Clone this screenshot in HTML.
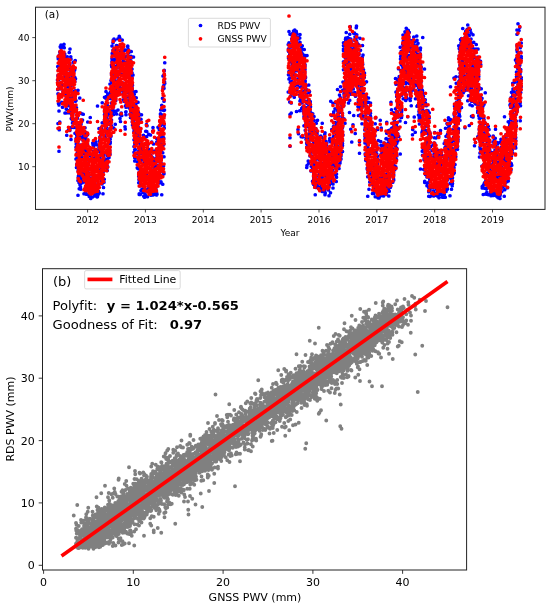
<!DOCTYPE html><html><head><meta charset="utf-8"><title>PWV</title><style>html,body{margin:0;padding:0;background:#fff}svg{display:block;font-variant-ligatures:none}</style></head><body><svg width="550" height="607" viewBox="0 0 550 607" font-family="DejaVu Sans, Liberation Sans, sans-serif">
<rect width="550" height="607" fill="#fff"/>
<g fill="none" stroke-linecap="round">
<path stroke="#0000ff" stroke-width="3.70" d="M94.5 194h0M306.75 147h0M429 155.25h0M346 79.75h0M441.25 155.5h0M60.75 47.75h0M304.5 55.25h0M366.5 81.75h0M407.5 63.5h0M435 156.75h0M71 139.5h0M496.5 156.5h0M315.5 141.5h0M289.25 58.25h0M430 190.75h0M510 144.25h0M426.5 146h0M93.5 151.25h0M367.5 162.5h0M475.75 66.75h0M133 105.5h0M425.5 103h0M327.25 177h0M153.75 167.5h0M428.75 131.5h0M335 122.5h0M163 76h0M486.5 189h0M493 145.75h0M292.75 65.5h0M118 87.5h0M497.75 149.25h0M129.5 76.5h0M152.75 131h0M416.75 45.5h0M497.75 175h0M377.5 164h0M73.5 78.25h0M515 116.75h0M439.25 195h0M306.25 107.75h0M65.75 78h0M476.5 59.5h0M330.75 182h0M409 39.25h0M321 184.25h0M59.5 86h0M339 101.5h0M59.5 59.5h0M94.75 196h0M477.5 88.75h0M89.25 196.5h0M393 173.5h0M90 156h0M74.75 77.25h0M306.75 167.5h0M312.5 181.25h0M107.25 105h0M305 69.5h0M464.75 76.25h0M291.75 38.75h0M383.5 194.25h0M482.25 186.5h0M383 150.75h0M88.25 163h0M520.75 52h0M462 92.75h0M297.5 76h0M517.5 77.25h0M495.5 161h0M69 85.5h0M469 44.75h0M333.5 156.25h0M78.75 179.5h0M304.75 72.25h0M339 168.5h0M121 52.25h0M479.5 140h0M115.5 67.25h0M292 65.25h0M513 89h0M422.5 99h0M490.75 195.25h0M355.5 93.75h0M424.25 158.75h0M365.5 155.5h0M501.75 176.75h0M363.5 69.75h0M413 44.25h0M112.5 82.5h0M142 147h0M333 103.25h0M400 121h0M424.75 169h0M110 143.75h0M495.5 129.25h0M86.5 150.25h0M438.75 156.5h0M84.75 176.25h0M472.25 66h0M84.5 150.5h0M110.5 106.5h0M445.5 128.25h0M493.25 136h0M342 128.75h0M156.75 138.5h0M112 58.75h0M290 146.25h0M494.5 176.5h0M362 101.75h0M517 58.75h0M106 167.75h0M99 128.5h0M419.25 118h0M140.75 185.5h0M510.75 107.5h0M107.5 113h0M78 195.25h0M422.75 116.75h0M110.5 136.75h0M368.5 102.25h0M396.5 154h0M407.25 57.25h0M517.25 100.5h0M405 31.75h0M452.75 129.75h0M489.5 164.25h0M461.75 62.5h0M86.25 194.25h0M471.25 93.5h0M401.25 64.75h0M414 84h0M356.5 26h0M364.25 77.25h0M330.25 153h0M348.25 58h0M123.25 91.25h0M455.25 152.5h0M364.5 73h0M461 90.75h0M368.75 119h0M344 91.75h0M58.75 94.5h0M82.25 173.25h0M365.75 119.5h0M455.5 156.5h0M415.5 98.75h0M446.75 146.75h0M367 141.75h0M388.5 130.5h0M90.25 117.5h0M318.75 138h0M152.25 161.5h0M486.25 194.25h0M68.5 112.75h0M519 57.5h0M442 194.75h0M403 88h0M389.25 191.25h0M393.75 164.25h0M440.25 166.25h0M447.5 180h0M493.75 162h0M498.25 157h0M138.5 154.25h0M142.5 189h0M348.5 68.75h0M128 55.5h0M313.75 179.5h0M420.75 65h0M314 131.25h0M100.75 159.75h0M116.75 50h0M509.25 153.5h0M324.5 154.5h0M154.5 151h0M120.25 50.75h0M421 82h0M340.5 97.75h0M347.75 64h0M95 183.25h0M394.5 121.25h0M131 57.75h0M405.75 33.25h0M429.25 112.75h0M368.5 98h0M383.75 178.75h0M489.5 181.75h0M297 79.75h0M107.25 170.5h0M72 97h0M422.5 130.25h0M135 132.25h0M59.25 55.25h0M422.5 155.25h0M103 193.75h0M344.75 49.75h0M317.5 120.25h0M419.5 119.25h0M390 144.75h0M372.75 184.75h0M417.25 85.25h0M521.25 58.25h0M437.75 196.25h0M133.5 105.75h0M65 113h0M134.25 128.5h0M66.75 135.25h0M118 38.75h0M293.5 31h0M362 107.25h0M506.5 157.75h0M478.75 70.25h0M434.75 193.25h0M484.25 132.75h0M368 170h0M465.25 36.75h0M350.75 129.25h0M156.75 142h0M399.25 85h0M487.5 173h0M297.25 61.5h0M321.5 178.75h0M119.75 45.75h0M128 50.5h0M391.5 109.75h0M499.5 197.25h0M125.25 129h0M153.5 192.75h0M508.5 178h0M143.75 196.25h0M366.25 102.5h0M315.5 164h0M368.5 149.5h0M76.5 167.5h0M153 195h0M157 194.25h0M305.25 95.75h0M354.25 48.75h0M392.75 182.25h0M334.5 174.25h0M134 132h0M308.75 85h0M138.25 114h0M317.5 131.25h0M343.5 49h0M405.75 100.5h0M304 116.75h0M520.25 47.75h0M111.25 127h0M520 72.25h0M337.5 111h0M430.75 156.25h0M344 118.75h0M145 189h0M469.25 35.5h0M100 157.75h0M394 126h0M367.25 145.75h0M138.75 182.75h0M305.25 130.25h0M360.75 74.5h0M449 156.25h0M337.25 146h0M397.75 80.5h0M448.5 119.75h0M71.5 85.25h0M440.75 165.25h0M479.5 126.5h0M164.25 128h0M454.25 114h0M403.75 87.75h0M336.25 133.5h0M327.75 149.75h0M307.25 146.25h0M446 191.5h0M302.25 53.75h0M316.25 123.25h0M388.25 143.25h0M344.25 102h0M141 190.5h0M470.75 90.5h0M342.5 151.5h0M162.5 175.75h0M304.25 49.5h0M427.75 124.75h0M367.5 169.75h0M352.75 87h0M428 133.25h0M72.25 103h0M444.5 190h0M384.25 143h0M106.75 160.5h0M422.5 90.5h0M79.25 136h0M472 90h0M456.5 102h0M404 83.5h0M348.75 61h0M417.5 62.25h0M309.75 130.75h0M164 124.25h0M433.75 190.75h0M518 81.5h0M480.75 151.5h0M314.75 180.25h0M466.25 65.75h0M392.25 135.5h0M87.5 134.75h0M475.75 78.5h0M484.75 140.5h0M138 115.25h0M303.25 111.25h0M365 136.25h0M366.5 127h0M487 152h0M516.75 62.75h0M445 161.5h0M158 127.25h0M479.25 103.5h0M74.75 69.75h0M69.75 130.5h0M352.5 68.5h0M450 157.25h0M381.25 195.25h0M420.5 119.5h0M501 165.75h0M447.25 189.25h0M361.75 86.25h0M107.25 97.5h0M516.25 121h0M521.25 43h0M70.75 97.5h0M394.75 113.75h0M128 52.25h0M129 96h0M518.75 89.75h0M358 106.5h0M319.5 173h0M499.5 194.75h0M62.5 107.25h0M487.5 137.75h0M444.25 194.5h0M466.25 50.25h0M323.5 187.25h0M157.75 166.75h0M429.5 139.5h0M80.75 145h0M338.25 117.25h0M396.75 143.25h0M125.75 50h0M162.25 145.25h0M475.75 78h0M159.75 156.75h0M308.75 115h0M336.25 181.5h0M92.5 197h0M113.5 60.75h0M347.75 37.5h0M325 194.75h0M394.25 138.25h0M460 65.25h0M111.75 82h0M313 170.25h0M145.25 189.25h0M80 136.75h0M132.25 89h0M112.25 60h0M352 93.25h0M482.25 142.25h0M300.25 75h0M301.5 47.5h0M127.25 55.75h0M116.5 45.5h0M111 80.5h0M353.25 89h0M355 36.75h0M389.75 130h0M356.25 27.75h0M510.25 154.75h0M502.25 159h0M336.75 165.5h0M339.5 95h0M163.75 124h0M65.5 76h0M501.25 147.5h0M106.75 133.75h0M494 187.5h0M461.5 38.5h0M131.25 74.5h0M128.5 92.75h0M500.5 176.25h0M146.75 131.5h0M506.75 160.25h0M346.25 32.5h0M341.75 105h0M341 156h0M376.5 178.5h0M406.5 73.25h0M436.75 164.25h0M144.75 163.25h0M58 123.5h0M495.25 172h0M119.25 36.25h0M498.5 179h0M372.5 173.75h0M383.75 145.25h0M138.75 176.25h0M289.75 78h0M410.75 79.5h0M352.5 93h0M101.5 169.5h0M84.75 172.25h0M403.25 98.75h0M164.25 70.75h0M358.5 107h0M514.25 91.75h0M156.5 150.5h0M161.25 151h0M137.5 161.5h0M377 197h0M396 159.25h0M386.5 193h0M160.5 125.5h0M104.5 97.25h0M365.25 153.75h0M331.75 115.5h0M69.25 52.5h0M410.25 100.5h0M356.5 51h0M348 95.5h0M149.25 186.75h0M487.5 141.5h0M397.5 111.75h0M400.5 77.25h0M379 179.25h0M396.5 141.75h0M410.25 92.75h0M103.75 156.25h0M58 93.75h0M471.5 43h0M72.5 123h0M313.75 142.75h0M447.25 147.75h0M99 166.75h0M424.25 111.5h0M430.25 187.25h0M495.75 166.75h0M129.75 66h0M67.5 73h0M135 119.25h0M290 53h0M344.25 97h0M485.5 150.75h0M323.5 191.25h0M489 150.75h0M131.75 87h0M90.25 197h0M413.75 37h0M487.75 187.5h0M384.25 174h0M517.5 90h0M411.5 78.75h0M490.5 193.5h0M377 155.5h0M98.5 191.25h0M364.75 116.25h0M495.5 146.5h0M308.75 106.25h0M306.75 103.25h0M451 142.75h0M341 159h0M361 77.25h0M478 76.75h0M301 51.5h0M73.75 91.5h0M163.75 110.5h0M90.75 198.5h0M521.25 79.5h0M504.5 116.75h0M420.5 48h0M425.5 126h0M99.25 171.25h0M396.25 136.25h0M163.75 138h0M413 44h0M385.75 194.5h0M111.75 75h0M437.75 194.75h0M370.25 149h0M332.75 170.25h0M310.75 144.25h0M314.75 182.25h0M401.75 108.75h0M518.5 72.5h0M133 91.25h0M93 144.75h0M304.5 57.5h0M479 87.25h0M112.5 111.25h0M409.75 83h0M407.5 30.75h0M460 120.25h0M473.75 55.25h0M506.5 136h0M159.25 129.5h0M465 81h0M138 126.75h0M503.75 159h0M459.25 59h0M85.75 192.5h0M127.75 46h0M312 133.25h0M343.5 69.75h0M508 143.25h0M78.5 181.25h0M484 119.75h0M292.75 33.25h0M432.5 187.5h0M450.25 150h0M368.5 113h0M76 100.5h0M116.25 57.5h0M107.25 160.25h0M115.25 86.25h0M424.5 170h0M433.25 158.25h0M400.5 59h0M159.5 183h0M325.25 193h0M128.5 60.5h0M397.25 101.75h0M67.5 93h0M57.5 80h0M88.5 172.75h0M379.25 177.75h0M363.75 100.75h0M445.25 197.25h0M346 87.5h0M132.25 93.25h0M485.5 123.5h0M158.75 178.75h0M365.5 119.5h0M483.75 164.5h0M360.5 108.75h0M407.75 116.75h0M138.5 116.25h0M315 160.5h0M450 120h0M473.25 57.25h0M395.75 138h0M134 146.5h0M321.75 163.25h0M345.25 58h0M134 139.75h0M102 184h0M74.25 120.75h0M362 104h0M351.25 67.25h0M143.5 135.25h0M448.5 134.5h0M511.5 149h0M65 75.25h0M365.5 137.25h0M140.25 138.75h0M108 156h0M450.5 119.5h0M136.25 134h0M462.5 60.5h0M520.25 120.75h0M469.25 125.5h0M157 165.75h0M480.75 64.5h0M117.5 65.25h0M498 164h0M115.25 124.25h0M460 51.25h0M163.25 137.25h0M407 98.75h0M120.25 114.75h0M158.25 165.5h0M511.5 156h0M392.5 152.75h0M94 159h0M162 136.5h0M454 137h0M359.5 141.5h0M335.25 166.25h0M116.25 46h0M106.5 96.5h0M403.75 40h0M160.5 171.25h0M420.25 64.75h0M392.75 148.75h0M161.25 163.25h0M331.75 129.5h0M69.5 87.25h0M126 107.25h0M344.5 83.25h0M447.5 151h0M310.25 113h0M82.25 181.25h0M369.25 154.5h0M308.25 161h0M76.5 107.75h0M463.75 89h0M143 192.5h0M144.75 136.75h0M437.75 136.5h0M471 39h0M401.75 95.25h0M115.25 75h0M511.5 123.5h0M420.5 169h0M288.25 92h0M454.75 106.5h0M73.25 62.25h0M438.75 136h0M163.5 166h0M330.75 165.5h0M437.5 192.25h0M456.75 129.5h0M347 41.5h0M302.5 137h0M511 97.75h0M59 151.25h0M343.5 50.75h0M410 55.25h0M324.75 134.25h0M521 57.75h0M120 40.25h0M79 158h0M330.75 183.25h0M367.25 147.75h0M383.5 196h0M67.25 59h0M319.25 160h0M128.25 107h0M471.5 48.75h0M499 195h0M311 171h0M343.75 105.75h0M393.75 175h0M65 57h0M396.5 124h0M396 92h0M300 87h0M362 123.75h0M508.25 181h0M133.5 113.25h0M507.5 187.75h0M374 192.5h0M429.75 154h0M77.75 144.75h0M424.25 99.5h0M123.25 94h0M499.5 162h0M82.5 137.75h0M430.5 146.5h0M475.75 75h0M389.25 180.75h0M84 180.75h0M80.5 187h0M137.25 167.75h0M384 148.75h0M71.25 118.5h0M128.5 49.75h0M489.25 169h0M298.5 133.75h0M158.25 180.75h0M367.25 168h0M366.75 141.75h0M384.75 188h0M453.75 173.5h0M125 98h0M103.5 162.25h0M77.25 128h0M492.75 195h0M405.25 35.25h0M434.5 156.25h0M349 38.5h0M467.25 29.25h0M407.75 55.75h0M425 160.5h0M62.5 84.5h0M302 103h0M78 159.75h0M475.5 50h0M134.75 161h0M448 134.25h0M319.5 177.25h0M484 152.5h0M333.5 126.5h0M458.5 99h0M356.25 37.5h0M497.25 142.5h0M61 65.75h0M395.75 146.25h0M398.75 136.5h0M344.5 88.75h0M447 177h0M487.75 126.25h0M423 122.25h0M83.25 114.25h0M312.75 151.5h0M397.75 133.75h0M516.5 76.75h0M450.25 123h0M513.75 137.75h0M67.5 67.5h0M476 49h0M349 63.25h0M417.5 54.25h0M101.5 181h0M521.25 56.5h0M458.25 130.5h0M306.75 94.25h0M298.25 39h0M436.25 149.75h0M497 175.25h0M368.25 171.75h0M81 123.25h0M298.25 37.5h0M307.25 117.25h0M370 170.75h0M84.25 159.75h0M333.5 136.5h0M354.25 33.25h0M337.25 110.25h0M410.5 98h0M305 66h0M478.75 115.75h0M115.75 90h0M105 124.25h0M155 166.75h0M416.75 36h0M292.5 63.75h0M439 197.75h0M87.5 144h0M369.75 113.25h0M90.25 168h0M297 90.5h0M401.5 117.5h0M120.5 121.5h0M519.75 72.75h0M329 195.75h0M367 128.5h0M128.75 102.75h0M316 187.5h0M88.5 153.75h0M409.25 49.25h0M143 150.5h0M96 158.5h0M312.5 168h0M74.75 81.5h0M75.25 60.5h0M514 102.75h0M342.5 113.25h0M516 105.5h0M335.5 146.5h0M397.5 90.25h0M370.75 118h0M126 111.75h0M103.5 187.5h0M79.75 98h0M120 72.75h0M366 117h0M497.75 144h0M302.75 71.5h0M329.75 140.5h0M86 140h0M148.5 185.25h0M460.25 73.25h0M145 193.75h0M163.75 144.25h0M403.75 83h0M370.5 116.75h0M133.5 128h0M418 43.25h0M133.75 94h0M102.25 122.75h0M353.75 115.5h0M350.25 27h0M330.75 101.25h0M407.25 69.75h0M367.75 146.25h0M66.5 85.75h0M370.5 113.25h0M148.75 134.25h0M365.75 160.25h0M403 50.5h0M375.75 117.75h0M70.25 104h0M353 124.75h0M60.75 46.25h0M462 83.25h0M421 88.75h0M505.5 156h0M480.5 100.25h0M452.5 183.5h0M421.25 67.25h0M306 107.5h0M159.5 173h0M142 189.25h0M432 150.75h0M309.5 91.5h0M504.25 196.25h0M517 49.5h0M343 82h0M422.25 151.25h0M112 46h0M110 128.25h0M326.25 144.5h0M300.5 100h0M289 71.5h0M133 112h0M426.25 170.75h0M365.25 143h0M141.5 114.75h0M458.5 116.5h0M109 157.5h0M491 172h0M335 108.75h0M520 73.25h0M354 46h0M132.5 107.5h0M490.5 191.5h0M388.75 190.25h0M115.75 100.5h0M78.25 124.5h0M384 177.75h0M86.25 183h0M99.75 141.5h0M397 95.75h0M348.5 39h0M477.5 80.75h0M64 44.25h0M71.75 113.5h0M324.75 192.25h0M455.25 148h0M121.25 113h0M496.5 195h0M388.5 189.75h0M298 129.5h0M126.25 105h0M413 42h0M441 154.75h0M479.25 106h0M294.75 75h0M453.5 137.25h0M361.75 116.75h0M113.5 105.75h0M476 58h0M425 154h0M326.5 144.5h0M442 155.25h0M417.75 105.25h0M85.5 175.25h0M403 67.75h0M340 161.5h0M343 135h0M401 70.5h0M510.75 104.75h0M444.5 157.5h0M363 55h0M386.25 174.25h0M317.5 176h0M358.5 115.5h0M337.75 105.75h0M464.25 68h0M494.75 177.25h0M138 133.25h0M393.5 122.75h0M302.25 45.75h0M471.75 88h0M454.75 117h0M308.75 141.5h0M479.75 118.5h0M428.75 148h0M341.75 146.25h0M65.75 93.5h0M162.75 115h0M452.5 155.75h0M321.75 175h0M134.25 94.25h0M432.75 195.25h0M93.5 158.75h0M144.25 163h0M112.75 108.5h0M332.25 156.5h0M97.25 152h0M144.5 197.25h0M83.25 135.5h0M502 167.25h0M468.5 95.75h0M315.5 181.25h0M338.25 152h0M508.25 121.75h0M358.25 83.75h0M60.25 46.75h0M395.5 78.5h0M156 189.75h0M311.5 113.5h0M452.5 181h0M485.25 92.75h0M420.25 53.75h0M411.5 46.5h0M403 35h0M95.5 144.75h0M387.25 144h0M513.25 122.75h0M320 187.25h0M102.25 130h0M163 88.75h0M138.75 134h0M105 107.5h0M147 125.75h0M478.5 68.75h0M160.75 110h0M312 130.75h0M406.5 97.25h0M497 176.75h0M491.5 152.75h0M356.5 40.75h0M447.25 148h0M460.5 77.75h0M131.25 75h0M514.75 98.75h0M296.25 31.25h0M335.75 102.25h0M329.75 138.5h0M420 68.75h0M108.5 139.25h0M447.5 134.25h0M392 128h0M518.75 104.5h0M423.25 129.25h0M518.25 54.5h0M344 93.75h0M130.75 60h0M481 98.5h0M291 93h0M136.25 97.75h0M410 51.25h0M422.25 133.5h0M304 108.5h0M479.5 157h0M323.5 187.5h0M328.5 190h0M133.25 122h0M307 90h0M460.5 39.5h0M128 52.5h0M99.25 193h0M459.75 109.5h0M85.25 154h0M93.25 147h0M386.75 133.25h0M499.5 195.75h0M104.5 120.25h0M91 179h0M417 40.25h0M418.5 87.5h0M455.25 145.25h0M448 137h0M483.75 117.75h0M365 143h0M302 84h0M425 105.25h0M507 181.75h0M418.5 88h0M458.75 45.75h0M103.25 171.75h0M77.25 157.25h0M158.25 161.75h0M382.5 176.5h0M411 91.5h0M105.25 137.75h0M122.75 74.5h0M511.75 165.25h0M389.25 177.25h0M518.5 52.75h0M311.25 166.25h0M459.25 114.25h0M343.5 61.75h0M479.25 129.5h0M517.25 109.75h0M487.5 126.75h0M119 85.75h0M408.25 30.25h0M120.5 68.25h0M419.5 124h0M475.5 142.25h0M515.75 148h0M329.75 140h0M314.25 162.75h0M161 143.75h0M98.75 149.75h0M423.75 169.5h0M427 142h0M398 117h0M430 190h0M298.5 79.5h0M456.75 147.25h0M314 116.5h0M403.75 47h0M457.5 140.5h0M75.25 119h0M415.5 84.5h0M421.5 87.75h0M500 195.5h0M395.25 135.5h0M156.25 158h0M515.5 114.5h0M151.5 149.5h0M59.25 129.75h0M434 143h0M132 69h0M482.25 188h0M59 105h0M459.5 76.75h0M97.5 193.5h0M148.5 188.75h0M381 145.25h0M357.5 74.25h0M322 177.75h0M500.5 190.25h0M72 76.5h0M503.75 138.75h0M345.75 63.75h0M90.25 195h0M77.5 134.5h0M451.25 183.75h0M480.75 122.75h0M520.25 102.5h0M329.25 185.25h0M368.5 143.75h0M426.75 110.5h0M288.75 57.75h0M436.75 195.25h0M122.75 51.5h0M454.75 106h0M111.5 98.75h0M296.25 36.75h0M472.75 68.5h0M112.75 109h0M418 48.75h0M58.5 69.75h0M457.5 149.25h0M518 83h0M516.25 94.25h0M294.5 86h0M135.25 153.75h0M517 50.25h0M445 147.5h0M423.25 93h0M422.75 110h0M316 123h0M388.75 187h0M164.5 110h0M473 34.75h0M156 194.5h0M386 186.25h0M370.75 135.25h0M459.25 116h0M350.75 94.25h0M344.25 89h0M132.5 125h0M96.5 144.5h0M124.25 58.5h0M336.5 124.5h0M505 183.75h0M317 133.5h0M83.25 134h0M156.75 193.25h0M434.25 143.75h0M312.5 134.25h0M448 177.75h0M75 133.25h0M478.5 86.25h0M412.25 90h0M317.75 158h0M399.25 76.5h0M101.75 152.25h0M479.25 133.75h0M141.25 153.5h0M317.75 186.5h0M310.75 112.5h0M393.75 180h0M139.5 146.75h0M290 34.25h0M97 195.25h0M292 35.25h0M134.75 149.75h0M476.25 77h0M507.5 139.5h0M350.25 91h0M138.75 113.5h0M337.75 153.25h0M467.25 73.75h0M489.75 150h0M372 172.25h0M452 141.75h0M423 148.25h0M405 70.25h0M107 116.25h0M433.75 196h0M68.25 77.25h0M350.25 48h0M479.5 60.75h0M514.25 121.75h0M503 186.75h0M140.5 158h0M378.25 198h0M98 169.75h0M335.5 129.75h0M289 79h0M373.5 177h0M74 71.5h0M380.25 120.25h0M462.75 28.5h0M301.75 108.25h0M72.25 119.75h0M445.25 141.5h0M515.5 144.75h0M156.25 161.25h0M84.25 153.5h0M153.5 144h0M134.75 157.75h0M477.75 136.75h0M510.75 119h0M97.25 197h0M164 173.75h0M510.25 104.5h0M303 91.75h0M74.25 111.75h0M318 158.75h0M473 117h0M480 147h0M363.5 102.75h0M465 127.75h0M377.5 129.5h0M135.75 104.75h0M96 141.75h0M410 48.5h0M333.5 113.75h0M305.5 77h0M485.5 194h0M373.75 165.75h0M340.75 112.25h0M471.25 88h0M104.75 112.25h0M128.75 52.5h0M314 164.75h0M516.5 58.5h0M100.75 139h0M506 134.5h0M122.25 40h0M110.5 98.5h0M362.25 57.25h0M500.75 192.25h0M380.75 141.5h0M66.5 109.25h0M305.5 77.75h0M67.25 56.75h0M59.75 52h0M113.25 55.25h0M492.5 160h0M125.25 56.75h0M427.25 143.75h0M492.75 152.75h0M414.75 50.75h0M138 142.5h0M420.5 116.5h0M309 134.5h0M59.75 122h0M397 148.5h0M455 164.5h0M473 75.75h0M379.75 195.25h0M374 193.5h0M374.5 152h0M105.75 96.75h0M296.75 34h0M488.5 145.5h0M427.5 183h0M393.25 177.25h0M409.5 91h0M63 91.75h0M418.5 115h0M141.25 190.75h0M289.75 44.5h0M119 78.5h0M454.25 114.5h0M80.5 156.5h0M454.25 140.25h0M516.25 99h0M429.5 131.75h0M515.25 144.5h0M59 111h0M445.25 188h0M393.25 166.25h0M413.75 42h0M61.25 82.5h0M420.5 55h0M353.5 75.25h0M288.5 48.75h0M518 23.75h0M349.75 100.25h0M288.75 51h0M83.5 179.25h0M388.25 143h0M342.5 141h0M517.75 68.5h0M483 117.75h0M431.75 195.5h0M320.75 136h0M484.5 188.25h0M303.25 86.5h0M458 139.25h0M164 116h0M328.75 153h0M493.5 195.5h0M461.5 107.5h0M69.75 64h0M351 41.25h0M89 160.75h0M437.5 163h0M513.25 91h0M397.75 141h0M477.25 104.25h0M123.75 60.25h0M427 185.75h0M342.5 145.5h0M417.25 59.25h0M512.25 135.5h0M330.5 192.75h0M381.25 128h0M467.75 87.75h0M520 104.75h0M153.5 162.25h0M483.5 164.75h0M363.75 94.25h0M493 142h0M369.75 174.5h0M76 147.25h0M511.25 163.5h0M111.5 126h0M68.25 68.25h0M440.25 155.5h0M140 143.75h0M513.5 144.5h0M112 61.5h0M134.75 137h0M505 138.75h0M291.5 47h0M462.25 41.5h0M467 50h0M418.75 91.25h0M312.25 119.5h0M58.5 103.5h0M126.5 97.25h0M470.25 90h0M135.5 143h0M434 154.25h0M81 178.5h0M101.5 127.5h0M310 132.75h0M386.75 122.25h0M332.25 164h0M434.5 137.75h0M71 108.25h0M299.75 94.75h0M448.75 127.25h0M463.25 92.75h0M156.5 195h0M510.25 125.25h0M162.75 152.75h0M110 154.25h0M104 154.25h0M150.75 155h0M307 121.75h0M296.5 111.5h0M288.5 74.75h0M421.75 106.25h0M140 186h0M424 159.75h0M110.25 112.5h0M511.5 92.25h0M400 116.75h0M415.5 91.25h0M467.75 100.75h0M136 91.5h0M74.75 80h0M494.25 139.75h0M440 192.5h0M104.25 136.5h0M305 64.5h0M376.75 153.75h0M84.25 154h0M300.25 97h0M345 64.75h0M414.5 42h0M468.25 28.75h0M344.5 96.25h0M501 139.25h0M312 114h0M290.25 82.25h0M351.75 142h0M132.25 83.5h0M297.75 44h0M383.25 153.25h0M467.25 34h0M57.75 66.5h0M114.75 50.75h0M68.5 130h0M113 59h0M372.25 128.5h0M387.25 147.75h0M500.25 193.75h0M445.5 144h0M148.5 149.25h0M66.75 87h0M516.5 61.75h0M84.75 181.75h0M84.75 134.5h0M463.75 90h0M131.25 57.5h0M430.5 179.5h0M107.5 115.25h0M325.75 176h0M335.25 118.5h0M444 194.75h0M336.5 174h0M297 43h0M300 42.25h0M81 113.25h0M448.5 117.75h0M446 136.25h0M112.25 53.25h0M82.5 120h0M123.25 99.75h0M350.25 26.5h0M482 166h0M356.75 37h0M164.75 62.75h0M447 159.5h0M89.25 196h0M394.75 169.75h0M427.25 157h0M111 121.25h0M58.75 79.75h0M458.25 94.5h0M483.25 194.5h0M324.75 176h0M473.75 42.25h0M350.5 67.75h0M294.75 30h0M492.75 164.25h0M122.5 62h0M421.5 88.25h0M425.25 99.75h0M81 124.25h0M515.75 140.5h0M85 127.75h0M477.75 112.5h0M495 150h0M356.75 34.75h0M72.75 114h0M491.75 171h0M115 59.75h0M336.25 134.75h0M106 91.5h0M291.25 113h0M467.75 86.25h0M146.25 174.25h0M477.75 111h0M291 61.75h0M78 180.5h0M493 192.25h0M455.75 156.5h0M151.75 156.75h0M364.75 130h0M152 194.5h0M161.75 194.75h0M481 107h0M517.25 51.75h0M71 59h0M420 113.25h0M424.75 182.5h0M500 198.5h0M154.5 160h0M105.75 128.25h0M63.5 46.5h0M375 188.5h0M391.5 128.5h0M83.25 159.75h0M473 48.25h0M396.75 156h0M83 140.25h0M396.75 111.5h0M163.75 85.75h0M104 182.25h0M391.75 133.75h0M324.75 191h0M99.75 140.25h0M481.25 100h0M481.25 88.75h0M143 158.25h0M345 123.25h0M369.75 182h0M313.5 184.25h0M512.75 83.25h0M111.75 66.75h0M125.5 105.75h0M129.5 97.25h0M415.5 81.25h0M306 122.75h0M89.25 177.5h0M302.75 107h0M82 159h0M111.5 65h0M452 148.5h0M471 32.75h0M309.5 126.5h0M467 90h0M480.5 124.5h0M124 101.25h0M111.75 93.25h0M398.75 78.75h0M72.5 111h0M437.5 154h0M459.75 116.25h0M429 135.75h0M64.75 54h0M397.5 129.25h0M333 184h0M291.75 81.5h0M395.75 167.5h0M333 188h0M130.75 111.25h0M512.5 105.75h0M447.75 124.5h0M322.25 123.25h0M419 111.5h0M450 195.75h0M72.75 126.75h0M427.5 133h0M117 68h0M288.5 51.25h0M362 115h0M301 49.75h0M162.75 184.25h0M519.25 66.75h0M305.75 86h0M456 76.75h0M164 125.25h0M463.5 64.5h0M330.25 141.75h0M453.5 174h0M152.75 157.75h0M470 104.75h0M155.75 188.5h0M359 54.5h0M70.75 127.75h0M76.75 135.5h0M477.75 91.5h0M404.5 82.5h0M326.75 143h0M365.5 116.5h0M345.75 38h0M461.25 44.25h0M334 122.75h0M314.75 187h0M443 195.75h0M293.75 73.25h0M454.25 115h0M427.25 117.5h0M130 114.25h0M320.75 189.25h0M424.5 69h0M398.75 105h0M116.5 114h0M76.25 111h0M135.25 149.5h0M479.25 118.25h0M139.75 160.25h0M358.75 44.75h0M81.75 157.5h0M369 189.25h0M454.25 151h0M140.75 160.5h0M519 30.5h0M110.5 92h0M138 102.25h0M316.75 185.75h0M113 42.75h0M351.25 69.25h0M307 138.5h0M472.25 105.75h0M78 144h0M504.75 189.75h0M348.5 103h0M343.5 42.75h0M425.5 174.5h0M115 111.25h0M335.25 163.75h0M397.5 127.25h0M118 110h0M367.75 196.25h0M106.25 127.5h0M365.25 127.5h0M501 188.75h0M402.75 44.25h0M358 84.75h0M289.75 54.5h0M291.25 103h0M401.5 112.5h0M354.75 92.5h0M316.75 168h0M106.5 161.25h0M415.25 132.25h0M290 137.75h0M139 169h0M402.75 66.25h0M456.5 109.5h0M505 161.75h0M104.5 114.75h0M360.75 90.5h0M451.75 180h0M391 102.25h0M426.5 138.25h0M480 153h0M480.25 149h0M164.25 70.25h0M433 145h0M108.5 114h0M494.25 192h0M429 148.5h0M358.5 99.5h0M459 81h0M75 91.25h0M381.25 148.75h0M317 134.25h0M422 132.25h0M111.5 120h0M450 183.5h0M78.25 170.5h0M308.75 99.5h0M92.5 175h0M458.5 112.25h0M365.75 115.75h0M379.5 197h0M66.25 109h0M113.75 128h0M138 158.5h0M321.5 137h0M100 136.75h0M428 110.75h0M458.25 132.75h0M489 129.5h0M414.25 117h0M510.75 103.75h0M76 141h0M437.25 189.25h0M163 145.5h0M132 72.75h0M365.25 105.75h0M111.5 73.75h0M310.25 123.75h0M313.75 174.5h0M57.75 89.5h0M99 147.75h0M120.75 88h0M428.75 187.5h0M315.75 128.5h0M511 120h0M510.75 170.25h0M359.5 153.25h0M153 127.5h0M134 131.25h0M354.75 84h0M110.25 139h0M70 49h0M419 114.5h0M454.75 148.5h0M151.75 142h0M355.5 96.25h0M305 82.25h0M146.75 136.5h0M361.75 105.75h0M160.5 114.75h0M426.25 105.75h0M454.5 106h0M377.5 156.25h0M436 138h0M299.75 110.75h0M458 141h0M458.75 93.25h0M340 163h0M365 139.25h0M516.25 126.5h0M332.5 166h0M409 32.25h0M386 138.75h0M367.25 169h0M480.5 149.5h0M375 135.75h0M500.25 142.25h0M108 131h0M380.25 168h0M518 84.75h0M451.5 189.25h0M110.25 141.75h0M441.25 152.25h0M483.5 184.75h0M470.25 29.75h0M304.25 115.75h0M412.25 40.5h0M406.5 83h0M107.5 121.5h0M139 127.75h0M145.25 194.75h0M79 175h0M66.25 97h0M345.5 41.75h0M365 129.25h0M480.5 61.25h0M140 147.5h0M453.75 165.5h0M478 49h0M362.25 60.5h0M307 126.25h0M65.75 113h0M95.75 144.25h0M289 31.5h0M406.25 28.25h0M357.5 69.5h0M132.5 85.25h0M461 43h0M291 95.5h0M357.25 43.5h0M510 105h0M137.75 168.5h0M160.75 137.75h0M98.5 194h0M382 152.75h0M497.25 162.25h0M360.75 88.75h0M427 177h0M490.75 152.25h0M331 182h0M76.25 144h0M509.5 165.75h0M389.25 139.5h0M305.25 89.25h0M119.75 92h0M147.5 196.75h0M516.25 111.25h0M405.5 83.75h0M77.75 151.75h0M474.5 102.25h0M459.25 48.5h0M411.25 105.75h0M398.5 68.75h0M513.5 108.25h0M306.75 143.5h0M139.25 193.75h0M458.5 128.5h0M471.5 116.25h0M475.75 104h0M329.75 180h0M299.5 69.25h0M514.75 107.75h0M162.25 109.75h0M288.25 44.5h0M393.5 178.25h0M395.5 108.75h0M61 45h0M134.75 143.75h0M114 78.75h0M413.25 87.75h0M422.75 37.5h0M480.25 96h0M343.5 45.5h0M318.25 183h0M342.5 127.5h0M338.25 115.25h0M130.5 117.5h0M309.25 127.75h0M74 127.5h0M146.5 124.5h0M392 133.75h0M429.25 117.75h0M505 185.75h0M465 37.25h0M116.5 81h0M339.5 155.75h0M352.75 49.5h0M81.75 113.75h0M451.25 179h0M358 88h0M310.25 152.5h0M401.75 115.75h0M501.25 188.5h0M111.5 103h0M345.75 79.75h0M108.75 94.25h0M434.25 192.75h0M388.75 196h0M100 149.75h0M483.75 124h0M297 84h0M127 100.25h0M375.75 152h0M79 175.5h0M87.5 194.25h0M342.5 117.25h0M337.5 89.5h0M447 123.5h0M409.75 42.75h0M296 70.75h0M512.75 153h0M60.5 88.5h0M370.5 116.25h0M372.5 193.5h0M326.75 147.5h0M517 34.25h0M71 108h0M376.75 150h0M132.25 121.75h0M381 154.5h0M323.25 138.75h0M333.5 131.75h0M520 74.5h0M450.5 86.75h0M124.25 50.75h0M59 104.5h0M477.75 91.25h0M408.75 36.5h0M138.5 151.5h0M459.25 56h0M341 153.75h0M360.25 84.75h0M471.5 101.25h0M304 113h0M421.75 104.75h0M465.75 31.25h0M306.75 142.5h0M141.75 160h0M495.75 194.25h0M491 195.75h0M338 122.5h0M396.75 96.5h0M400.25 154h0M106 98.5h0M164.5 81.75h0M390.75 186h0M405.5 122.5h0M519.75 64h0M478.75 76.5h0M310.25 103h0M487.75 138h0M68.5 104.5h0M335.5 144.25h0M434.75 143.25h0M403.25 41.25h0M101 134.25h0M79.25 188.75h0M164 156.75h0M378.25 140.5h0M452.25 185.75h0M430 196.5h0M483.25 127h0M163.75 75.25h0M310 138h0M307 165.5h0M428.75 196.25h0M449 137.5h0M466.5 47.75h0M60.75 88.75h0M467.5 89h0M300 101h0M459 69h0M369 120h0M509.75 123.75h0M324.75 188.75h0M75.5 101.25h0M117.5 76h0M133.5 57h0M464.25 91h0M110 84h0M80.75 189.25h0M460.25 66.5h0M497 153.5h0M405.5 82.25h0M485.75 181h0M139 179.75h0M509.75 125.5h0M69.5 110.25h0M401.25 51.25h0M295.75 85h0M482 98.25h0M455.25 126.5h0M341.75 130h0M107.75 159h0M497.75 197.25h0M458.25 123h0M98.75 192h0M403.5 45.25h0M354 47.5h0M137.25 135.25h0M70.75 56.75h0M474.5 145.75h0M349.75 34.25h0M58.25 58.75h0M521.25 86.5h0M338.75 164.5h0M351.75 43.5h0M510 162.5h0M84 193.75h0M162.5 98.25h0M71.25 113.5h0M465 86.5h0M161.75 105.25h0M358 85.75h0M481.5 149.5h0M380.5 195.75h0M107.75 94h0M290 114.5h0M453.75 173h0M365.5 106.25h0M396.5 159.5h0M110.75 124.5h0M145.75 131.25h0M114.75 40h0M347.25 93.5h0M104.25 179.25h0M126.75 62.5h0M129.75 99.5h0M515.75 137.5h0M61 48h0M430.25 133.5h0M92.75 143h0M429.75 179.5h0M367.75 176.75h0M111 114h0M77.5 118.25h0M310.5 106.75h0M390 139.25h0M93.25 177h0M134 95h0M288.5 58h0M424.75 181.25h0M329.25 149.75h0M452.25 177.5h0M87.75 153.5h0M84 137.5h0M421.5 75h0M306.5 136.5h0M456.25 83.25h0M488.5 194.75h0M455.75 123.25h0M107.75 124.5h0M441 172h0M78.75 176.5h0M312.75 113.75h0M486.75 192.5h0M415.25 85.5h0M116 111.25h0M482.75 106.75h0M114 39h0M379 198h0M488.25 126.25h0M319.25 137.5h0M455.5 125.25h0M417 65.25h0M415.75 51.5h0M68 105.75h0M308.5 106.5h0M476.25 44.5h0M124 49.75h0M326 141.25h0M78.5 175.75h0M118 46.25h0M311.5 155.75h0M138.5 112.5h0M350.75 39h0M364.5 83.75h0M131.25 51.5h0M125 126.75h0M304 125.75h0M361.25 114.75h0M139.25 194.5h0M80 184.75h0M99.5 145.75h0M483 106h0M366 96.25h0M512.5 112.25h0M420.25 50h0M374.75 130.25h0M339 116.25h0M511 169.75h0M317.75 137h0M140.25 194.5h0M150.5 135h0M333.75 111.75h0M398 113.75h0M61.75 102.25h0M521.25 77.5h0M459.5 100.5h0M76 159h0M138.75 173h0M70.75 70.75h0M426 130.25h0M101 128h0M141 119.25h0M338.5 113.5h0M101 153.5h0M457 144.25h0M305.25 81h0M151 195.25h0M325 132.75h0M297.25 85h0M336.5 177.25h0M440.5 130.5h0M310 110.25h0M454 78h0M342.75 90.25h0M331 179.25h0M161 181.75h0M361.5 93.25h0M354.5 33h0M472.5 59.25h0M356.75 42.25h0M409.25 32.25h0M362.75 64.25h0M306.25 89.25h0M442.5 197.25h0M500.25 194.5h0M135 158h0M354.5 40.25h0M76.25 138.25h0M289 42.75h0M102.25 102.75h0M420.25 63.75h0M452.5 177.75h0M473.75 57.75h0M77.25 153h0M308.5 120.5h0M308.5 163.25h0M105.5 159.25h0M362.5 45.5h0M131 56.25h0M97.5 106h0M484 104.25h0M322.25 191.5h0M75.5 78.75h0M467.75 25h0M108.25 157.75h0M160.5 113.75h0M310 156h0M514.5 82.25h0M458.5 87h0M489.25 135.75h0M58.75 86.25h0M520.5 105.75h0M107.5 166.5h0M140 137.75h0M489 194.5h0M288.75 49.25h0M414.25 45.5h0M71.75 127.25h0M299.75 38h0M388.25 139.75h0M58.25 57.25h0M106 129h0M365.75 104.25h0M372.5 177.25h0M512.75 95.25h0M420.75 69h0M341.25 144h0M478 57h0M156 152.75h0M73.75 62.25h0M123.75 61h0M121.75 115.5h0M434.75 132.5h0M512.25 150h0M148.75 188h0M349.75 92.25h0M360.5 50.25h0M97.5 196.5h0M58.5 94.75h0M120 118.5h0M313.75 177.75h0M75 98.25h0M458.5 111.5h0M439.25 150.5h0M301.75 52.75h0M377 145.5h0M119.75 37.75h0M289.75 102h0M123.25 83h0M457.5 146.5h0M314 120.25h0M164.75 83.25h0M455.75 156.75h0M80.5 184h0M306 137.75h0M423.5 134.25h0M306 139.25h0M164 101.25h0M381.75 195.5h0M94.75 157.75h0M355.25 133.5h0M309 92.5h0M409.5 83.5h0M496.75 196.25h0M332.75 138.5h0M495.25 138.25h0M405.25 93.25h0M423.5 96.25h0M306 134.75h0M515.5 147h0M134 152.25h0M519.75 27.25h0M157 155.5h0M395.75 166.75h0M296.5 42h0M370.5 103h0M141.5 148.75h0M113.5 114.5h0M515.5 60h0M444.25 143.5h0M85.75 137.25h0M113 50h0M110.25 143h0M296.5 32.75h0M517 30h0M78.25 177.25h0M96.75 144.75h0M143 159.75h0M311.5 166.5h0M479 89.25h0M388 189.5h0M341.25 108.25h0M460 79.75h0M307 55.5h0M87.75 122h0M64.25 47.75h0M164 88.25h0M130 108.75h0M367 106.5h0M69.75 64.75h0M516.5 72h0M396.5 126.25h0M340.5 86.75h0M428.75 191.75h0M300 34.5h0M113 75.75h0M349.5 112.5h0M86.25 132.75h0M107.25 119h0M520.75 92.5h0M378.25 159.75h0M363.5 90.75h0M315.25 194.75h0M517 45.5h0M107.75 166.75h0M297.25 70.75h0M345.5 39.25h0M519.75 65.25h0M447.25 188.25h0M362 117.75h0M75.25 90.75h0M454 167.75h0M303.5 99.5h0M310.25 101.5h0M386.25 138.5h0M306.5 101.25h0M417 106.25h0M455.5 123.75h0M370.75 178.5h0M400.75 56.25h0M431 136.75h0M133 75h0M454.25 172.75h0M498.25 197.75h0M294.25 97.25h0M147.75 145h0M396 84.25h0M436.75 188.75h0M127.75 46.75h0M76.75 164.25h0M360 38.25h0M386.5 178.5h0M484.5 182.75h0M112.25 53.75h0M126 114.75h0M501.75 191.5h0M365.25 138h0M358.25 102h0M515.25 132.5h0M107.5 155.5h0M109.75 150h0M132 77.5h0M60.75 71.25h0M163.75 173h0M461.5 41.5h0M393.5 112.75h0M390.5 187.25h0M125.75 112h0M449.25 125.5h0M69.75 105.5h0M353.75 33.25h0M58 75.5h0M375.25 123.75h0M489.5 148.5h0M412.75 129.5h0M301.25 136.75h0M401.75 110.75h0M79 182.5h0M360.5 114.75h0M163.75 85.5h0M113.25 40h0M412.5 134.75h0M113.75 65h0M80.25 176h0M372 129.75h0M78 90.25h0M140 130.75h0M111 136.25h0M516.25 114.25h0M400.25 47.25h0M429.25 182h0M375.25 196.75h0M72.75 120.5h0M311 139.75h0M99 151.25h0M342.5 143.5h0M520.75 69.5h0M82.25 182.75h0M337.25 104.75h0M427.25 126.25h0"/>
<path stroke="#ff0000" stroke-width="3.70" d="M432.5 169.25h0M97.75 185h0M94.5 191h0M306.75 140h0M429 153.75h0M346 78.25h0M441.25 150h0M60.75 59h0M304.5 62.25h0M366.5 94h0M407.5 69.25h0M490.5 187.75h0M435 151h0M71 136h0M77.25 148.5h0M323.25 159.25h0M496.5 149.75h0M418 71.25h0M126.25 76.25h0M360.75 76.75h0M315.5 134.25h0M100.75 149.75h0M289.25 57.25h0M430 187h0M510 143.75h0M347.75 54.75h0M426.5 148.75h0M93.5 151.75h0M367.5 142h0M475.75 68h0M133 99.75h0M87.75 158.25h0M425.5 93.25h0M401.75 74.25h0M327.25 181.25h0M153.75 164.5h0M319.25 155.25h0M428.75 129.25h0M335 127h0M104.75 145.75h0M163 93.5h0M418.25 71.75h0M439.25 177h0M486.5 175.25h0M493 156h0M448.5 141.25h0M105.5 120.75h0M351.75 60.5h0M293.75 88.25h0M336.25 161.75h0M292.75 59.25h0M143.5 144h0M434.75 179.75h0M118 71.75h0M486.75 164.25h0M497.75 153h0M129.5 70.25h0M87 158.25h0M152.75 131.5h0M416.75 56.75h0M458.25 120.5h0M497.75 165.25h0M349.75 77.75h0M377.5 166.75h0M460.5 72h0M73.5 79.25h0M515 115.25h0M439.25 185.5h0M306.25 114h0M65.75 92.25h0M476.5 68h0M432 165.5h0M378 190.75h0M330.75 178h0M409 40.5h0M355.75 79.5h0M476.75 82.5h0M321 174.25h0M296.25 67.5h0M148.75 181h0M380.5 179.5h0M59.5 76h0M339 111h0M93 166.75h0M95.75 177h0M59.5 63.75h0M139.75 177h0M354.75 59.25h0M94.75 184.25h0M477.5 98.25h0M508.5 178.25h0M89.25 192.75h0M393 176.5h0M462.75 49.25h0M90 147.5h0M74.75 82h0M373.75 182.5h0M306.75 148.25h0M319.5 140h0M293 50.75h0M312.5 146.75h0M120 70h0M65.75 64.75h0M107.25 107.5h0M408.5 49h0M305 67.75h0M464.75 82.25h0M353 62h0M149.75 183.5h0M291.75 41h0M370.25 132.5h0M365.5 126h0M383.5 192.5h0M482.25 170.75h0M383 160.5h0M88.25 165.5h0M520.75 62.5h0M462 95.5h0M436.5 174.5h0M132 84.5h0M297.5 69.75h0M517.5 78.5h0M495.5 157.5h0M69 79.75h0M469 39.25h0M442 185.5h0M482.5 153.25h0M333.5 150.75h0M78.75 168.5h0M304.75 65.5h0M363.75 82.75h0M339 165.75h0M375.25 167.75h0M435.25 174.75h0M121 54h0M447.5 164.5h0M103.5 162.75h0M479.5 137.25h0M115.5 75.25h0M292 68.75h0M513 99.25h0M422.5 97.25h0M490.75 185.25h0M152 170h0M355.5 103.75h0M424.25 157h0M365.5 154.5h0M501.75 151.75h0M290.5 54h0M363.5 76.5h0M470.5 54.75h0M413 48.5h0M112.5 92.5h0M142 143h0M303 75.25h0M510.5 133.75h0M150.25 181.75h0M333 105.5h0M349 87.25h0M160.75 147.25h0M400 127h0M424.75 166.5h0M110 152.5h0M495.5 126.25h0M83.75 169.5h0M464.5 45h0M86.5 166.25h0M468.75 83h0M438.75 165h0M390.25 161.75h0M84.75 162.75h0M432.75 109.25h0M472.25 68.5h0M453.75 119.5h0M84.5 148h0M80.75 145.25h0M110.5 106.25h0M445.5 143.75h0M360.5 97h0M493.25 147h0M487.25 131.75h0M145.25 156.75h0M342 128h0M156.75 144h0M303 68.5h0M85 143.25h0M112 63h0M290 145.75h0M137 143.5h0M494.5 161.5h0M362 107.75h0M378.25 169h0M517 55.5h0M482.75 144.25h0M406.25 90.75h0M123 75.75h0M106 166.75h0M99 132.25h0M419.25 109.75h0M76.5 118.5h0M421.75 86.25h0M387.5 149.75h0M470.25 41.5h0M65.75 79.5h0M140.75 182.75h0M510.75 106h0M71.25 74.5h0M107.5 120.5h0M67.5 76.75h0M78 171.75h0M518.75 88.5h0M422.75 111.75h0M110.5 135.25h0M368.5 108h0M472.25 60h0M396.5 152.5h0M383.5 187.5h0M407.25 65.25h0M296.25 42.5h0M369.25 128.75h0M318.75 152.5h0M326.5 152.25h0M469.75 70.75h0M314.5 145.75h0M368.75 130.75h0M130 95.75h0M517.25 108.5h0M405 38.25h0M452.75 121.5h0M478 59h0M506 148.75h0M507 172.75h0M322 151.25h0M489.5 162.5h0M60 54.75h0M461.75 55.5h0M86.25 185h0M471.25 94.5h0M93.75 154.75h0M401.25 75.75h0M414 86.5h0M356.5 36.75h0M101.75 173.5h0M364.25 88.5h0M147.5 158.5h0M330.25 155.25h0M348.25 66.75h0M462 80.5h0M108 143h0M136 111.25h0M123.25 96.75h0M295.5 79.5h0M381.25 191.75h0M364 90h0M348.75 49.25h0M333.75 181h0M455.25 158.75h0M345.5 76.25h0M364.5 75.25h0M461 70h0M371 148.75h0M368.75 113h0M344 102.5h0M58.75 96.25h0M82.25 175.25h0M518.25 98h0M365.75 126.25h0M455.5 147.25h0M379.5 172h0M415.5 93.75h0M504.75 146.5h0M446.75 152.75h0M367 132.25h0M487 168.25h0M371.25 142.25h0M159.25 161.5h0M145.25 172.75h0M159 168h0M79.5 147.25h0M388.5 150.5h0M90.25 122.25h0M374.25 169h0M318.75 141.75h0M152.25 162.5h0M486.25 185h0M64.75 84h0M68.5 111.5h0M304 98.5h0M434.5 160.25h0M519 52.75h0M407.75 45.75h0M442 190.75h0M403 88.5h0M389.25 173h0M300.75 78.25h0M393.75 168.75h0M440.25 158.75h0M447.5 185h0M493.75 164.5h0M373 142.25h0M498.25 157.5h0M138.5 148.25h0M142.5 180.5h0M348.5 76.25h0M383.5 186.75h0M332.75 151.75h0M432 168.25h0M128 58.25h0M62.25 73.5h0M63 60.75h0M503.5 136.75h0M313.75 173.25h0M467 68.75h0M420.75 76.75h0M314 132.5h0M417 73.25h0M438.5 173.75h0M515.25 137h0M100.75 161.5h0M116.75 54.75h0M509.25 159.75h0M391 175.5h0M324.5 164.75h0M456.75 106h0M154.5 137.25h0M120.25 44.25h0M421 77.75h0M340.5 98.75h0M347.75 88.5h0M95 186.75h0M448 152.75h0M98 170.75h0M394.5 123.25h0M130.25 114.25h0M350.25 82.25h0M71.75 88.75h0M131 66.5h0M66.75 105h0M489 164.75h0M494.5 173h0M405.75 35.25h0M384.5 175.5h0M429.25 116.5h0M368.5 110.75h0M383.75 174h0M98.25 183.75h0M407 60.75h0M489.5 178.5h0M412.75 59.75h0M323.5 169h0M304 109.5h0M500.5 159.75h0M108 148.25h0M109.25 155.25h0M445.25 168.75h0M446.5 178h0M324.75 151.75h0M394.75 129h0M297 67.25h0M159.25 175.5h0M392.5 161.75h0M107.25 151.25h0M329.75 168h0M72 100.75h0M422.5 128h0M135 124h0M386.75 154h0M59.25 68.25h0M366 122.75h0M422.5 145.75h0M418.75 104h0M118 50h0M103 178h0M344.75 55.25h0M317.5 139.5h0M77.5 139.75h0M159 151.75h0M419.5 105.5h0M390 140h0M372.75 179.5h0M358.5 78.25h0M115 100h0M417.25 92.5h0M521.25 39.5h0M437.75 185h0M133.5 104.5h0M406.5 47.25h0M65 99.75h0M128.5 66h0M381.25 171.5h0M443.25 172.25h0M357 80h0M134.25 119h0M406.25 44.5h0M66.75 131.5h0M72.75 104.5h0M90 169.5h0M118 54h0M293.5 43h0M123.75 46.5h0M362 96.25h0M439.75 169.25h0M108.25 148.25h0M506.5 146h0M478.75 72.5h0M434.75 187.25h0M474.75 101.25h0M484.25 136h0M368 162.25h0M151.5 177h0M434.25 183.5h0M465.25 39h0M350.75 84.25h0M476.25 63.25h0M156.75 153.5h0M69.75 101h0M399.25 84h0M487.5 160h0M297.25 64.75h0M321.5 183.25h0M84.75 168.75h0M119.75 46.5h0M294 67.75h0M473 78.75h0M128 59.75h0M391.5 113.25h0M499.5 192.75h0M145.75 155h0M443.25 178.75h0M125.25 122.25h0M143.5 174.25h0M83.25 145.75h0M153.5 191.25h0M119.25 55.25h0M508.5 167.5h0M143.75 190.5h0M366.25 99.5h0M463.5 70.5h0M315.5 167.25h0M368.5 143.25h0M324 157.25h0M76.5 155h0M144.75 160.5h0M153 180.75h0M157 186.5h0M305.25 96.75h0M354.25 44.25h0M93.5 168h0M392.75 181h0M334.5 179.75h0M61.75 61.5h0M134 128h0M308.75 90.25h0M138.25 121h0M138.25 119.5h0M358 92.25h0M317.5 131h0M343.5 54.75h0M405.75 97.5h0M304 114h0M490 183h0M520.25 60h0M111.25 127.25h0M442.25 186.25h0M520 87.5h0M337.5 102.75h0M430.75 155h0M372.75 145.25h0M344 101.5h0M416.75 82h0M145 190.5h0M96.25 168.5h0M469.25 47.25h0M100 166.5h0M145.75 179.75h0M394 124.5h0M294.75 56.5h0M515 127.5h0M367.25 137.25h0M138.75 174.75h0M305.25 120.75h0M360.75 71h0M449 155.5h0M92 187.25h0M337.25 135h0M302.5 66.5h0M91.75 179h0M332.25 159.75h0M397.75 88.75h0M448.5 132.5h0M71.5 74.5h0M136.25 145.5h0M440.75 160.25h0M479.5 134.5h0M140.25 150.75h0M512 111.5h0M164.25 123.5h0M454.25 118.75h0M403.75 92.5h0M155.75 189.75h0M336.25 128.5h0M327.75 155.5h0M307.25 142.25h0M293 85h0M463 72h0M446.5 184.25h0M439.25 168.5h0M295.5 54.5h0M446 186h0M302.25 58h0M316.25 138h0M388.25 144.75h0M146.25 170.5h0M344.25 91h0M141 182.25h0M470.75 98h0M403.75 63.75h0M475.5 65.5h0M112.5 92.25h0M77.75 161.25h0M388.25 150.5h0M81.25 170h0M326.5 149.25h0M377.5 193.75h0M435 176h0M342.5 134.25h0M474.5 98.25h0M307.25 120.25h0M126.25 67.25h0M506.5 158.75h0M162.5 168.75h0M304.25 61.75h0M427.75 123.25h0M367.5 165.25h0M145 167.25h0M352.75 80h0M376.5 174.5h0M130.25 98.25h0M428 121h0M408.75 45h0M72.25 110h0M372.75 138.25h0M432.75 183.75h0M444.5 184.5h0M382.25 186h0M384.25 150h0M106.75 161.75h0M422.5 102.25h0M340 138.5h0M79.25 133h0M373.75 137.5h0M437.75 182.25h0M501.25 158.5h0M123.75 70h0M472 90.5h0M456.5 102.75h0M120.5 89h0M69.75 91.75h0M404 89.75h0M348.75 52h0M439 171h0M417.5 57.5h0M116 98.75h0M309.75 128.5h0M164 133.75h0M433.75 194.25h0M318.25 157.5h0M518 92h0M405.5 59h0M480.75 151.75h0M150.5 176h0M437.5 178h0M338.25 124.25h0M414.75 46.5h0M314.75 182.75h0M390 150.25h0M466.25 57h0M493.5 168.5h0M499.75 189.5h0M135.75 108.75h0M90 160.25h0M392.25 150.25h0M291.75 50.25h0M87.5 133h0M475.75 83.5h0M329 160.75h0M493 169.25h0M484.75 138h0M138 110.5h0M303.25 100.25h0M494.5 166.5h0M507 127.75h0M154.75 177.5h0M365 125h0M366.5 126.75h0M323.75 171.5h0M476.5 78.75h0M487 158.5h0M60 51.5h0M357.25 60h0M516.75 65.25h0M124 77.75h0M445 159.25h0M476.5 75.75h0M158 133h0M401.75 80.25h0M158.25 137.75h0M479.25 99h0M74.75 62.25h0M411.25 70.75h0M434.5 181h0M303.5 84h0M456 108.75h0M69.75 130h0M359.75 95.5h0M334.25 154.25h0M352.5 71.75h0M450 153.5h0M381.25 187.75h0M420.5 139.5h0M413.75 81.5h0M509 156.5h0M501 172h0M447.25 179.25h0M361.75 88.5h0M107.25 99.75h0M503.75 177.5h0M68.25 74.25h0M516.25 105.75h0M521.25 46h0M160.75 163.5h0M70.75 102h0M394.75 117.25h0M400.5 83.75h0M501.75 173h0M436.5 170.75h0M102 171.75h0M128 56.25h0M129 78.5h0M518.75 84.5h0M427.5 164.25h0M464.25 51h0M361.75 104.5h0M325 162h0M358 109.75h0M319.5 176.25h0M328 162.5h0M499.5 181.75h0M62.5 103.75h0M126.25 63.75h0M487.5 124.5h0M126.75 75h0M444.25 192.25h0M156.75 172.25h0M466.25 44.5h0M323.5 179.75h0M157.75 175.5h0M439.5 164h0M429.5 139.25h0M64.75 63.75h0M80.75 149.5h0M338.25 123.75h0M106.5 145.25h0M396.75 136h0M125.75 63.25h0M153.25 164h0M500 193.75h0M469.25 50h0M469.25 40h0M162.25 147.25h0M320 172.75h0M475.75 79.25h0M320.25 159.75h0M320 155.75h0M159.75 147.75h0M119.25 93h0M308.75 111.5h0M317.75 150.5h0M442 184.25h0M320.75 153.75h0M354.5 58.75h0M302 71.25h0M336.25 164.75h0M95.5 175.5h0M92.5 185.25h0M113.5 68.5h0M352.75 94.25h0M145.25 164.75h0M66.5 84.25h0M500.25 162.75h0M117.5 84.75h0M347.75 47.5h0M355.75 82h0M325 181.5h0M61.5 86.75h0M394.25 127.5h0M460 64.25h0M111.75 88h0M134.5 116.5h0M112.75 93h0M321.5 150.5h0M446.25 169.75h0M470.5 64.75h0M369.25 170h0M313 170.5h0M437.75 189h0M145.25 184h0M80 134.25h0M494.5 175.75h0M435.5 178.25h0M506.25 156.25h0M132.25 78.75h0M299.75 62h0M112.25 62.5h0M352 86h0M482.25 144.5h0M397.75 107.75h0M300.25 81.75h0M507.25 155.5h0M301.5 57.75h0M127.25 59.75h0M298.25 54h0M116.5 47.25h0M111 86.25h0M353.25 84h0M137.75 113.5h0M89.75 152.25h0M463 47.25h0M355 44.75h0M443.25 170h0M293.75 78h0M432.75 180h0M500.75 179h0M334.25 151.75h0M389.75 131.75h0M325.75 148.75h0M477 93.5h0M356.25 47h0M125.25 74h0M378.5 171h0M355.5 84h0M433 161.25h0M394 145h0M510.25 149.25h0M502.25 172.5h0M91.5 189.75h0M336.75 168.25h0M156.25 180.5h0M377.25 181.25h0M339.5 107.5h0M79.25 158h0M163.75 116.25h0M65.5 83.25h0M362.5 67.75h0M101.25 141.75h0M425 143h0M501.25 148.75h0M106.75 140.5h0M298.75 52.25h0M504.25 151h0M294.75 84.25h0M304 105.75h0M142.5 173h0M480.75 139.5h0M494 183.75h0M461.5 44h0M98.25 180h0M118.75 63.5h0M131.25 66.75h0M475.5 78.75h0M128.5 81.25h0M384.5 153.5h0M500.5 178.25h0M316.5 166.75h0M96.25 160.25h0M146.75 140.75h0M506.75 150.75h0M346.25 46.5h0M341.75 110h0M371 121.25h0M341 150.5h0M465.5 37h0M314 175.75h0M372.25 136.25h0M92.25 174.25h0M79.5 160.5h0M376.5 191.75h0M136.5 117.25h0M406.5 78h0M101.25 154.25h0M436.75 157h0M144.75 176.75h0M91.25 188.25h0M428 167.75h0M58 128.25h0M109 151h0M495.25 169.5h0M443.75 164.25h0M430.5 157.5h0M447 170.25h0M499 184.5h0M498.5 172.25h0M503.75 152.25h0M452 166.5h0M77.75 128.25h0M301 60.75h0M378.75 193h0M372.5 175.25h0M89.75 181.25h0M130.5 92.5h0M383.75 154h0M138.75 157h0M289.75 72.5h0M149.75 182.5h0M410.75 75.5h0M352.5 86.75h0M479.5 130.75h0M101.5 163.75h0M84.75 167h0M403.25 83.5h0M385.75 176.75h0M507 166.75h0M98 158.5h0M164.25 73.75h0M383.5 166.5h0M144.5 186h0M125 93.5h0M87 144h0M506.25 147.5h0M358.5 100.25h0M514.25 80.25h0M500.5 166.25h0M468.5 75h0M382 183.25h0M156.5 148.75h0M472.25 82.25h0M507.25 159.5h0M161.25 155.75h0M401 82.75h0M137.5 152.75h0M160.5 148.5h0M476.75 83.5h0M138.75 159.5h0M73.75 75.75h0M377 182.75h0M396 168.25h0M386.5 190.75h0M160.5 129h0M507 163.5h0M104.5 110.25h0M294.75 68.25h0M365.25 147.25h0M481.5 103.5h0M86.25 153.5h0M469.5 59.25h0M331.75 120.75h0M494.5 178h0M403.25 47.75h0M69.25 60.5h0M437 154.75h0M518 62h0M410.25 94h0M348.5 74.75h0M463 43.5h0M150.25 163.75h0M356.5 47.75h0M348 97h0M296.5 55.5h0M149.25 176h0M487.5 140h0M390.25 157.5h0M95.5 163h0M341.75 121.5h0M324.75 163h0M397.5 104h0M400.5 88.5h0M379 180h0M81.75 165h0M381.25 157h0M396.5 135.5h0M410.25 92.25h0M419 106h0M103.75 158h0M515.25 121.25h0M58 101h0M479.25 100.25h0M375.25 118h0M471.5 50.75h0M72.5 112.25h0M149 190h0M316.5 145.5h0M313.75 129.25h0M447.25 144.5h0M425.25 169.75h0M339 118.5h0M430 158.75h0M126.25 76.5h0M88.75 185.5h0M99 162h0M424.25 127.5h0M430.25 181.75h0M495.75 162.25h0M94.5 176h0M315.75 169h0M155.5 185.5h0M125.75 95.25h0M129.75 78.25h0M336 151.25h0M322.75 152.75h0M67.5 59.25h0M135 111.75h0M339 149.75h0M323.25 151h0M290 52.5h0M367.75 140.75h0M406.25 51.5h0M498.25 182.5h0M390 156.25h0M498 174.5h0M344.25 100.75h0M149 168.5h0M485.5 147.25h0M476.5 66.5h0M323.5 182.75h0M489 145.25h0M131.75 85h0M128.25 74.25h0M127.25 71.25h0M90.25 191.5h0M413.75 39.75h0M64.75 63.25h0M487.75 184.75h0M384.25 174.5h0M464.25 86.5h0M517.5 92.25h0M366.5 134.25h0M93.75 167.75h0M411.5 89h0M144.5 159.25h0M490.5 189h0M377 159.75h0M119.75 72h0M81.5 154.75h0M98.5 188h0M455.5 113h0M364.75 97.75h0M495.5 143.75h0M449.25 129h0M160.75 134.5h0M126.25 72.75h0M79.25 171h0M491.5 172.25h0M95 191.5h0M356.25 44h0M413.5 85.5h0M478 64.75h0M130.75 110.5h0M308.75 107.5h0M377.25 166h0M150 178.5h0M63.25 67.75h0M306.75 113.5h0M451 146.5h0M341 154.5h0M361 82.75h0M478 74.75h0M101 150.25h0M301 54.25h0M73.75 99h0M429.25 176.25h0M163.75 121.5h0M467.75 65.5h0M90.75 188.25h0M450 160.5h0M471.5 69.25h0M521.25 83.5h0M504.5 127h0M420.5 57h0M425.5 124.25h0M99.25 175.5h0M66 67.25h0M104.5 167.75h0M411.75 61.75h0M396.25 139.5h0M447.5 171h0M334.5 150.5h0M163.75 139.25h0M477.5 107.75h0M382.25 162.25h0M413 50.75h0M475 83.75h0M323.25 148h0M385.75 194h0M111.75 78h0M437.75 187.5h0M418.25 79.5h0M370.25 151.5h0M332.75 173.75h0M316.5 149h0M310.75 139.5h0M433.75 176.5h0M314.75 183.75h0M298 47.5h0M74.25 92.75h0M109 153.25h0M152.5 182.75h0M401.75 107.25h0M518.5 73.75h0M133 103.25h0M360.75 84.5h0M93 153.5h0M484.5 162.25h0M161.75 119h0M509.25 164.5h0M144.25 184.5h0M304.5 58.5h0M292.25 66.25h0M479 94.75h0M463 49.25h0M112.5 108h0M409.75 80.25h0M407.5 31.75h0M507.5 173.5h0M72.5 94.75h0M460 105.5h0M473.75 63.25h0M98 184.5h0M485.75 127.5h0M506.5 135.75h0M129.25 76h0M321.75 148.25h0M159.25 150h0M465 77.5h0M138 120.75h0M503.75 145.75h0M466.25 60.25h0M471.25 95.75h0M503.75 143h0M459.25 62h0M85.75 190.75h0M127.75 52.75h0M369 127.75h0M312 124.25h0M419 75.5h0M146.5 153.75h0M64.5 102.25h0M343.5 63.25h0M85 171.5h0M508 139.5h0M78.5 169h0M484 129.25h0M91 191.5h0M510.25 140h0M366 108.25h0M100.25 147.75h0M292.75 40h0M123.5 95.25h0M435.75 180h0M374 183.75h0M156.5 178.75h0M59.75 63h0M446.5 161.5h0M78.25 141.5h0M350.25 89h0M92.75 148h0M478 64.5h0M460.5 73h0M101.25 160.25h0M129 84.5h0M450.25 147.25h0M368.5 118.75h0M76 105h0M432.25 170.5h0M116.25 62.25h0M133.75 133h0M107.25 163.75h0M115.25 91h0M424.5 156.75h0M433.25 164h0M344.5 77.25h0M502.25 153h0M413.75 71h0M118.25 49.75h0M408.75 40h0M382 161.5h0M400.5 62.75h0M311.75 122h0M159.5 171.75h0M325.25 187.5h0M128.5 57.75h0M397.25 106.5h0M67.5 79.25h0M57.5 82.75h0M88.5 173.75h0M379.25 187.5h0M453 155h0M363.75 99.5h0M346 84.5h0M402 70.5h0M132.25 94.5h0M485.5 128.5h0M158.75 175.25h0M464 78.25h0M365.5 113.25h0M483.75 160.25h0M360.5 103.25h0M478.25 69.25h0M407.75 116.5h0M138.5 114.5h0M324.5 186.25h0M315 161.75h0M450 129h0M358 83.5h0M473.25 54.5h0M395.75 115.75h0M381.5 182.25h0M74.75 97h0M359.25 69.5h0M345.5 70h0M415.25 72.75h0M451 146.25h0M321.75 160h0M345.25 61h0M134 135.75h0M102 180.25h0M91.75 186h0M91.75 166h0M74.25 109.25h0M362 111.25h0M351.25 66.5h0M143.5 137.5h0M417.75 66h0M448.5 136.25h0M511.5 138.75h0M65 69.75h0M365.5 140h0M140.25 131.75h0M483.75 172.75h0M85.5 146h0M330.5 172.75h0M323 140.5h0M314.5 154.5h0M463.5 71.25h0M320.75 180.25h0M515.25 117.5h0M496.75 170h0M380.5 192.25h0M431.5 170.5h0M108 151.75h0M450.5 123.25h0M136.25 135.25h0M462.5 68.5h0M412.75 66.25h0M101.75 174.5h0M520.25 128.75h0M488.25 154.5h0M469.25 83.75h0M453.5 156.25h0M157 160.5h0M365 123.75h0M78.5 148.5h0M152.75 175.25h0M387.25 154h0M146 176h0M325 157.75h0M74 80.25h0M480.75 66.25h0M162.5 129h0M117.5 60.25h0M498 171.25h0M115.25 129.75h0M486 168.5h0M460 52.5h0M383 181.25h0M391.5 142.5h0M87.25 165.25h0M92.75 162.5h0M163.25 121.75h0M407 67.25h0M348.5 49.75h0M403.75 77h0M351.25 80.25h0M120.25 94.25h0M158.25 166.25h0M355.25 76h0M470.5 78.5h0M433.25 171.25h0M511.5 152h0M373.25 187h0M483 116.25h0M490.25 182.75h0M150.5 175h0M301 62h0M396.5 128.5h0M392.5 163.5h0M475.75 84.25h0M85.25 163.5h0M94 155h0M162 130.75h0M118.75 58.25h0M454 131.5h0M359.5 140.5h0M335.25 159h0M93.75 166.25h0M363.25 71.5h0M116.25 55.25h0M437.25 186.25h0M106.5 101.75h0M403.75 48h0M143 157.5h0M148 156.5h0M347.75 80h0M73.25 65.75h0M476.75 77h0M160.5 166.75h0M420.25 65.75h0M138.5 129h0M158.25 158.25h0M379.25 180.5h0M416.25 60h0M507.5 171.75h0M392.75 150.5h0M161.25 164h0M341.75 120h0M400.25 95h0M514.5 117.25h0M136 140h0M323.5 146.75h0M159.75 121.5h0M477 92.75h0M447.25 173.25h0M151.75 178.75h0M130 99.75h0M469.25 28.25h0M331.75 131h0M69.5 95.75h0M89 168.5h0M356.75 48.75h0M126 99.25h0M344.5 83.75h0M107 122.5h0M318.25 166.5h0M452.75 153h0M384.5 165.25h0M475 86h0M447.25 176h0M447.5 141.25h0M447.5 155h0M143.5 146h0M310.25 116.75h0M382.5 171.75h0M469.25 71.25h0M505 145.5h0M158.5 173.75h0M84 165.5h0M159.75 161h0M420.5 84.75h0M79.25 162.25h0M82.25 171h0M369.25 162h0M308.25 147.75h0M328.25 164h0M133.5 97h0M142.5 184h0M109 148h0M351.25 51.75h0M436.75 166.5h0M509.5 128.25h0M318.75 171.25h0M76.5 109.5h0M463.75 90.5h0M428.25 162h0M143 186.25h0M144.75 143.5h0M437.75 133.25h0M471 56.5h0M486.25 174.25h0M401.75 103h0M417.75 83h0M88.5 189h0M115.25 68h0M295.75 46.25h0M465 55h0M511.5 116.25h0M420.5 160.75h0M288.25 99h0M102.75 139.25h0M348.25 86h0M66.5 103h0M499.75 156h0M454.75 108.75h0M315.25 171h0M73.25 68.5h0M469.25 61.5h0M445 167.75h0M438.75 137.5h0M163.5 168.75h0M420.25 71.5h0M410 86.75h0M330.75 163.5h0M119.25 60.25h0M456.75 126.75h0M87.75 169h0M455.25 143.25h0M385.5 166.5h0M347 54.25h0M518.25 86.25h0M302.5 135.5h0M71 90.5h0M409.75 59h0M432.75 187h0M369.25 137.25h0M511 105.75h0M337.75 139h0M59 147h0M376.75 188.75h0M343.5 54h0M509 140.25h0M406.25 38.5h0M474.75 95.25h0M410 69.25h0M324.75 138.5h0M521 62.25h0M310.75 117.75h0M295 37.5h0M330.75 159.5h0M504.25 152.5h0M120 60.25h0M425.5 133.5h0M129.25 90.5h0M330.75 177.25h0M367.25 155.5h0M146.75 150.5h0M153.75 180.75h0M383.5 192h0M67.25 60h0M504.75 171.25h0M149.75 159.5h0M418 74.25h0M319.25 157h0M101.25 143.75h0M413 58.75h0M128.25 103h0M471.5 56.75h0M480.5 129.75h0M499 194.25h0M338.25 138.5h0M311 170.5h0M118.75 63.25h0M294.75 55.75h0M323.75 187.25h0M150.75 173h0M472.25 69.25h0M328.75 159.5h0M343.75 105.25h0M400 102.25h0M147 164h0M393.75 162.5h0M65 65h0M293.5 44.5h0M61.75 83h0M511.5 115.75h0M92.25 193.5h0M396.5 132h0M370.5 170h0M489 163.5h0M396 127.25h0M518.25 84.5h0M300 96.25h0M369.25 133.75h0M86.25 190.25h0M327.5 175.25h0M293.5 45.75h0M362 100h0M149 194.25h0M508.25 175.25h0M117.5 87.5h0M133.5 110.75h0M145.75 170.5h0M507.5 187.25h0M330.25 159.5h0M374 181.75h0M319.25 158.5h0M429.75 154.5h0M374.25 143.75h0M77.75 145h0M411 71.25h0M472.75 99.75h0M424.25 100h0M123.25 78.75h0M395.25 162.5h0M499.5 164.5h0M79 122.5h0M82.5 133.25h0M105.5 111.5h0M95.25 167.25h0M295.5 51.5h0M430.5 142.25h0M134.75 113.25h0M475.75 73.5h0M389.25 179.5h0M102.5 176h0M381.25 185h0M294.25 60.25h0M381 175.75h0M84 178.5h0M432 173.5h0M312 160.25h0M373 164.5h0M80.5 181.75h0M137.25 164.75h0M444 189.25h0M310 120h0M384 143h0M71.25 108.5h0M492.75 168.5h0M128.5 58.25h0M489.25 167.25h0M298.5 127h0M437.25 178.5h0M151 184.5h0M158.25 175.75h0M367.25 137h0M366.75 126h0M384.75 176.5h0M68.5 101.75h0M453.75 161.5h0M125 100.75h0M103.5 174.5h0M301.5 57h0M77.25 132.25h0M492.75 182.5h0M356.25 86h0M475.25 86.75h0M405.25 43.75h0M321.5 158.25h0M294.75 36h0M434.5 159.25h0M349 55.25h0M500 179h0M467.25 31.5h0M449.25 134.25h0M407.75 44h0M488 138.75h0M390.5 152.25h0M298.75 55h0M393.25 158.5h0M425 156.5h0M62.5 77h0M293.75 38h0M302 97h0M330.75 149.5h0M383.75 191.5h0M78 149.5h0M470.25 52.5h0M475.5 52.5h0M134.75 142.25h0M448 132h0M132.25 101.75h0M466 45.25h0M319.5 171.5h0M429.75 162h0M60.25 63.75h0M484 146.5h0M137.5 122h0M341.5 129.25h0M135 127h0M153.5 188.5h0M440.75 177.25h0M333.5 140.75h0M332.5 174h0M458.5 84.75h0M356.25 42h0M424.25 123.75h0M337.5 126.75h0M497.25 152h0M61 70.75h0M421.75 71.75h0M347.25 55.25h0M317 138h0M408 76h0M395.75 148.5h0M398.75 128.75h0M344.5 98.75h0M391.75 142.5h0M447 169.25h0M487.75 129.75h0M423 116.5h0M83.25 100.25h0M122.25 49h0M500.75 154.25h0M440.5 160.5h0M312.75 140.5h0M294.25 90.25h0M397.75 135.25h0M97.25 188.25h0M473 83h0M516.5 87.25h0M450.25 131h0M145.5 182.5h0M513.75 140.5h0M67.5 67.25h0M374 150.25h0M308.25 107.75h0M476 51.5h0M81 153.75h0M97.5 165.5h0M349 56h0M417.5 56.5h0M101.5 178.5h0M521.25 60.75h0M112.75 97h0M377 188.5h0M458.25 123.75h0M425 159h0M409.5 73.25h0M350 58.75h0M306.75 110.25h0M298.25 46.5h0M324.75 164.75h0M461.75 87.5h0M405.75 54h0M135 129.25h0M76.5 118.25h0M436.25 154.25h0M320.75 168h0M414.25 61.25h0M499.5 186h0M309.25 125.75h0M497 169.5h0M368.25 169.75h0M88.75 188.75h0M438.5 133.75h0M81 132.25h0M129.75 94.25h0M481.5 140.25h0M500 187.25h0M298.25 50.75h0M381.25 160.25h0M325.75 169h0M520.75 88h0M431.25 171.75h0M307.25 109.25h0M161.5 158.25h0M86 177.75h0M160.5 141.25h0M402.5 84.75h0M474.75 96.25h0M370 169.25h0M348 85.25h0M84.25 162h0M333.5 133.25h0M72.75 111.75h0M143 156h0M369.25 157h0M354.25 53.75h0M337.25 114.25h0M391.75 171.75h0M410.5 95.5h0M483 128.25h0M462.25 57.5h0M486.25 131.25h0M475.25 74.5h0M126.25 99.75h0M295.75 46h0M428.75 147.5h0M147.75 166.75h0M305 73.75h0M414.5 65.25h0M478.75 107.5h0M115.75 97.75h0M449.25 165h0M323.25 146.5h0M63.75 54.5h0M105 123.25h0M418.75 102.5h0M347 93h0M147 155h0M418 77.75h0M294.5 54.75h0M316.25 147.5h0M458.25 104.25h0M397.5 97.25h0M155 171.75h0M506.75 152h0M416.75 48.75h0M100.5 139.5h0M292.5 59.5h0M338.5 137.75h0M93.75 165.5h0M472 73h0M130.25 89.75h0M96.75 177.5h0M59.25 76.25h0M439 189.75h0M87.5 142.75h0M394.25 159.5h0M142.75 177.5h0M369.75 124.25h0M90.25 174.75h0M297 92h0M401.5 114.25h0M370 152h0M120.5 130.5h0M519.75 81h0M329 187.25h0M367 123h0M396 154.25h0M128.75 105.5h0M316 153.5h0M403.25 48.75h0M501.75 156.75h0M88.5 159.25h0M379.75 182.5h0M401.75 72h0M480.25 144.25h0M462.25 42.25h0M352.25 58.25h0M68.5 94.75h0M338.75 126.5h0M336.25 146.25h0M409.25 57.5h0M143 165h0M96 151.75h0M489.5 177h0M312.5 157h0M74.75 95.25h0M75.25 67.75h0M514 100.5h0M406.25 46h0M342.5 120.5h0M516 109.25h0M435 162.5h0M430.75 171.75h0M335.5 157h0M506 134.75h0M397.5 91.75h0M370.75 120.5h0M420.25 57.75h0M436 172.25h0M126 100.5h0M103.5 181.5h0M79.75 112.75h0M122.5 65.5h0M353 52h0M509.25 147.5h0M450.75 157.5h0M481 113.25h0M313.75 153h0M120 78.25h0M366 112h0M497.75 152h0M302.75 70h0M299.5 55h0M329.75 134.75h0M133.25 103.25h0M143.75 179.75h0M86 147.5h0M148.5 186h0M150.75 170.5h0M71.25 92h0M85 161.5h0M460.25 76.75h0M302.5 62h0M507 150.25h0M145 190.75h0M163.75 141.75h0M403.75 80.25h0M319 171.75h0M476.5 58.5h0M457.25 123h0M495.75 154.5h0M438.25 168.25h0M393.75 130.25h0M370.5 118.25h0M507.5 171h0M295 53.5h0M133.5 123.25h0M418 51h0M64 56.25h0M506 145h0M133.75 97.5h0M410.25 71.25h0M369 112h0M482.75 140.5h0M102.25 126h0M353.75 66.75h0M350.25 40.25h0M330.75 114.75h0M134.5 115h0M407.25 75.5h0M466.75 36.5h0M390.5 153.5h0M131.25 81h0M367.75 138.75h0M66.5 83.5h0M370.5 110.75h0M452.5 158.25h0M152.75 173.75h0M102.75 155.75h0M480 134.5h0M148.75 120.25h0M347.5 65.5h0M122.25 47.25h0M320.75 157.5h0M520 89.25h0M365.75 158.75h0M457.75 136.25h0M403 43.25h0M401.75 93.5h0M126.75 64.25h0M112.25 102.25h0M375.75 117.25h0M70.25 88.5h0M353 126.5h0M60.75 61.5h0M462 79.25h0M421 87.75h0M505.5 149.25h0M399.5 80h0M475.5 93.5h0M480.5 98.5h0M452.5 180.75h0M128.5 66.25h0M421.25 74.75h0M377.25 171.75h0M306 110.25h0M310.75 138.5h0M159.5 165.25h0M395.25 150h0M72.25 106.75h0M142 179.75h0M158.75 147.25h0M432 158.25h0M309.5 102.5h0M504.25 175.25h0M517 57h0M343 106.75h0M422.25 144.5h0M117 57.5h0M112 56.75h0M479.75 135.5h0M289.75 52.25h0M487.5 168.25h0M378.25 182.5h0M483.75 140.25h0M110 128.75h0M356.25 50h0M326.25 150.75h0M300.5 91.5h0M301.25 59h0M129.5 81.75h0M374 180.75h0M289 63.25h0M133 111h0M426.25 158.75h0M86 187.25h0M350.5 81.5h0M398.25 95.25h0M498.5 186.5h0M365.25 135.75h0M63.75 54h0M141.5 122.25h0M458.5 121.25h0M109 161.75h0M328.5 170.25h0M106.75 150.5h0M429.5 132.25h0M302.75 59h0M491 174h0M335 118h0M432.75 160.5h0M520 71.5h0M354 50h0M132.5 109.75h0M122.25 75h0M84 163.25h0M91.5 171.25h0M388.75 186.25h0M115.75 99.25h0M78.25 128h0M305 92.5h0M384 171.25h0M94.25 171.75h0M86.25 177.25h0M99.75 137.5h0M498.75 173h0M99 178.25h0M113.25 87.75h0M397 100h0M348.5 44h0M477.5 80h0M64 52h0M414.25 62h0M71.75 113.25h0M324.75 180.75h0M433.5 174h0M455.25 130.5h0M121.25 113.75h0M496.5 191.25h0M388.5 174.75h0M61 56.5h0M324.75 174h0M498.25 184.25h0M298 132h0M327.25 170.5h0M502.25 163.75h0M367 151.5h0M126.25 96.25h0M413 49.75h0M441 158h0M501 161.75h0M92.25 184.5h0M479.25 122h0M294.75 82.5h0M106 107.75h0M453.5 144.5h0M361.75 108.25h0M113.5 100h0M476 57.25h0M62.5 77.5h0M423 106.5h0M425 145h0M293.75 47.5h0M450.5 162h0M326.5 150.75h0M442 161.75h0M417.75 77.75h0M85.5 186.25h0M403 61h0M449.75 167h0M340 157h0M327.25 179.5h0M343 125.75h0M401 72.25h0M378 186.5h0M346.75 48h0M138.25 119h0M120 85h0M510.75 106.75h0M339 109.25h0M444.5 156.75h0M413.75 65.75h0M520.25 94h0M321 180.5h0M363 39h0M408 72.25h0M86 163h0M386.25 171h0M317.5 163h0M391.5 147.25h0M65.75 62.25h0M358.5 104.25h0M382.25 183.75h0M337.75 107h0M436.25 169h0M78.25 115.5h0M320 164h0M464.25 78.25h0M59.5 61h0M516.75 101.5h0M316.5 139h0M149 192h0M425.5 152.5h0M494.75 178.5h0M455.5 105h0M138 132.25h0M393.5 132.25h0M302.25 77.75h0M471.75 90.75h0M454.75 114.5h0M308.75 142.75h0M300.5 75.75h0M479.75 121.75h0M441.25 181h0M428.75 140h0M504.5 177h0M86.75 183.25h0M160.5 152.5h0M420.75 73.25h0M341.75 137.25h0M472.5 94h0M65.75 89.25h0M102.75 153.25h0M162.75 117.5h0M313.5 157.75h0M452.5 166.25h0M98.75 172.75h0M321.75 168.75h0M134.25 105.75h0M432.75 185.5h0M88 140.75h0M293 72.75h0M159.75 120.5h0M450.5 139h0M438.75 173h0M469 50h0M305.75 126.75h0M144.25 160h0M91 181h0M64.75 85.5h0M112.75 105.75h0M332.25 158.5h0M97.25 151.75h0M144.5 183.25h0M83.25 132.5h0M306 133.5h0M404.25 72h0M468.5 85.5h0M151.25 161.75h0M315.5 185h0M338.25 140.75h0M80.5 125.75h0M70.5 104h0M374.25 149.75h0M329.25 158h0M83.75 179h0M508.25 132.25h0M74.75 111.5h0M465 47.25h0M96.5 175h0M358.25 81.25h0M403 75.25h0M323 145.25h0M60.25 56.25h0M395.5 82.75h0M340.75 137.5h0M156 185.75h0M81.25 167.5h0M411.25 71.75h0M450.75 130.25h0M146.25 152.25h0M115.5 77.25h0M148 162h0M293 69.75h0M377.5 185h0M506 176.5h0M295.75 66.25h0M396.75 94.75h0M478.75 84.5h0M158 153.25h0M311.5 118.25h0M452.5 170h0M320 159.75h0M485.25 102h0M420.25 54.25h0M500 174h0M411.5 42h0M158 154.75h0M344.75 83h0M367.75 123.75h0M103 151.5h0M64.75 65h0M374.5 130.25h0M403 38.25h0M95.5 138.5h0M133 123.75h0M322 146h0M313.5 176h0M480.5 100.5h0M342.75 131.75h0M387.5 165.75h0M387.25 145h0M513.25 118.75h0M490 178.5h0M429 120.75h0M320 183h0M316.75 140h0M324.5 161.25h0M492 180.75h0M102.25 133.25h0M163 87h0M520 90.5h0M138.75 139h0M105 121.75h0M356.5 43.75h0M147 121.25h0M116.25 84h0M478.5 72.75h0M456.75 124.25h0M294.25 64.5h0M441.5 157h0M160.75 117h0M312 126.5h0M458.5 118.5h0M81.25 150h0M406.5 94.75h0M331.75 145.75h0M453.25 161h0M150.5 173h0M77.25 130.75h0M497 168.25h0M491.5 157.25h0M356.5 44.5h0M68.75 92.5h0M397.75 117h0M460.5 80.25h0M128.75 70.5h0M131.25 73h0M374.25 158.25h0M492.75 182.25h0M514.75 88.75h0M71.5 95.25h0M489 158.5h0M425 123.5h0M296.25 44.75h0M335.75 101.75h0M427.25 164.75h0M495 182h0M434.5 146h0M329.75 148.75h0M441.75 175.75h0M404.5 42.25h0M420 62.75h0M150.5 194.25h0M151.25 188h0M469 73h0M101.5 183.25h0M99 155.75h0M511.25 138.5h0M108.5 142h0M431.25 175.75h0M296.25 47.25h0M392 138.75h0M423.25 128.75h0M456.5 120.5h0M518.25 61h0M344 84h0M130.75 57.5h0M311.5 128h0M481 105h0M358.75 63.75h0M489.25 176.5h0M291 87h0M478 62h0M382.75 182.5h0M502.75 147.25h0M480.5 145.5h0M410 45.75h0M422.25 134.25h0M304 118.5h0M462.25 55h0M479.5 139.75h0M134 112.75h0M323.5 184h0M358.75 58h0M328.5 180.75h0M133.25 127.25h0M307 96.5h0M460.5 48.5h0M448.25 143.25h0M394 151.25h0M128 63.25h0M311.75 150h0M99.25 187.5h0M406 42.5h0M410.25 68.25h0M459.75 106.75h0M85.25 156h0M447.25 165h0M124 55.25h0M479.25 109.5h0M293.25 57.5h0M386.75 145.25h0M499.5 190.25h0M104.5 129.75h0M91 168.25h0M385.5 183.25h0M417 48h0M441.25 184h0M418.5 94.5h0M455.25 139.25h0M431.75 178h0M456.25 123h0M448 136.25h0M469 62h0M498 180.75h0M443.75 190.5h0M412.25 84h0M483.75 129.5h0M383 168.5h0M465.5 33.5h0M365 149.75h0M403 61.5h0M384.5 151h0M319.75 190.75h0M152.5 186.25h0M302 88.75h0M307.5 123.75h0M78.75 167.5h0M73.25 69.75h0M413.25 75.75h0M425 114.75h0M507 176.75h0M468 87.25h0M418.5 85.25h0M458.75 58.75h0M321.25 164.5h0M463.25 53.25h0M103.25 166.75h0M416.5 74h0M77.25 163h0M348.5 48.5h0M158.25 168.5h0M118.25 65.75h0M488 161h0M388.25 159h0M146.25 169.75h0M141.25 166.5h0M361.25 103.5h0M382.5 185h0M385.25 153h0M133 118.25h0M411 95.5h0M105.25 130h0M510 133.25h0M327.5 159h0M293.25 52h0M337.75 126h0M305 75.75h0M396 133.75h0M122.75 78.75h0M66.25 96.5h0M373.5 163h0M88.25 175.75h0M511.75 154.25h0M368.75 140.5h0M463.5 58.75h0M446.25 172h0M389.25 178.25h0M518.5 56h0M316.25 139h0M455.75 137.75h0M311.25 162h0M459.25 111h0M343.5 66.25h0M367 141.25h0M147 142.25h0M479.25 134.25h0M517.25 104.75h0M349.75 59.75h0M427.5 172.25h0M515.25 124.5h0M119 79.5h0M331.75 170.25h0M64.75 61h0M360.5 59.25h0M408.25 44h0M446.25 160.25h0M414.75 49.5h0M120.5 69.25h0M382.75 193.25h0M419.5 100.25h0M475.5 142.5h0M449.5 132.75h0M515.75 131h0M347.5 91.25h0M329.75 146.25h0M314.25 172.25h0M161 139.75h0M135.25 108.5h0M111 112.75h0M393.25 167.5h0M505.25 174.25h0M497 186.5h0M423.75 133.75h0M427 154.5h0M149.5 154.25h0M398 106.25h0M430 185.25h0M298.5 80.5h0M62 56.5h0M116.5 52h0M441.75 162.25h0M456.75 143.5h0M314 124.25h0M403.75 58h0M457.5 142h0M104.5 119.5h0M500.5 150h0M515.5 134.25h0M501.25 151.75h0M428 104.75h0M323.25 144.75h0M75.25 120.25h0M326 164h0M500.25 183.25h0M415.5 76h0M450.5 148.25h0M111.75 75.75h0M111.5 75h0M439.5 184h0M152.25 163.5h0M421.5 81h0M373 132.25h0M504 162.5h0M495.5 174.75h0M362.25 62.25h0M500 189.25h0M511 140h0M395.25 143.25h0M456.75 137.25h0M107.5 110h0M433 164h0M471.5 85.5h0M306.75 123.75h0M158.5 140.5h0M501.25 179.5h0M412.75 49.25h0M156.25 159.75h0M467 44.25h0M489.5 171.5h0M328 164h0M103.5 166.25h0M515.5 120.25h0M400.5 78.5h0M61.25 54.5h0M459.75 94h0M151.5 142.5h0M360.75 69.5h0M369.75 129.5h0M86.75 180.75h0M77.5 122.5h0M112.5 103.75h0M59.25 127.75h0M434 151.25h0M330.5 160h0M300.75 62.25h0M475.5 100.75h0M132 65.25h0M341.5 132h0M482.25 169.25h0M463.5 58.5h0M461.5 87.75h0M487 176.5h0M461.5 78h0M481.5 132.5h0M344 86h0M362 104.75h0M336 149.25h0M59 95h0M330.75 167.75h0M439.25 179h0M509.25 170h0M459.5 91.25h0M97.5 190.5h0M148.5 177.25h0M348.25 80.5h0M381 150.75h0M377.5 159.5h0M357.5 70h0M154 176.25h0M126.25 81.25h0M153.5 171.75h0M72 82.5h0M90.5 160.25h0M96.5 166.5h0M490.5 179.75h0M469 65.75h0M503.75 153.25h0M412 73h0M79 165.75h0M345.75 68.25h0M90.25 192.75h0M77.5 130.75h0M420 104h0M451.25 174.75h0M305.75 124.25h0M100.75 128.75h0M382.5 190h0M480.75 111.75h0M349 89h0M453.25 164.5h0M513.5 115.25h0M109.5 148h0M446.25 178.75h0M299.5 53.5h0M361 81.25h0M353.75 51.75h0M520.25 98.5h0M329.25 182.75h0M356 60.25h0M464.75 33.75h0M370 164.5h0M130.25 106.25h0M368.5 149.75h0M346.75 46.25h0M390 159.5h0M426.75 117.5h0M288.75 68h0M388.25 170h0M464.5 51h0M436.75 182.75h0M122.75 55.5h0M344.75 86.75h0M454.75 90.75h0M426.75 149.5h0M512 135.75h0M62.75 64.75h0M511.75 123h0M155.75 190.5h0M505.75 167.25h0M111.5 96.25h0M296.25 41.25h0M513 100.25h0M472.75 74.25h0M148.75 184.25h0M148.5 172.75h0M383 159.75h0M487.5 150.75h0M112.75 91.5h0M418 55.5h0M492.75 174.75h0M58.5 70h0M457.5 145.75h0M300 52h0M130.75 63h0M60.25 59.75h0M89.75 183.75h0M516.25 88.25h0M294.5 81.75h0M143.75 137.5h0M154 184.75h0M398 114.25h0M135.25 156.25h0M517 61h0M445 155.5h0M423.25 100h0M314.75 160.5h0M357.5 72.75h0M422.75 107.5h0M399.5 82.25h0M316 128.75h0M388.75 175.25h0M293.25 82.75h0M381.5 173.75h0M145.5 170.5h0M386.25 152.25h0M164.5 114.75h0M407.5 48.75h0M473 56h0M407.25 36h0M447 186.5h0M156 185h0M426.5 119.75h0M501.75 159h0M399.75 101.25h0M351.25 83.75h0M488.5 161.25h0M467.25 53.5h0M146.25 151.25h0M333 178h0M386 176.5h0M384 162.75h0M436.25 153.5h0M370.75 122.5h0M359.25 101.25h0M459.25 110.25h0M77.75 137.5h0M350.75 91h0M344.25 95.5h0M132.5 122.25h0M96.5 154h0M124.25 53.75h0M460.5 97.25h0M302.75 94.5h0M363.5 84.5h0M508.75 160.75h0M300.5 52.75h0M336.5 129.25h0M505 170.75h0M487.25 180.5h0M465 49.25h0M317 146h0M83.25 140.25h0M393 155.25h0M113.5 96h0M413.75 78h0M156.75 172h0M359 95.75h0M434.25 143h0M346.25 80.5h0M312.5 133.75h0M448 163.25h0M446.25 181.75h0M519.5 63.75h0M374 138h0M369.5 160.5h0M75 123.75h0M478.5 87h0M412.25 88h0M317.75 148.5h0M399.25 85.5h0M471 47h0M346.25 79.5h0M101.75 153h0M479.25 132.75h0M141.25 138.25h0M317.75 166.25h0M310.75 124.75h0M393.75 167.25h0M139.5 147.75h0M290 45.25h0M127 90.5h0M157.25 183.75h0M493.5 177h0M446.75 165.75h0M97 189h0M292 39.25h0M471.25 58h0M332 154h0M485.75 155.75h0M134.75 146.5h0M141.25 163h0M476.25 71.5h0M123 69h0M446 168h0M507.5 131.75h0M502.5 156.25h0M155.25 170.75h0M337 165.5h0M100.25 155.5h0M138.75 121.75h0M337.75 152h0M133.5 115.25h0M314 161.5h0M331.25 171.5h0M467.25 75h0M311.75 138h0M112.5 95h0M354.5 54.5h0M347.25 53.25h0M482.5 153.5h0M489.75 140.25h0M474.75 80.75h0M372 167.25h0M452 139.25h0M423 155.75h0M379.25 193.25h0M71.25 99.75h0M405 78.25h0M107 120h0M371 157h0M68.25 73.5h0M63.75 90.75h0M363.25 81.25h0M379 173.25h0M410 81.75h0M339.5 131h0M350.25 49.5h0M93 155.25h0M98 180.5h0M346 42.25h0M367.75 134.5h0M79.5 173h0M408.25 41.5h0M119.5 53.5h0M469.75 56.75h0M479.5 57h0M514.25 125.75h0M503 182.5h0M140.5 152.25h0M98 171h0M460.25 86.25h0M289 72.5h0M373.5 174h0M418.25 99h0M353.75 69.25h0M74 73.75h0M391 169.25h0M328.25 172.5h0M371.25 129h0M299.75 81.75h0M59 74.75h0M380.25 124.25h0M462.75 47h0M301.75 97.5h0M329.5 166h0M72.25 118h0M371.75 160.5h0M386.5 180.5h0M445.25 152h0M117.5 75.5h0M515.5 154h0M156.25 168.5h0M355.75 53h0M356.75 43h0M341.25 122h0M357.5 66.75h0M61.25 64.25h0M480.5 141.5h0M345 62.75h0M509 174.25h0M446.75 152.25h0M67.25 70h0M153.5 130.75h0M127.5 77h0M338 156.5h0M500 190h0M354.75 69.5h0M134.75 156.25h0M461.75 47h0M477.75 138h0M291.25 83.75h0M510.75 125.5h0M377.25 173h0M510.75 133.25h0M461.25 50.25h0M393 172h0M164 164h0M113.5 105h0M77.5 123.25h0M430 167.25h0M65.5 85.75h0M125.75 94.25h0M510.25 99h0M135.75 116.25h0M467 41.25h0M303 98.5h0M508.25 133.5h0M74.25 106h0M345.5 55.75h0M318 145.5h0M116.5 62.75h0M290 96.75h0M162.25 121h0M473 115.5h0M464.75 71.75h0M393.75 172.75h0M376.5 146.75h0M480 142h0M363.5 89.5h0M405.75 77.25h0M465 126.75h0M377.5 127.75h0M498 167.25h0M384 181.5h0M135.75 107.75h0M348 69h0M96 150h0M410 58h0M333.5 122.75h0M305.5 86h0M485.5 182.5h0M373.75 169.5h0M340.75 104h0M441.25 168h0M471.25 78.5h0M104.75 116.25h0M348.25 69.25h0M474 98.25h0M128.75 50.5h0M314 178.25h0M516.5 66.75h0M99 184.75h0M442 169.75h0M100.75 132.75h0M363 80.25h0M354.75 64.75h0M374.5 142.75h0M506 129h0M122.25 43.75h0M110.5 95.75h0M346.25 61h0M362.25 60h0M463 41.5h0M500.75 186.25h0M380.75 155.25h0M66.5 105h0M305.5 88.25h0M483.75 134.75h0M312 122.25h0M465 49h0M341.25 101.25h0M67.25 60.75h0M59.75 56.5h0M449 139.75h0M315.25 175h0M113.25 65.25h0M476 69.25h0M408 67.75h0M492.5 178.5h0M153.75 170.5h0M125.25 79.75h0M427.25 150.25h0M492.75 158.25h0M157.5 157.75h0M146.75 178.5h0M456.25 131h0M315.75 140.75h0M427.5 150.75h0M342.25 122.5h0M139.5 166.25h0M138 138.5h0M420.5 92h0M309 144.5h0M463.75 42.75h0M59.75 123.25h0M397 149.5h0M455 155.25h0M488.75 156.25h0M473 71.75h0M435.5 171.25h0M379.75 189.25h0M374 186.75h0M124.5 69.5h0M374.5 161h0M105.75 112h0M386.5 161.75h0M296.75 42.75h0M153.25 182.25h0M488.5 145h0M293.75 58.75h0M427.5 176.75h0M472.25 63.25h0M393.25 176.5h0M336.5 149.5h0M409.5 79h0M451 170.25h0M63 92h0M454.75 132h0M418.5 100h0M500 188.75h0M161.25 170.25h0M141.25 181.25h0M289.75 46.5h0M119 89.75h0M454.25 113.5h0M80.5 163.75h0M391.25 145.5h0M450.25 170h0M66.25 81.75h0M361.25 99.5h0M454.25 136.5h0M305.75 114.75h0M491 191.75h0M516.25 105h0M429.5 136h0M321 147.75h0M130.25 90.25h0M504.25 153.75h0M135.5 139h0M457.5 135h0M125 89h0M515.25 132.25h0M369.75 185h0M332 152.75h0M59 98.5h0M130 85.5h0M314.5 146.5h0M445.25 176.5h0M135.5 130h0M117.75 82.25h0M393.25 172.5h0M413.75 47.75h0M321.75 165.5h0M463 40.25h0M61.25 88.75h0M420.5 68.25h0M143.75 172.75h0M353.5 76.5h0M288.5 56.5h0M133.25 105h0M518 33h0M288.75 50.5h0M83.5 176.75h0M140.75 168.25h0M388.25 145h0M502.5 147h0M94.75 174.5h0M322.5 155.75h0M342.5 133h0M517.75 78.5h0M493 154.5h0M483 122.75h0M453.5 150h0M431.75 193.25h0M387 181h0M320.75 137.5h0M355.5 66h0M459.5 97.5h0M72.25 115h0M484.5 173.75h0M326 159.5h0M357.25 64.25h0M456.75 131h0M303.25 85.25h0M458 133.25h0M98.75 159.25h0M85.25 169.75h0M412.25 81.5h0M159 133.25h0M349 56.5h0M164 115.75h0M493.5 186.75h0M440 187.25h0M461.5 103.75h0M69.75 63h0M351 42.25h0M89 164.25h0M472.25 81.25h0M373.75 129.25h0M437.5 184.5h0M296 48h0M513.25 95h0M297 59.5h0M397.75 134.5h0M148 183.25h0M396.25 129h0M380 193h0M477.25 97h0M514.75 95.25h0M292.75 53.75h0M375 158.5h0M422.25 144h0M139.25 153.75h0M123.75 44.75h0M509.75 146h0M351.75 54.5h0M424 127.5h0M427 173.25h0M320.75 149.75h0M342.5 140.75h0M370 157h0M512.25 127.25h0M350 75.5h0M461.75 63h0M330.5 173h0M339.75 140.25h0M437.5 190h0M502.5 171h0M381.25 130h0M467.75 84.25h0M520 95.5h0M153.5 152.25h0M483.5 165h0M363.75 95.75h0M352 88h0M493 137.25h0M369.75 166.25h0M410.5 76.25h0M111 130h0M501.25 170.5h0M76 149.75h0M511.25 158.25h0M111.5 122.25h0M68.25 75.75h0M440.25 157h0M140 139.75h0M363.5 77.75h0M513.5 136.5h0M112 71h0M473.75 86h0M134.75 138.5h0M505 139.75h0M315.75 162.5h0M108.75 141h0M291.5 57h0M462.25 38.75h0M467 52.5h0M418.75 103h0M372.75 172.75h0M327.25 166.75h0M100.25 142.25h0M156.5 158.5h0M161 155.5h0M447.75 173h0M129.75 91.75h0M294.5 77.75h0M144 146h0M312.25 118h0M157 177h0M155.75 170.75h0M58.5 100.75h0M126.5 102.25h0M483 140.25h0M389.5 169.25h0M105.5 126.5h0M470.25 91.25h0M146.75 172.5h0M499.75 188.75h0M79 165.25h0M81 171.25h0M101.5 134.75h0M342.5 136h0M98.25 156.5h0M122 65h0M310 116.5h0M63.5 54h0M386.75 123.75h0M390.75 166.75h0M332.25 160.5h0M66.75 92.25h0M434.5 133h0M71 104.25h0M299.75 77.25h0M448.75 136.75h0M463.25 79.5h0M103.75 149h0M61.75 60.25h0M128.5 61.5h0M446.25 141.5h0M510.25 114h0M425.5 119.75h0M484 147h0M113.5 81.25h0M453.25 169.75h0M360.5 69h0M429 147.75h0M362.5 76h0M162.75 147.75h0M110 151h0M104 137.5h0M341.5 126h0M63 67h0M88 175.75h0M411.75 56.75h0M307 118.75h0M477.5 90.75h0M296.5 94.25h0M376 172.5h0M288.5 67h0M148.25 152h0M421.75 120h0M486 175.5h0M140 178.5h0M424 155.25h0M110.25 116.5h0M503.25 138.75h0M349.5 75.25h0M511.5 105.5h0M473 50.75h0M400 115.75h0M67.75 81.25h0M479.75 126.25h0M415.5 90.25h0M153.5 188.75h0M82.75 130h0M141.5 175.75h0M467.75 89.75h0M142 169.75h0M484 157.25h0M383.5 164h0M463.5 87.75h0M76.5 121.25h0M136 101.25h0M510.25 150h0M85.5 160.5h0M79.75 139h0M339.75 143.75h0M494.25 142.75h0M440 189.75h0M124.5 72.5h0M104.25 142.75h0M381.5 193.5h0M305 74h0M376.75 164.25h0M71.75 99h0M300 83.75h0M486 177.5h0M454.75 111.5h0M487 164h0M431.5 179.25h0M419.75 108.75h0M84.25 147.75h0M294.75 63h0M62 73.5h0M300.25 93.25h0M128.5 61h0M87.75 149.25h0M446.75 150.75h0M517.75 100h0M475 89.25h0M345 76.75h0M468.25 50.5h0M344.5 95h0M125.75 84h0M356.75 46.75h0M98 166.75h0M501 133.75h0M421 67h0M312 114.5h0M290.25 87.75h0M415.75 60.25h0M351.75 131.75h0M504.75 179.75h0M328.5 177.75h0M132.25 88h0M78.75 151h0M341.5 119.5h0M314.75 151h0M484.5 139.5h0M407.75 51h0M505.5 143h0M480 128.75h0M421 84.25h0M504.25 164.75h0M432.75 193.5h0M483 137.5h0M383.25 156.25h0M362.25 65h0M386.5 170h0M498 147.5h0M411.5 52.25h0M467.25 38.25h0M414 67.5h0M78.75 132.25h0M57.75 79.5h0M114.75 55.5h0M68.5 127.25h0M318.75 167.5h0M489.25 175.5h0M474.75 101.75h0M113 66h0M292.5 78.25h0M372.25 122.5h0M387.25 149.5h0M89 173.75h0M500.25 189.75h0M375 157h0M466 68.25h0M445.5 148.25h0M445 120.25h0M435 160.75h0M148.5 143.5h0M66.75 76.5h0M159 177.75h0M516.5 74.5h0M106 147h0M121.75 53h0M84.75 188.5h0M419.5 94.25h0M433 164.5h0M84.75 131h0M463.75 83.5h0M131.25 67h0M320 179.25h0M430.5 175.5h0M132 93.5h0M402 86.25h0M325.75 157.75h0M384.5 156.25h0M335.25 116.25h0M394.75 122.75h0M80.5 122.5h0M444 188.75h0M521.25 85.5h0M301.75 68.75h0M336.5 163.25h0M321 175h0M345.75 52.5h0M300 50.75h0M93.25 163.5h0M411 83.75h0M142 138.5h0M81 119.75h0M344.5 87h0M511.25 140.5h0M73.25 72h0M107.5 131.5h0M415.25 65.5h0M65.5 71.75h0M354.75 63.75h0M323.75 189.75h0M446 151h0M112.25 56h0M445.5 140.5h0M390 132.5h0M145 187.75h0M123.25 89.75h0M330.25 177.25h0M350.25 29.5h0M143.5 170.75h0M313.5 167.25h0M385.25 170h0M74.25 79.75h0M482 166.5h0M356.75 44.75h0M164.75 57.25h0M353.25 82.75h0M142.25 140h0M405.25 48.5h0M447 163h0M413.5 47.5h0M72.25 100.5h0M310.5 138h0M449.5 151.75h0M374.5 175.75h0M414 59.5h0M89.25 192.5h0M394.75 168.25h0M427.25 159h0M111 123h0M58.75 85.75h0M466.75 46h0M425 151.75h0M470.25 73.25h0M351.75 57h0M130 68.5h0M458.25 97.5h0M90.75 170.25h0M98 171.5h0M483.25 176.5h0M467 62.5h0M324.75 182h0M473.75 53.75h0M470.5 80.5h0M387 163.5h0M384.25 191.5h0M301 54.75h0M492.75 175.75h0M301.25 74h0M430.75 167.75h0M364 75h0M350.5 72.75h0M61 70h0M292.75 62h0M475.25 51.5h0M163.75 148.75h0M371.25 151.25h0M294.75 34.75h0M492.75 166.5h0M125.75 70.75h0M122.5 56.75h0M421.5 92.25h0M299.25 59.75h0M425.25 104.75h0M68 84.75h0M352.5 64.75h0M158.75 172h0M81 127.25h0M467.5 54h0M385.5 189h0M515.75 141.25h0M85 135.75h0M159.25 176.5h0M477.75 103.25h0M315.25 158.5h0M495 154h0M136.5 126.25h0M428.25 120.5h0M97.5 171.25h0M356.75 43.75h0M72.75 119.25h0M491.75 166.5h0M115 70.25h0M336.25 132.25h0M318.25 145.5h0M120.75 102h0M106 88h0M291.25 90.25h0M291 69.75h0M373.75 177.25h0M68.75 81.75h0M152.5 190.25h0M467.75 79h0M334 150.5h0M477.75 107h0M291 73h0M322.5 142.5h0M481.5 108h0M87.25 175.75h0M493 181.25h0M460 69.25h0M455.75 154.25h0M484.75 177.25h0M151.75 159.5h0M94.5 192h0M441 181.25h0M364.75 134h0M427.5 159h0M124 68.5h0M412.25 53h0M325.75 145.5h0M161.75 171h0M377.75 177h0M443.5 187.75h0M297.5 38h0M517.25 49.25h0M487 167.25h0M462.75 67.75h0M302.75 81h0M517.25 111.75h0M90.75 194h0M504 140.25h0M463.25 83.5h0M104.25 163.75h0M119.25 94.75h0M507.5 155h0M71 67.25h0M420 112.5h0M424.75 173.5h0M154.5 163.75h0M139.75 179.5h0M419 95h0M63.5 52.5h0M375 184.5h0M393 177.25h0M391.5 130h0M83.25 151.75h0M65.5 100.25h0M343.75 104h0M123.25 84h0M70 79.25h0M448.25 142.25h0M444 161h0M473 56.75h0M396.75 155.25h0M356 59.75h0M456 98.25h0M396.75 111.75h0M163.75 80h0M104 168.25h0M134.25 98.75h0M349.75 64h0M391.75 123.25h0M324.75 186h0M99.75 137.75h0M445.25 182.75h0M481.25 94.75h0M143 157h0M291 58.75h0M345 120h0M143.25 148.5h0M369.75 179h0M313.5 180.75h0M126.5 69.75h0M512.75 85h0M485 122.5h0M111.75 80h0M125.5 100h0M93.25 175.5h0M415.5 76.75h0M306 130h0M332.25 150.5h0M329.75 173.75h0M518.25 59h0M105.25 140.5h0M143.5 170.25h0M89.25 161.75h0M471.75 76h0M509 169.5h0M405 67.25h0M492.75 187.25h0M302.75 93.25h0M327.5 179h0M94.5 183h0M82 159.5h0M111.5 72.75h0M105.75 107h0M452 151.25h0M416.25 70.5h0M392 151.75h0M471 44.5h0M309.5 115.25h0M467 30.25h0M444 173.75h0M420.75 92.75h0M480.5 127.5h0M156.5 186.25h0M124 93.25h0M115 100.5h0M461.5 75.25h0M111.75 92.25h0M95 188.25h0M398.75 89.5h0M416.75 96h0M72.5 115.25h0M437.5 152.5h0M459.75 103.5h0M70.25 90.25h0M383 179.25h0M429 131.25h0M397.5 133.75h0M422.25 124h0M333 155h0M291.75 75.5h0M395.75 153h0M437 193.5h0M333 176.5h0M130.75 116h0M512.5 102.25h0M447.75 123.75h0M322.25 131.25h0M419 107.25h0M450 172.25h0M125.5 88.75h0M72.75 126.25h0M427.5 125.5h0M117 81.75h0M288.5 67.75h0M484.5 156.75h0M120.75 82h0M362 108h0M301 56.25h0M128 56h0M162.75 176.75h0M424 132.5h0M519.25 70.5h0M305.75 84.5h0M308 150.5h0M419 82h0M347.5 88h0M518.25 106.75h0M456 87.25h0M108 153.75h0M164 118h0M327.25 182.25h0M496 181.25h0M463.5 68.25h0M107.5 131.75h0M330.25 158.25h0M453.5 163.5h0M316.5 156h0M335.5 155.75h0M384.5 159h0M384.5 186.5h0M515.75 144h0M501.75 168.25h0M454.25 157h0M72.5 113.5h0M152.75 158.75h0M346.25 71.75h0M425.75 151.25h0M96.25 171.25h0M470 99.75h0M366.5 109.5h0M65.5 81.75h0M483.75 149.25h0M155.75 181.25h0M161.25 160.5h0M422.75 115.5h0M359 53h0M85.75 171.75h0M70.75 109.5h0M413.5 69.25h0M82 148.5h0M76.75 126.5h0M161 177.75h0M398.5 94.5h0M337 162h0M108.5 139.5h0M68 76.25h0M477.75 108.25h0M404.5 58h0M326.75 151h0M357.75 56h0M368.5 153.25h0M365.5 111.75h0M345.75 45.75h0M461.25 58.5h0M373.75 183.25h0M327.5 176.25h0M334 127.25h0M335.75 161h0M314.75 187.25h0M443 189.75h0M293.75 65.25h0M454.25 112.75h0M427.25 113h0M320.75 181.75h0M296.75 83.25h0M370.75 140.25h0M376.25 165.5h0M424.5 77.5h0M398.75 95.25h0M116.5 95.5h0M409 59.5h0M76.25 115h0M508 168.5h0M352.25 71.5h0M126.5 95.5h0M391.5 142h0M135.25 153.25h0M347 70h0M428.75 145.75h0M479.25 128.5h0M139.75 161h0M144 164.5h0M372.5 147h0M387.75 180.75h0M498.5 188.75h0M358.75 54h0M396 134.25h0M66.5 100.5h0M81.75 153h0M435 155.25h0M369 167.5h0M454.25 133.25h0M519 44.5h0M110.5 95.5h0M153 153h0M467 65.25h0M362 113h0M158 182.5h0M128 61.25h0M381.25 193.5h0M126.25 92.5h0M89.25 178.5h0M138 108.25h0M392.75 167.25h0M77.25 125.5h0M143.25 169h0M72.5 103.5h0M113 65.5h0M351.25 76.25h0M83 163.5h0M411 93.25h0M307 140.5h0M448.5 146.5h0M336.75 160.25h0M472.25 100.5h0M147.25 144.75h0M345.75 44h0M432.5 167.75h0M508.25 141.25h0M486.5 148.25h0M78 141.75h0M478.75 74.5h0M510 147h0M504.75 185.25h0M367.75 164.75h0M72 80h0M102.5 146.75h0M147.75 160.5h0M508.75 129h0M455.5 136.75h0M348.5 95h0M398.75 100h0M343.5 55h0M425.5 173.5h0M115 103.25h0M68 90h0M487.25 134.25h0M397.75 102.25h0M84.75 148h0M335.25 158.25h0M450.5 144.25h0M117.25 95.5h0M308.75 113h0M371 162.5h0M93 161.5h0M432.5 192.75h0M397.5 122.25h0M118 74.25h0M406.25 41h0M367.75 166.25h0M106.25 125.75h0M365.25 129.5h0M501 188.25h0M438 190.75h0M402.75 43h0M490.25 161h0M358 88.25h0M148.25 169h0M291.25 102.5h0M488.5 168.25h0M401.5 115h0M500.25 170h0M345.75 48.25h0M316.75 165.25h0M463.75 81.5h0M106.5 146.5h0M415.25 126.5h0M378 195.25h0M290 135h0M497 188.5h0M139 173h0M402.75 54h0M468 85.75h0M104.5 111.5h0M292.75 35.75h0M136.5 116.5h0M363 73.5h0M360.75 94.75h0M451.75 176.25h0M323 142.5h0M67.75 98.5h0M429.75 138.25h0M89 189.5h0M151.25 156.5h0M471.25 85.5h0M391 104.25h0M398.25 107.5h0M291.25 60.25h0M498.5 168.25h0M470.25 68.25h0M426.5 139.5h0M501.25 185.25h0M315 173.75h0M106.25 115.75h0M480.25 137h0M469.75 76h0M164.25 78.75h0M489 142.5h0M443.75 167.25h0M77.25 163.75h0M433 149.25h0M443.75 182.5h0M405.5 46.75h0M108.5 123.75h0M494.25 185.5h0M429 143.75h0M387.25 158.25h0M394.5 158.25h0M412 62.25h0M358.5 100h0M404.25 78.25h0M503 168.25h0M114.5 95.25h0M463.75 73.5h0M459 82.25h0M360.25 81.5h0M75 92.5h0M149.75 168.75h0M312 139h0M422 136h0M130.25 102.25h0M111.5 116h0M113 68.5h0M335.75 136.5h0M450 176.5h0M77 147.5h0M475.75 86h0M153.75 173.75h0M78.25 168.25h0M144.25 155.75h0M308.75 102.75h0M92.5 163.25h0M62 94.25h0M421 80h0M433.75 150.5h0M388.5 155h0M318.5 188.75h0M458.5 109.25h0M365.75 110.25h0M492.5 190.75h0M488.25 134.5h0M379.5 194h0M66.25 104.25h0M113.75 132.25h0M482.5 108.75h0M78.5 155.25h0M376.5 168.75h0M321.5 127.5h0M107.75 136h0M100 143.75h0M428 114.5h0M458.25 136.75h0M489 139.75h0M467.75 59.5h0M414.25 121.25h0M340.75 145.25h0M444.5 159.5h0M367.25 157.75h0M510.75 111.75h0M76 139.25h0M113.75 83.25h0M99 162.5h0M437.25 188h0M83 143.75h0M92 184h0M115.75 72.75h0M163 141h0M132 78.25h0M365.25 120.5h0M302.25 65.75h0M111.5 78.5h0M310.25 129.5h0M413.5 64.25h0M303.25 64.25h0M345 44h0M74.75 99.25h0M332.5 140.75h0M313.75 172.5h0M390.75 164.5h0M57.75 84.5h0M348.75 58.5h0M358.75 49.5h0M120.75 90h0M293.75 85h0M294.25 51.5h0M428.75 167.75h0M315.75 143h0M332.25 143.25h0M511 116.5h0M516 123.75h0M404.5 49h0M510.5 137.75h0M510.75 172h0M344.5 73.25h0M503 177.5h0M362.25 59h0M359.5 144.75h0M153 132.25h0M426.5 117.25h0M134 125.25h0M496.5 170.25h0M354.75 70.5h0M164.25 99.75h0M293.25 71.25h0M110.25 130.25h0M70 59.75h0M59 84.5h0M419 120.75h0M320 143.25h0M454.75 134h0M151.75 148.5h0M518.5 89h0M452.75 165.75h0M355.5 95h0M366.75 150.5h0M305 77h0M468.25 76.5h0M146.75 150h0M412.5 80.5h0M128.75 72.75h0M59.25 94.25h0M361.75 110.5h0M160.5 123.25h0M400.5 78.25h0M324.5 156.5h0M426.25 111h0M454.5 104h0M377.5 161.75h0M459.5 111.25h0M436 145.25h0M299.75 104.25h0M458 131.25h0M390.5 147.5h0M507 141.75h0M502 162.25h0M415.75 69.75h0M484.25 144.25h0M513 110.25h0M403.75 49.75h0M458.75 102h0M147.5 147.25h0M73.5 84.5h0M340 159.5h0M416.25 64.75h0M513.75 146.75h0M106.75 139.5h0M365 140.75h0M71.5 78.5h0M92 189.5h0M516.25 125.5h0M332.5 162h0M84.25 160h0M125 89.75h0M487 182h0M409 37h0M386 131h0M367.25 164.5h0M414.25 57.25h0M399.5 97h0M503 161.75h0M384.5 176.25h0M361 104.25h0M318.75 158.25h0M375 142.75h0M405.75 89.25h0M312 144.5h0M108 110.25h0M380.25 168.25h0M348 81h0M518 74h0M451.5 181.5h0M519.75 95.5h0M374.5 135.25h0M439.25 158.5h0M110.25 147h0M305 71.75h0M428.75 144.5h0M441.25 153.25h0M485.75 150.75h0M486.75 167h0M483.5 172h0M470.25 41h0M386.25 155h0M329.75 155.25h0M117.5 50.5h0M346.5 61.75h0M304.25 108.75h0M163.5 129.25h0M412.25 55.5h0M104.75 117.75h0M347.75 45.25h0M63.25 69.25h0M401.5 105h0M406.5 87h0M107.5 124.5h0M139 118.25h0M145.25 190.75h0M468 55.25h0M144 153.5h0M460.5 84.5h0M66.25 98.25h0M404.75 65.5h0M512.25 132.75h0M511 131h0M345.5 57h0M365 123.25h0M425.75 140h0M391.75 138.25h0M480.5 62.25h0M408.75 43h0M94.25 180h0M389 185.75h0M58.25 83.5h0M393.5 176.5h0M112 73h0M478.75 112.5h0M453.75 154h0M381 157h0M155.75 186.5h0M79.5 138.25h0M163.25 95.25h0M478 60.5h0M300.75 66h0M316.75 179.25h0M473 74.75h0M362.25 63.5h0M307 122.25h0M65.75 106.25h0M153.75 182.25h0M508 139.25h0M472.5 76h0M128.25 88.5h0M95.75 149.25h0M289 16h0M358.25 60.75h0M432.75 168.25h0M505.75 179h0M508.25 128h0M406.25 34.75h0M132.5 82.5h0M461 47h0M291 92.5h0M404.75 38.5h0M357.25 46.25h0M478.25 68h0M340.25 136.25h0M510 101h0M463.75 87.75h0M137.75 157.5h0M110.5 136h0M401.75 94h0M338.75 141.25h0M160.75 132.5h0M421.75 122.75h0M317.75 171.25h0M443.75 165.25h0M382 148.75h0M121 75.25h0M107.25 133.75h0M514.5 109h0M417 81.5h0M433 165h0M427.75 150.5h0M497.25 159h0M96.5 177.75h0M97.25 180.75h0M432 162h0M463.75 84.75h0M354 94.5h0M490.75 145.25h0M339 129.25h0M105.25 115h0M292.5 37.75h0M303.25 78.75h0M331 178h0M332.25 144.5h0M403.5 70.25h0M76.25 154.25h0M509.5 161.5h0M389.25 135.75h0M305.25 88h0M119.75 79.5h0M144 147.5h0M101.75 167.25h0M438.75 161.75h0M315.25 177h0M147.5 191.75h0M516.25 102.25h0M405.5 77h0M77.75 150.5h0M518.75 67.5h0M63.25 72.25h0M459.25 55.5h0M411.25 96h0M398.5 67.75h0M298.25 45.25h0M513.5 110.5h0M306.75 147.5h0M139.25 178.5h0M458.5 121.5h0M396 139.75h0M471.5 123.5h0M475.75 101h0M434.5 164.5h0M359 63.5h0M329.75 176.25h0M299.5 63h0M358.25 65.5h0M115.5 93h0M497.5 191.25h0M386.25 146h0M429.75 158.5h0M162.25 107.25h0M318.75 139h0M100 148h0M461.5 77.25h0M288.25 50h0M393.5 170.5h0M395.5 118.25h0M388.25 153.75h0M110.5 118.25h0M463.25 38.75h0M61 52.25h0M144 148.75h0M512 112h0M65.5 63.5h0M401.75 90h0M122 82.5h0M327.75 188.75h0M495.75 163h0M139.5 186h0M128.5 84.5h0M417.25 61.25h0M422.75 62h0M335.25 162.75h0M422 126.5h0M135.5 136.25h0M456 117.25h0M343.5 56.25h0M318.25 182.25h0M415.75 78h0M338.25 114.75h0M130.5 109.5h0M309.25 124.25h0M389.25 149.75h0M58.25 74.75h0M74 123.25h0M394.5 157h0M146.5 125.5h0M64 59.25h0M365.5 116.75h0M482.75 111.5h0M392 141h0M429.25 122.25h0M505 182.5h0M465 41.25h0M116.5 84.75h0M339.5 151.75h0M335 140h0M81.75 121.5h0M451.25 173.75h0M358 92.75h0M375 153.75h0M310.25 149.25h0M87.5 141.25h0M401.75 106.5h0M502 157.25h0M323 143.75h0M111.5 90.75h0M369 176h0M401.25 71h0M345.75 76.25h0M434 185.25h0M387.75 168.25h0M108.75 97.25h0M452 168.25h0M297.75 65.5h0M290.75 68h0M80.5 130h0M301 55.75h0M388.75 185.75h0M299.5 72.75h0M100 148.5h0M310 152.25h0M483.75 122.25h0M297 75.5h0M127 105.75h0M76.5 132h0M391.75 147.5h0M337.5 119.25h0M399 86h0M374.5 171h0M424.5 165.25h0M86.5 171h0M375.75 142h0M79 173.5h0M480.25 136.5h0M342.5 115.25h0M337.5 105.75h0M443.75 182h0M452.25 163.25h0M484.25 158h0M296 69.5h0M512.75 128h0M460.25 51.5h0M411.5 55.5h0M60.5 82.75h0M371.25 128.75h0M370.5 119h0M298 67.75h0M456.75 140.5h0M290 89.5h0M372.5 190h0M327.75 185.75h0M402.75 57.75h0M491.75 189.5h0M326.75 148.5h0M102.75 159.5h0M464.25 79.5h0M476.25 62.25h0M70.25 85.25h0M517 47h0M410.25 62.75h0M322.75 171h0M300 72h0M483 135h0M313 183h0M64.75 89.75h0M71 105.5h0M492.5 168.25h0M101.25 130.25h0M348.75 41h0M356.25 54.25h0M150 168.25h0M476.25 52.5h0M464.25 63.25h0M107.5 145.25h0M58.5 96h0M376.75 143.75h0M132.25 119.25h0M110.75 124h0M381 161h0M435.75 165.75h0M501.25 174.5h0M323.25 141.25h0M335 172.5h0M369 136.5h0M335.75 168.75h0M333.5 129.25h0M520 76.5h0M450.5 94.75h0M402.75 82.25h0M494.25 145.5h0M74 87.75h0M419.5 97.25h0M349.75 84.25h0M367.75 169.5h0M124.25 58.75h0M494.5 171.5h0M154.25 176.5h0M59 99.5h0M477.75 108.5h0M344 100.5h0M161.5 149.75h0M372.25 153.5h0M138.5 141.5h0M117.25 92h0M399.25 79.5h0M371.75 128.5h0M475.25 90h0M401.25 52.25h0M497.5 185h0M459.25 57.75h0M341 143.75h0M360.25 92.75h0M324.5 152.75h0M471.5 86h0M294.75 49h0M145.25 162h0M304 111.5h0M421.75 95.5h0M482 104.75h0M92.75 178.25h0M107.25 132.25h0M112 76h0M306.75 136.5h0M136.5 123h0M435.5 150.5h0M372.75 153.75h0M65 88h0M141.75 157.5h0M88.25 150.25h0M324.5 184.25h0M495.75 190.75h0M338 108h0M104 132.25h0M396.75 100.75h0M453.75 153.5h0M400.25 139.5h0M409.75 90h0M164.5 75.25h0M390.75 185.5h0M465 60h0M59.75 68h0M84.75 156.75h0M381 164h0M405.5 109.5h0M519.75 70.5h0M478.75 71.5h0M310.25 109.25h0M464.5 85.5h0M89 191.5h0M90.25 150.25h0M514.25 125.25h0M135.5 139.5h0M68.5 93.25h0M163.75 133h0M472.5 51h0M335.5 153.5h0M130.25 105.5h0M66 64.25h0M465.25 55.25h0M98.75 164.5h0M321.25 163.25h0M492.5 187.75h0M60.25 64h0M122.75 84.25h0M441 159.25h0M434.75 148.75h0M403.25 44h0M101 130.75h0M79.25 180.75h0M374.5 146.25h0M164 143.75h0M422.75 122.25h0M381 162.75h0M416.5 61h0M315 183.25h0M378.25 148h0M404.25 61h0M123 71.25h0M428.5 126.25h0M457.5 139.5h0M439.25 190.25h0M452.25 168.25h0M430 176.75h0M351.75 73.75h0M425 149.5h0M159.75 135h0M394.75 143h0M515 96h0M483.25 123.75h0M101.5 170.25h0M368 154.5h0M163.75 70.75h0M429.5 164.75h0M320.5 169.25h0M96.5 155.5h0M310 131.75h0M307 150.75h0M515 141.25h0M158 186h0M428.75 190.5h0M449 142.75h0M60.75 78.5h0M348.5 71.25h0M467.5 82.25h0M124.5 65h0M300 91.5h0M98.25 181.75h0M459 68.75h0M369 128h0M439.5 165.75h0M509.75 127.5h0M324.75 179h0M75.5 92.25h0M351.5 77h0M353 78.75h0M502 158.25h0M75.25 110.75h0M137 130h0M106.25 114.25h0M406.25 54.25h0M133.5 62.75h0M480.25 122.75h0M464.25 84.25h0M110 88.75h0M336.75 156.5h0M435 166.5h0M80.75 161.75h0M514 148h0M460.25 67.25h0M486.25 140.25h0M158 180.75h0M405.5 75h0M388.5 161.75h0M160.5 175h0M485.75 178.75h0M156.25 173h0M295.5 40h0M516 129h0M105.5 117h0M108.25 132.25h0M139 174h0M69.5 100h0M518.5 73.25h0M401.25 61.25h0M295.75 74.75h0M120.75 62.25h0M59.25 96.25h0M389 186.75h0M468.75 47h0M385.25 149.75h0M300.25 44.5h0M113.5 84.5h0M341.75 124.5h0M491.25 166h0M338.5 100h0M107.75 154.25h0M75.25 99h0M156.5 191h0M458.25 119.5h0M121.25 49.75h0M129 67.75h0M325 171.25h0M446.75 158.25h0M354 57.75h0M300.75 83.25h0M486.25 137h0M137.25 131.5h0M70.75 72.25h0M474.5 139.25h0M349.75 26.75h0M58.25 56.25h0M100.75 167h0M443.25 189h0M483.5 120.25h0M485 167h0M518.5 94.75h0M428.25 130.25h0M521.25 89.5h0M357 56.5h0M485.75 144h0M317 142.75h0M316.5 174.75h0M310 114h0M338.75 160.5h0M416.75 55.75h0M116.5 87.25h0M393.25 176h0M338.75 142.75h0M447.5 173.75h0M351.75 44.5h0M510 173h0M84 189.75h0M426 147h0M354.25 39.75h0M309.75 144.5h0M415 54.75h0M162.5 90.5h0M419.5 87.5h0M137.5 127.5h0M161.75 108h0M293.5 92.25h0M358 91.25h0M481.5 156.75h0M496 179.25h0M107.75 102.75h0M478.5 64h0M290 116.75h0M453.75 169.75h0M365.5 102.75h0M490.75 161h0M396.5 160.75h0M93.25 169.5h0M110.75 133.5h0M145.75 139.75h0M150.25 164.75h0M323.5 184.75h0M114.75 52.5h0M105 108.5h0M347.25 83h0M416.25 69.5h0M139.75 173.25h0M104.25 170.5h0M132 90h0M336 142.25h0M429.25 152.25h0M461 93.5h0M138.5 147.25h0M105.5 112.5h0M61.75 95.5h0M126 88.5h0M82 149.5h0M482.5 126h0M429 170.25h0M411.5 67.25h0M515.75 143.25h0M430.25 134.5h0M373.5 157.25h0M515.5 134.75h0M390 163.75h0M341.25 120.75h0M339.25 122.5h0M429.75 175.75h0M345.75 78.75h0M335 157h0M376.25 155h0M74.5 84.25h0M139 164h0M136.5 120.25h0M367.75 172.75h0M111 120.5h0M77.5 112.75h0M154.5 190.75h0M508.75 155h0M310.5 104.5h0M390 140.75h0M93.25 182.5h0M420 60.25h0M288.5 65.75h0M121.75 84.75h0M424.75 158.75h0M455.5 153.25h0M298.5 55.5h0M452.25 175h0M326.25 143.5h0M118 91h0M84 127.5h0M361 64.5h0M421.5 76h0M306.5 134.5h0M456.25 90.25h0M305 116h0M66.75 84.75h0M488.5 185.75h0M60.25 57.5h0M503.5 147.25h0M421.25 100.5h0M78.75 173.5h0M59.25 97.75h0M312.75 118.75h0M357 66.5h0M320.75 162.75h0M415.25 82h0M437.75 159.75h0M116 87.5h0M151.25 150.75h0M500.25 160.25h0M109.5 109.75h0M482.75 114.5h0M337.25 159.25h0M114 48.25h0M388.75 181.5h0M322.5 185.75h0M388.25 182.25h0M502.5 142.25h0M158.5 178.75h0M65 74.5h0M71.5 84.75h0M352.5 31.5h0M488.25 117.75h0M319.25 140.5h0M455.5 128h0M417 66.75h0M74.5 108h0M442.25 171.5h0M362.75 84.75h0M507.5 170h0M124 83.75h0M387.75 171.5h0M486.75 169.75h0M472.5 46h0M413.75 53.25h0M513.25 99.25h0M312.25 129h0M308.5 103h0M360.75 80.75h0M476.25 50.75h0M124 55.5h0M326 147.5h0M78.5 166.25h0M452.25 133.5h0M311.5 164.25h0M93 161h0M371 140.25h0M408.75 33.5h0M138.5 124h0M381.5 193.75h0M350.75 45.5h0M480.75 115.25h0M116.25 67.75h0M493.25 164.75h0M364.5 83.25h0M121 67.25h0M131.25 70.75h0M342.75 119h0M125 134.25h0M304.75 78h0M439.25 176h0M69 75.5h0M119.75 64.5h0M304 112h0M361.25 102h0M352 45.25h0M125 86h0M139.25 186h0M68 102.5h0M310.5 136h0M99.5 147.5h0M483 103h0M366 107.25h0M512.5 102.75h0M420.25 69.75h0M374.75 134.25h0M293.25 64h0M511 168.75h0M336.25 153.75h0M317.75 137.5h0M99.5 176.75h0M150.5 151.5h0M333.75 115.25h0M520 82.75h0M371 135.5h0M97 181h0M136.5 106.75h0M475 91.5h0M61.75 97h0M485.75 159.5h0M142.25 140.5h0M425.5 155.5h0M341 133.5h0M324 165h0M61 76h0M159 145.5h0M521.25 81h0M472.25 57.75h0M373 141h0M67.25 62.5h0M459.5 101.5h0M76 155h0M484 150.5h0M139 172.5h0M65 105.25h0M309.75 145.75h0M154.5 163.5h0M359.5 97.75h0M138.75 173.5h0M467 42.5h0M70.75 69.5h0M466.75 31.25h0M478.75 79h0M426 139.5h0M101 144h0M141 128.5h0M338.5 111h0M457 146.75h0M332 148.75h0M305.25 91.75h0M151 191.75h0M467.5 42.5h0M79.5 155.5h0M64 59h0M339 120.5h0M482.75 158h0M325 136.5h0M62.25 65h0M477.5 91.75h0M297.25 88.25h0M140.75 170.5h0M336.5 170.75h0M120.75 58.75h0M503.75 143.5h0M77.5 134.25h0M408 89.25h0M440.5 133.25h0M86.25 173.75h0M312.75 137.5h0M454 92h0M342.75 100.25h0M155.75 163.5h0M460.25 53.5h0M439.5 191.25h0M103.5 134.5h0M305.75 116h0M473.25 91h0M473.5 61.75h0M361.5 101.25h0M443 172.75h0M452.5 168.5h0M472.5 63.25h0M293.5 34h0M479 97.75h0M356.75 53.25h0M409.25 42.75h0M113.25 89.5h0M519.5 83.25h0M509 154.25h0M63.25 95h0M362.75 67.75h0M400.5 76h0M306.25 97h0M442.5 191.5h0M500.25 191.5h0M135 142.5h0M335 147.25h0M354.5 45h0M459.5 93.75h0M76.25 141.25h0M137.5 125.75h0M289 45.25h0M373.5 135h0M102.25 106.75h0M495 159.75h0M130.75 108.75h0M452.5 173h0M143.25 151.75h0M496.75 181.75h0M473.75 54h0M455.75 113.75h0M121.25 53h0M71 84.75h0M308.5 151.75h0M105.5 152.5h0M362.5 62.25h0M131 61.5h0M303.25 101.75h0M61.25 50.5h0M97.5 121.5h0M520.25 101.25h0M484 116h0M400 110h0M491.75 153.5h0M75.5 91.75h0M467.75 32h0M108.25 155.5h0M160.5 116.75h0M389.75 147.5h0M461.5 58.75h0M310 155.25h0M514.5 88.75h0M458.5 83h0M515.75 123.25h0M385 175.75h0M411.5 54.75h0M489.25 150.5h0M520.5 117.25h0M107.5 167.25h0M140 135h0M489 187.75h0M288.75 57h0M122.5 53h0M456.25 94.25h0M299.75 58.25h0M71.75 115.75h0M403.25 37.5h0M299.75 49.25h0M509.75 142.25h0M403.75 65.5h0M429 145.75h0M345 69h0M454.75 122.25h0M360.75 66.5h0M388.25 132.25h0M503.5 149.75h0M61.25 83h0M519.25 43h0M514 123.75h0M58.25 63h0M106 125.25h0M365.75 105.75h0M372.5 183.25h0M87.5 155.25h0M67.5 69.5h0M154.25 175h0M512.75 102.5h0M406.75 52.75h0M356 52h0M420.75 69.5h0M355 46h0M510.75 134h0M447.75 140.5h0M341.25 148.75h0M156 152h0M161 144.75h0M332.5 167.25h0M497.5 193.75h0M325.5 156h0M73.75 73.25h0M462.25 65.5h0M84.75 180.75h0M92.75 161h0M519.25 68.5h0M121.75 106.75h0M487.25 153.5h0M374.5 132.5h0M434.75 126.25h0M512.25 140.75h0M375 164.5h0M57.75 89h0M304 108h0M479.5 127.5h0M360.5 58.5h0M368.75 126.75h0M460.5 77.5h0M97.5 191.25h0M58.5 98h0M339.75 134h0M379.5 166.75h0M320.5 146.5h0M120 99.5h0M152.5 166.25h0M291.25 46h0M333.5 139h0M313.75 173.5h0M75 94h0M316.75 135.25h0M405 56.75h0M360.25 58.25h0M439.25 152h0M407.25 62.5h0M117 67.5h0M374.25 177.5h0M301.75 57.25h0M377 149.75h0M119.75 40.25h0M289.75 92h0M110.75 116.25h0M123.25 87.25h0M355.75 72.75h0M113.25 63.25h0M457.5 142.75h0M314 125.75h0M164.75 78.75h0M91.25 194h0M455.75 159.25h0M466.75 71.25h0M474.75 70.5h0M80.5 173h0M404.5 68.5h0M88.5 159.75h0M482.5 134.25h0M450.75 140.25h0M399 90h0M126 86.75h0M487.5 152h0M306 133.25h0M423.75 146.25h0M423.5 138.5h0M458.25 88.75h0M445 179.75h0M306 133h0M327.75 173.75h0M423.5 119h0M440.5 175h0M164 106.5h0M94.75 159.25h0M355.25 129.75h0M309 99.25h0M448.5 129.75h0M368.5 117.25h0M494.25 159h0M324.5 173.5h0M481.75 131h0M124.25 63.25h0M423.5 114h0M409.5 79.75h0M496.75 187.25h0M332.75 143.25h0M495.25 141.5h0M89.5 154.25h0M405.25 94.5h0M467.5 81.5h0M422.25 147.25h0M140.25 146.25h0M423.5 101h0M163.75 134.25h0M306 125.75h0M97.5 169.5h0M408 80h0M460 80.75h0M366.75 159.5h0M363.75 78.25h0M377.5 175h0M507.25 143h0M515.5 155h0M356 76.75h0M69 66h0M134 155.5h0M88 139.75h0M392.25 166.25h0M129.5 86.5h0M374.25 139.5h0M347.75 75h0M114.5 72.5h0M519.75 26.5h0M383.75 172h0M439 172h0M77 130h0M154.5 169.5h0M157 161h0M91.75 154.25h0M395.75 162.75h0M345.75 50.5h0M421.25 78.5h0M140 156.5h0M89.5 170h0M500.25 192.75h0M411 64.25h0M374.25 163.5h0M482 103h0M76 141.25h0M489.75 147.25h0M322.25 173.75h0M375.5 178h0M370.5 105.25h0M79.25 151.5h0M394.25 114.75h0M141.5 144.25h0M113.5 107h0M99.75 145.25h0M309.25 124h0M360.5 61.75h0M515.5 66.5h0M512 146.5h0M444.25 150h0M319.5 183.5h0M119.75 57h0M324 175.25h0M377.5 186.75h0M511.25 141.75h0M149 186h0M75.25 96.5h0M85.75 142h0M413.75 52h0M99.5 144.5h0M113 51h0M412.5 46h0M63.25 80.5h0M159.75 158.25h0M517 44.5h0M311.75 163.25h0M78.25 178.5h0M158 142.75h0M96.75 157.25h0M311.25 129.25h0M342.25 113h0M143 154.5h0M332.25 139.5h0M311.5 157.25h0M336.25 144.75h0M479 88.5h0M404 51h0M385.25 147h0M388 184.75h0M341.25 102.5h0M460 88.25h0M508.5 135.5h0M104 168.75h0M109.75 155h0M476 60.75h0M363.25 91h0M157 154.75h0M307 60.75h0M87.75 133.75h0M64.25 59h0M426.25 167.75h0M314 147.75h0M368.5 144.75h0M164 95.75h0M325.25 165h0M387.5 175.5h0M358.75 74h0M352.5 72.5h0M436.25 157.25h0M130 97.75h0M367 107h0M112.75 86h0M416.5 46.75h0M69.75 84.25h0M130 96.25h0M516.5 79.25h0M460.5 80.75h0M340.5 91.5h0M106 113h0M428.75 173.75h0M413.25 79.5h0M103.75 152.25h0M396.75 129h0M127.5 77.75h0M292.5 42.5h0M112.5 98h0M310.25 136h0M122 49.75h0M518 59.25h0M113 77.25h0M445.75 175h0M466 35h0M339.25 132.5h0M484.25 155.25h0M460.25 92.25h0M86.25 135.75h0M107.25 111.5h0M520.75 97.75h0M501.75 144.25h0M329.25 179.25h0M106.75 165.25h0M357.25 63.5h0M517 56h0M145 186.25h0M319.5 179h0M494.5 184h0M107.75 161.25h0M297.25 69.75h0M429.75 132.25h0M117 71h0M395.75 134.5h0M347.25 89.25h0M313.5 151h0M345.5 45h0M511.5 118.25h0M519.75 69.75h0M347 99.25h0M362 118.75h0M75.25 95.5h0M454 152h0M303.5 83.5h0M511.25 144.25h0M494.75 152.25h0M510.5 151.5h0M310.25 95.25h0M291.25 85.75h0M489.5 142h0M371.25 127.75h0M159.5 125.5h0M320.5 143h0M306.5 95.25h0M436.75 148.75h0M291.75 93.5h0M294.25 78.75h0M88 145.75h0M386 184.75h0M121.5 49h0M455.5 107.75h0M370.75 180.75h0M497 148h0M440.5 150.5h0M488.25 150h0M400.75 62.25h0M431 137.25h0M454.25 170.5h0M338.5 147.75h0M294.25 94.75h0M147.75 141h0M305.75 102h0M349 54.25h0M102.75 160.5h0M402.5 63.5h0M396 82.25h0M127.75 52h0M407.25 52h0M76.75 165h0M321.75 166.5h0M346 60.5h0M360 46h0M93.5 140.5h0M61.5 65.75h0M386.5 180h0M484.5 171h0M112.25 64.5h0M426.75 138h0M78.75 153h0M329.25 154.5h0M126 102.5h0M501.75 181.25h0M138.25 120h0M91.75 158h0M107.5 144.5h0M358.25 91.25h0M515.25 130.5h0M493.5 189.25h0M368 166.75h0M104.75 125.5h0M161.25 159.75h0M109.75 148.75h0M392 137.5h0M77.25 160.75h0M313.75 137.5h0M454.75 79.25h0M324.5 167.75h0M86.5 176.5h0M289 60h0M132 80.5h0M327 178.25h0M60.75 73.5h0M156.75 160.75h0M163.75 171.75h0M105.5 112.75h0M393.5 118.75h0M393.75 140.75h0M390.5 182.75h0M125.75 99.5h0M342 147.75h0M353.75 45h0M460.75 75.75h0M61.25 88.25h0M58 77h0M375.25 131.25h0M408.75 66h0M489.5 154.5h0M412.75 127.5h0M521 53h0M403 54.5h0M137.5 126.25h0M511.25 144h0M301.25 142.25h0M401.75 105.75h0M365.5 97h0M387.25 144.5h0M360.5 116h0M104.5 121.75h0M511.75 128.75h0M106.75 170.75h0M68.25 94h0M163.75 82.25h0M58 70.75h0M115.25 56h0M124 58.25h0M113.25 41.25h0M346.25 73.75h0M412.5 139h0M105.25 104.25h0M124.75 100.5h0M409.25 49.5h0M139.25 176.5h0M311 161h0M113.75 79.25h0M318.75 179h0M454 126.75h0M64.5 79h0M511.5 151.5h0M372 125h0M78 93.5h0M437.5 188.75h0M412.5 43h0M429.25 142.5h0M140 140.25h0M111 134.75h0M295 60.5h0M516.25 113.5h0M400.25 53.25h0M125 97.5h0M297.25 57.75h0M375.25 190.5h0M425.25 162h0M72.75 117h0M324.75 184h0M342.5 139h0M520.75 71.5h0M345.75 50h0M82.25 174.75h0M337.25 107h0M427.25 121h0"/>
</g>
<rect x="35.5" y="7.2" width="509.5" height="202.2" fill="none" stroke="#222" stroke-width="1"/>
<path d="M87.6 209.3v3.2M145.4 209.3v3.2M203.3 209.3v3.2M261.1 209.3v3.2M319.0 209.3v3.2M376.8 209.3v3.2M434.7 209.3v3.2M492.5 209.3v3.2M35.5 166.7h-3.2M35.5 123.7h-3.2M35.5 80.7h-3.2M35.5 37.6h-3.2" stroke="#222" stroke-width="0.8" fill="none"/>
<g font-size="9" fill="#000">
<text x="87.6" y="223.2" text-anchor="middle">2012</text>
<text x="145.4" y="223.2" text-anchor="middle">2013</text>
<text x="203.3" y="223.2" text-anchor="middle">2014</text>
<text x="261.1" y="223.2" text-anchor="middle">2015</text>
<text x="319.0" y="223.2" text-anchor="middle">2016</text>
<text x="376.8" y="223.2" text-anchor="middle">2017</text>
<text x="434.7" y="223.2" text-anchor="middle">2018</text>
<text x="492.5" y="223.2" text-anchor="middle">2019</text>
<text x="29.5" y="170.0" text-anchor="end">10</text>
<text x="29.5" y="127.0" text-anchor="end">20</text>
<text x="29.5" y="84.0" text-anchor="end">30</text>
<text x="29.5" y="40.9" text-anchor="end">40</text>
<text x="290" y="235.6" text-anchor="middle">Year</text>
<text transform="translate(13,109) rotate(-90)" text-anchor="middle">PWV(mm)</text>
</g>
<text x="44.7" y="18.3" font-size="10.5" fill="#000">(a)</text>
<rect x="188.4" y="18.3" width="82" height="28.7" rx="1.5" fill="#fff" fill-opacity="0.8" stroke="#ccc" stroke-width="0.7"/>
<circle cx="200.5" cy="25.5" r="1.85" fill="#0000ff"/><circle cx="200.5" cy="38.8" r="1.85" fill="#ff0000"/>
<g font-size="9.15" fill="#000"><text x="217.5" y="28.9">RDS PWV</text><text x="217.5" y="42.1">GNSS PWV</text></g>
<path fill="none" stroke-linecap="round" stroke="#808080" stroke-width="3.90" d="M128.25 517.75h0M95.25 524.25h0M83 542.5h0M188.75 474.25h0M160.25 486.25h0M317.75 377h0M168.5 486.75h0M358 330.5h0M351 341.25h0M285 380h0M336.5 353.5h0M89.75 528.75h0M166 488.5h0M197.5 463.5h0M171.25 478.25h0M149 493h0M168.75 488.25h0M332.5 371h0M322 375.75h0M320.75 382.5h0M201.25 466.25h0M169 471h0M361.75 345.75h0M91 538h0M181.25 470.25h0M366.75 332h0M170.75 473h0M164.75 480.5h0M185 497h0M339.25 358.25h0M272.75 414.25h0M151.25 525.5h0M286.75 410.75h0M326 371h0M103.25 517.75h0M138.25 504h0M157.25 486h0M211.25 452h0M216.5 439h0M177 473.75h0M286 371.5h0M331.5 367h0M111.75 522.5h0M115.75 535h0M156 472.75h0M186.5 465.75h0M229.5 430.25h0M355 341.75h0M297 390.25h0M143.75 492.25h0M357.5 356.25h0M180.75 461.5h0M106.25 528.25h0M331.5 388.25h0M138.5 503.5h0M162 477.75h0M334.5 372.25h0M151.25 485h0M207 451.25h0M362.5 327.25h0M229.75 433.5h0M136.75 514.75h0M319 367.5h0M133.5 499.25h0M331 372h0M316 374.75h0M240.75 430.5h0M94.25 544h0M243.5 417.5h0M288.5 374.25h0M339.25 347.75h0M136 508.75h0M83.5 539.25h0M109.75 525h0M396.5 318.25h0M315.25 380.25h0M309 386h0M118 528.25h0M340 346.5h0M103.75 529.75h0M107 531.5h0M322.75 386h0M249.75 408.5h0M133.5 510h0M112 509.25h0M348 347.75h0M111.75 512.75h0M357.5 353.5h0M96.75 545.25h0M276.25 389.75h0M109.25 506.75h0M79.25 546h0M113 513h0M378.5 353.5h0M173.5 487.5h0M310 373.25h0M100.75 526.75h0M171.75 503.75h0M189.25 463.5h0M375 344h0M175.25 523.75h0M335.25 344.5h0M346.25 355h0M256.75 413.75h0M378.5 323.5h0M339.5 362h0M309.5 371.75h0M351.75 343h0M98.5 525.25h0M395.5 317.5h0M205 440.75h0M218.5 443h0M79.5 543h0M125 531.5h0M146.5 479.75h0M136 497.5h0M350.5 337h0M282 395.75h0M117.5 508.25h0M304.75 379h0M335.25 371.5h0M317.5 373.25h0M152.5 494.75h0M315 385.25h0M399 326.5h0M94.5 517h0M161.5 487.75h0M166.5 488h0M129.5 521.5h0M344.25 366h0M308.25 380.5h0M135.5 505.25h0M131.25 507.5h0M117 512.25h0M368.5 337h0M138 506h0M141.5 478.75h0M195 464.25h0M324.25 359h0M337.5 356h0M274 390.5h0M278.5 404.75h0M95 544.25h0M126.5 503.5h0M264.5 397.25h0M154 491.5h0M158.75 486.75h0M164.5 517.25h0M368.25 356.5h0M321.5 362.25h0M367 340h0M380 325.5h0M288 381h0M183 474.5h0M324.25 354.75h0M202 471.25h0M102.25 528.25h0M261.25 411.25h0M299.25 389h0M173.75 477.25h0M216.25 436.75h0M133.75 506.25h0M163 469.75h0M217.75 448.5h0M127.75 508.25h0M387 323.5h0M134.5 479h0M308 379.25h0M136.75 488h0M144 500.5h0M142 516.75h0M253.25 419.75h0M338.25 357.25h0M231.75 455.5h0M172.25 479.25h0M178.25 474.5h0M259.25 415.5h0M181.5 447.25h0M278.75 399.25h0M174.75 458.25h0M206 450.75h0M154.25 497.5h0M214.5 448h0M180.75 462h0M338.25 350h0M182.25 468h0M349.5 346.5h0M177.25 473.25h0M181.75 468.75h0M144.5 517.25h0M256.25 409h0M128.75 523.75h0M365.25 346.5h0M180.25 464.75h0M292 389.5h0M323.25 362h0M133.5 504.25h0M205 447.5h0M252.25 432.5h0M234 433.25h0M301.25 402.75h0M168.75 489h0M394.5 321.25h0M315.5 367.75h0M100.25 530h0M260 417h0M325.5 366.25h0M229.5 425.25h0M321 410.25h0M123 544.5h0M296.5 384h0M248.25 430.5h0M198.75 459.5h0M255.75 409.5h0M356 335.25h0M162.75 484.5h0M90.25 524h0M345 344.5h0M392.25 327h0M212.5 444h0M163 478.5h0M163.5 478.5h0M333.5 365.5h0M177 478.25h0M208.5 451.25h0M281.5 399.5h0M254.75 407h0M401 307.5h0M227.75 449.5h0M357.75 346h0M170.75 474h0M120.75 503.75h0M165.5 476.5h0M142.25 499.5h0M367 348h0M365.25 352h0M95.25 542.75h0M284 396.75h0M158 482.25h0M323 355.25h0M300.5 383.25h0M404.5 299h0M119.25 504.75h0M296.75 373.5h0M150.5 495.25h0M157 483h0M341.75 345.5h0M313 368.75h0M182.75 485h0M249 423h0M279.5 393.5h0M315.25 358h0M81.25 541.75h0M293.5 391.25h0M378.25 327h0M103.75 523.75h0M150 482.25h0M322 371.75h0M324.25 367.25h0M334.75 393h0M170.75 481.25h0M245.5 433.75h0M267.5 394.25h0M280 398.5h0M115.75 512.25h0M276.5 406.5h0M218 434.5h0M173.75 488.25h0M122.25 503.5h0M285.5 404.25h0M175.5 464.5h0M162.75 474h0M205.25 466.75h0M130 493.75h0M184.5 467.25h0M144.25 505.5h0M121 519.25h0M130.75 507.5h0M174 486.75h0M167.25 450.5h0M226.25 431.75h0M128.75 518.5h0M185.5 461.25h0M142.5 495.25h0M305.75 385.75h0M248.75 425h0M275.5 414.5h0M146.75 514.5h0M371 344.75h0M385.5 323h0M83.5 543.5h0M296.75 389h0M120.5 538.25h0M317.75 356.5h0M129.25 499.25h0M149.75 502.25h0M95.5 522.25h0M137.75 496h0M184.5 482.5h0M152.5 488.75h0M172 485h0M104.75 535.25h0M322 361h0M91.75 534.5h0M164.75 479.75h0M130.25 514.25h0M359.25 341.75h0M327.5 362h0M354.25 348.75h0M196 476.75h0M119.75 521.5h0M337.5 348.25h0M321 355.5h0M204.75 451.75h0M328.25 367.5h0M119 514.25h0M195.5 452.5h0M144.25 492.75h0M366.75 333.75h0M148 484h0M115.25 512.75h0M137.5 485.25h0M260.25 416.25h0M195 480.25h0M389 335h0M318.75 380h0M275 403.25h0M296.5 354.25h0M91.75 526.75h0M162.75 483.25h0M125 498h0M224 437h0M242.75 409.75h0M309.5 377.75h0M296 379.5h0M342.25 345h0M262.25 404.75h0M137.5 496h0M120.25 506.5h0M407.5 309.75h0M115.25 526h0M238 424.75h0M250.25 403.25h0M118 520.25h0M98 512.75h0M354.5 330.5h0M109 524.75h0M356.25 349h0M128.5 507.25h0M252.75 420h0M147.75 500.5h0M171.75 466.5h0M157.5 482.75h0M129.5 503.75h0M110 512.25h0M164.5 476.25h0M212.25 449.5h0M340.75 377h0M115.25 514.75h0M144 500h0M165.75 508.25h0M130.75 503.25h0M271 401.75h0M214.25 450h0M222.75 453h0M160.25 477.75h0M338.5 341.5h0M225.25 441.5h0M177.25 486.5h0M264.25 406.75h0M377 341.25h0M109.75 542.25h0M365.75 333.5h0M190.25 435.75h0M189.75 443.5h0M164.5 474.25h0M261.25 434.25h0M189.25 471.25h0M106.5 529h0M317.75 377.75h0M272.5 398.75h0M288.25 385h0M398.75 345.75h0M95.5 545.5h0M263.25 414.5h0M382.5 312.5h0M273.25 425.25h0M343.5 368.25h0M123.25 494h0M122 511h0M314 366.25h0M232.75 447.75h0M388.25 316.75h0M206.75 457.25h0M263.25 413.5h0M127.5 494.25h0M368.25 317.5h0M391.5 306.5h0M384.25 326.25h0M280.25 416.75h0M128.25 504.25h0M172 484.5h0M176.75 489.75h0M330 363.25h0M90.5 541.5h0M269.75 398.5h0M197.5 453.75h0M142.75 507.75h0M111.75 518.75h0M98.25 526.25h0M400 314.5h0M305.25 448.75h0M349.25 352h0M161.25 467.25h0M270.25 397h0M306 384.5h0M147.5 512h0M346 350.5h0M98.75 520.25h0M129 509h0M384.25 327.75h0M339.75 394.5h0M317 361.5h0M356.5 334.75h0M245 420.5h0M79.25 547h0M157.5 501h0M108.5 510.5h0M226.25 448.5h0M117.75 507.75h0M177.25 471.5h0M82 540.75h0M366 345.5h0M131.5 519.5h0M83.75 545.75h0M273.5 409.75h0M334.25 361.75h0M132 499h0M182.5 477.75h0M153 485h0M158 504.25h0M146.25 481.25h0M104.25 543.75h0M92 543h0M279 400.25h0M388.75 332h0M130.75 505.75h0M103.75 525.25h0M106.25 514h0M352.75 348h0M214.25 452.5h0M292.75 384.5h0M229 426.5h0M231.75 440.5h0M288.5 394.5h0M208 451.5h0M277.75 407h0M243.25 430.5h0M99.5 533.5h0M356 330.5h0M215.75 445.5h0M92.5 520.25h0M298.75 366.25h0M266.75 422h0M158 487.75h0M178.25 465.25h0M269.5 433.5h0M310 372.5h0M84 535.25h0M129.75 491.25h0M382.75 313h0M133.75 490h0M106.25 517h0M221.25 444h0M363 325.5h0M215 447.25h0M194.75 472.5h0M116.5 526.25h0M229 450.25h0M333.25 369.5h0M157 487.75h0M90.5 527.5h0M199.5 472.75h0M342.5 362h0M108 504.75h0M148 492.75h0M296.25 378h0M205 435h0M325.5 385h0M178 453.5h0M146.75 500.75h0M200.5 444.75h0M166.5 463.75h0M248.5 422.75h0M223.5 446.75h0M233.5 426.5h0M288.25 388.5h0M85.75 524.5h0M213.25 454.75h0M156.75 478.25h0M184.5 473.25h0M303.75 366.25h0M330.75 372.5h0M97 517h0M367.5 342.25h0M93 539h0M360 339.25h0M193.5 440h0M179.5 469h0M125.5 490h0M291.5 409.25h0M101.25 537.25h0M276.75 392.5h0M348.25 347.5h0M344.25 350.25h0M288.5 395.25h0M145 499.5h0M167 491.75h0M126.5 485.75h0M169.75 491.25h0M77.25 542h0M114.25 508h0M201.25 480.75h0M276.25 394.25h0M230.5 440.75h0M340.75 366.75h0M150.25 507.25h0M129.25 516.25h0M352.25 333.25h0M224 442.25h0M136.5 507.25h0M132 514.5h0M314 387.25h0M117 515.5h0M276 382.75h0M228.75 454.5h0M387 326.75h0M251.75 410.5h0M192.75 464.5h0M98 541.75h0M96 536.75h0M93 533h0M168 468.5h0M143.75 494h0M268 392.5h0M192 470h0M203.75 458.25h0M194.5 458.75h0M101 523.75h0M150.5 509.75h0M335 365.25h0M292.25 391.75h0M267 409.25h0M295.5 391h0M289.5 398.25h0M294 382.25h0M372.5 349.75h0M124.75 501.5h0M361 351.5h0M275 394.25h0M202 441.5h0M76 537.75h0M152.5 487.75h0M289.25 379.5h0M357.75 342.75h0M164.5 481h0M114.25 519.75h0M109.75 520.5h0M221.75 457h0M384.25 330.25h0M99.75 522.5h0M167.5 480.75h0M362 356.75h0M130 510h0M86 533.5h0M254.5 433h0M147 498.75h0M168 457.75h0M376.25 341.75h0M204 456.75h0M306.75 375.25h0M128 518.75h0M193.5 465h0M250.75 428.5h0M271.75 422.5h0M214.75 467.5h0M110.75 532.75h0M220.5 458.75h0M216.5 445.5h0M123.25 508.75h0M316.75 383.75h0M150.75 481.75h0M373.5 350.5h0M356 345.75h0M344.75 352.25h0M318.75 375.5h0M149 495.25h0M323.25 373.75h0M203.5 445.75h0M313.75 366h0M193.75 465.75h0M274.75 411.5h0M351 362.5h0M333.75 361.25h0M103.75 531.5h0M306 372.5h0M254.25 411.25h0M210 450.5h0M282 409.75h0M159.25 481.5h0M331.25 360.75h0M161 489.25h0M89.75 544h0M190.25 434.75h0M311.25 382.75h0M154.75 494.5h0M122.25 501.75h0M107.25 535.5h0M296.5 386.5h0M273.25 402.5h0M110.75 520h0M326.25 376.25h0M260.5 436.75h0M384.75 323.75h0M140.25 505.25h0M268.25 402.75h0M236.5 426.25h0M306.5 382.5h0M120.25 510.5h0M125 503.75h0M123 514h0M363.75 337h0M317.25 400.75h0M304.75 391.5h0M138.75 500.5h0M374.75 345.25h0M263.25 406.5h0M143.25 472.5h0M252.25 415.5h0M113.75 512.25h0M142.5 506h0M102 543.75h0M264.75 416.75h0M348 360.75h0M221.25 461h0M324.75 381.75h0M80 543.25h0M122.25 513h0M388 334h0M106 532.75h0M115.25 503h0M139.25 498.25h0M190.5 463.25h0M348 360.5h0M169.25 471.25h0M223 431.5h0M178.5 481h0M197.5 468.75h0M349.25 334h0M77 531.75h0M377 335.75h0M397.75 320.25h0M174 472h0M120.75 510h0M315.75 374.5h0M147.75 498.75h0M156.5 491h0M172.75 488.25h0M287.25 384.5h0M248.75 428h0M167.25 498h0M97 532h0M160.75 485.25h0M358.25 354h0M332.75 357.75h0M137.5 524.5h0M115.25 517h0M95 546.75h0M338 349.5h0M284.25 381h0M137.25 504.75h0M305.5 373.5h0M141.75 507.5h0M304.5 384.25h0M381.75 316h0M310 381.5h0M102.75 543.5h0M300 372.5h0M215 461.5h0M347.25 355.75h0M297.75 380.25h0M238 446.5h0M287 377h0M167.25 472h0M127 519.75h0M346 337.25h0M126.5 505h0M125.5 508h0M87 526.25h0M97.5 535.5h0M201.25 459.5h0M114.75 492h0M109.5 525h0M155.5 500.5h0M316.75 390.25h0M351.75 336h0M350.5 348.25h0M301.75 396.5h0M179.75 467.5h0M256.5 405h0M310.75 370h0M156.75 477.25h0M360.5 330h0M356.5 342.25h0M368.25 337.75h0M382.25 327.5h0M301.25 378h0M306 390.25h0M244.5 438h0M163.5 475.25h0M382.25 326.25h0M388 314.75h0M126.5 501.5h0M318.5 374.5h0M106 517h0M108 527.5h0M164.25 513h0M206.5 449.75h0M170.75 504.25h0M286 385.75h0M383.25 301.5h0M326.75 374.25h0M124.25 529.25h0M305.75 382.5h0M144.75 498.25h0M178.5 470.5h0M169.75 485.5h0M121.5 491.75h0M85.25 540.75h0M130.25 501.25h0M104.5 517.5h0M103 534.5h0M257 399h0M151.5 486.5h0M238.5 441h0M307.5 371.25h0M339.5 367.5h0M185.25 454.5h0M182.75 478h0M171 475h0M187.75 455h0M372 329.5h0M166 484.25h0M305.25 396.25h0M260.25 423h0M120.5 528.25h0M190 466.5h0M98.25 533h0M389 317.25h0M105.75 516h0M348.75 355.75h0M341.75 369.5h0M316.75 366h0M311.5 395.75h0M109.5 516.75h0M133.5 511.25h0M187.25 452h0M166.5 493.5h0M384.25 308.5h0M251.75 413.5h0M228.25 440.25h0M404 322.75h0M114.5 516.75h0M196.75 458.25h0M118 526h0M146.5 486.75h0M81 520h0M236.75 425.5h0M318.25 367.5h0M159.25 476.75h0M153.5 499.25h0M112.75 497.75h0M88.75 543.5h0M131.5 496h0M118.25 520.75h0M213.5 440.25h0M166.25 484.25h0M127.5 510.75h0M138.75 499.5h0M366.25 314h0M152.5 496.5h0M126 508.75h0M96.25 523.25h0M121.75 520.75h0M163.5 486h0M134 512.25h0M213.5 453.75h0M354.5 342h0M78.75 526h0M103.25 526.5h0M288 390.5h0M160 472h0M153.75 516.75h0M330 374.25h0M100.5 520.25h0M323.25 376.5h0M300 396.25h0M208.5 444.75h0M139.75 507h0M133 511h0M306.75 404.25h0M112.5 506.25h0M133.5 499.75h0M95.5 530.5h0M150.75 511h0M327.25 364h0M133.75 502.5h0M93.5 526.25h0M286.25 386.25h0M173.25 475.25h0M272 416.25h0M313.75 394.25h0M134.5 524.25h0M324.75 367h0M99 537.25h0M171 479.5h0M148.5 502h0M156.5 480h0M308.25 371.25h0M162.5 495.25h0M171.5 481h0M307 395.5h0M148.25 498.5h0M323.25 361.75h0M100.25 546.75h0M130.25 492h0M211.75 443.25h0M140 491.75h0M251.25 402.5h0M338.75 335h0M173.75 484h0M265 423h0M160.75 499.25h0M357.25 343.75h0M229.25 428.75h0M109.75 521.25h0M381.5 336.5h0M355 337.25h0M158.25 483.25h0M351.75 345.75h0M285 407h0M325.25 365.25h0M390.5 324.75h0M139.5 490.25h0M381.5 335.25h0M278.75 399.75h0M365 342.5h0M114 532h0M189.25 466.5h0M152.75 492.75h0M141 492.25h0M227.5 437h0M141.25 495h0M264 423.25h0M296.5 373.25h0M106 521h0M137.25 511.25h0M153.75 532.25h0M198.25 466.75h0M288.5 395.75h0M260 404.5h0M151.75 487.75h0M228.25 439.25h0M270.5 397.25h0M272 408.5h0M235 486.25h0M375.25 323.75h0M246.75 439.75h0M85 527.5h0M177.75 479h0M211.75 468.25h0M179.75 475.5h0M127.25 496.25h0M233.75 420h0M149.75 496.25h0M321.5 389h0M94.25 528.5h0M143.25 503h0M215 423h0M102.25 532.75h0M142.75 503h0M114.25 523h0M270 410.5h0M128.75 510.25h0M94.25 536.5h0M282.25 394.75h0M317.75 357h0M165.75 479.25h0M162.75 475.5h0M357.75 367.25h0M248 434.25h0M168.75 479.25h0M166.25 476.5h0M371.5 338h0M187.5 461.75h0M373.5 349.75h0M155.25 481.75h0M117.5 531h0M174 479.75h0M342.5 351h0M100 538.25h0M178.25 479.75h0M304 387.5h0M326.25 364.75h0M332.5 355h0M82 546.75h0M397.75 315h0M349.25 363h0M95.75 533h0M300.75 380h0M288.5 391.75h0M201.25 458h0M295.25 375.5h0M149 490.5h0M87.25 541.75h0M148 486.75h0M331 356.25h0M158.5 475h0M89 538.5h0M245.25 417.75h0M277.25 430h0M181.5 473.75h0M212 463.5h0M200.75 493.5h0M329.5 358.75h0M124.75 484h0M122.25 516h0M81.5 538.75h0M389.25 337h0M302.5 379h0M346 351.25h0M250.75 407h0M257 415.25h0M134.75 502.5h0M109 522h0M339.75 350.75h0M244.25 410.75h0M175.75 468.25h0M158.75 491.75h0M308.5 373.25h0M325 372.75h0M167.75 470h0M368 336h0M274.75 393.75h0M113.75 516.25h0M228 421.75h0M344.25 349.25h0M88.5 548.75h0M146.25 482.5h0M336.75 368h0M307 376.5h0M216.25 430.75h0M362 330.75h0M222 444h0M115.25 509.5h0M340.75 349.5h0M352 350.5h0M190.25 459h0M124.5 497.75h0M167.25 483.25h0M190.5 461.25h0M256.25 401.5h0M143 496.25h0M375.25 325.25h0M306.5 391.75h0M172.5 468.75h0M76.5 543.25h0M318.5 370.25h0M315.25 396.5h0M170.5 484.5h0M190.25 470.25h0M382.25 329.25h0M287.5 397h0M161.25 485h0M99.75 535h0M257.25 419h0M327.5 366.25h0M265.75 393.5h0M304.75 372.75h0M161 471h0M142.5 492h0M233.25 436.75h0M138 492.5h0M96.25 529.5h0M359.25 344.75h0M342.75 360h0M283.5 388h0M378.25 335h0M235.75 454.25h0M256 422.5h0M314 381.75h0M415 306h0M119 510.5h0M283.25 387h0M261 435.75h0M349.25 341.25h0M96.25 515.5h0M215.25 450h0M198 458.5h0M322.25 376h0M168.25 449h0M319.5 379h0M229.25 445h0M177 491.5h0M98.75 523.25h0M355.5 349.75h0M281.25 375h0M182.75 469.75h0M352 347h0M371 328.25h0M222 454.25h0M323.5 375.25h0M160.5 482h0M268 411.75h0M349.25 362.5h0M123.5 505.5h0M190.25 469h0M211.75 435h0M81.75 535.25h0M255.25 415.5h0M172.75 486.75h0M397.75 309.5h0M282.5 386.75h0M105.75 514.5h0M108.25 525.5h0M349.75 362h0M144.25 484.5h0M185.75 475.25h0M295.5 368.75h0M346.5 356h0M328.75 366.5h0M147 494.75h0M305 374h0M233.25 425.25h0M262.25 407h0M125.5 499.25h0M351.25 344.5h0M203.75 444.5h0M139.5 493.75h0M291 386.25h0M154 507.75h0M139 490.5h0M320 382.75h0M333.25 369h0M377.25 338.75h0M397.75 320h0M144.5 488h0M226.5 442.25h0M123 526.5h0M90 540.75h0M360.75 349h0M259 409h0M316 396.25h0M308.25 377.25h0M118.75 511.5h0M90 518.75h0M273.5 407.25h0M95.75 547h0M305 388.25h0M334 350h0M284 396.5h0M213.25 440.5h0M115.5 520.25h0M244.75 434.5h0M265.75 418.75h0M336.75 358.25h0M238 430.5h0M242.5 429.75h0M92.5 529.75h0M212.25 435.25h0M367.5 344.25h0M240 461.25h0M101 543h0M214.25 473.75h0M278.75 396h0M336.25 357.5h0M335 384h0M329.25 364.5h0M176.25 479.5h0M147.25 497.75h0M353.75 345.5h0M197.75 464h0M105.25 527.75h0M93.25 541.75h0M135.25 496.25h0M156.25 510.25h0M253 436.25h0M249 412h0M342.5 359h0M194.5 457.25h0M343.25 364.75h0M196.75 456.25h0M191.75 477.25h0M335.5 370.25h0M189 460.25h0M206.25 462.25h0M176.25 474.25h0M188.25 467h0M158.75 493.25h0M332.5 365.5h0M105 513.25h0M236 447h0M126.75 523.5h0M80 543.5h0M125.5 511.75h0M164.5 487.25h0M223.75 434.25h0M199 455.5h0M342.75 339.5h0M212.75 436.25h0M159 492.5h0M306.25 443.25h0M103.75 518.25h0M155.25 489.5h0M112.75 517h0M146.25 501.75h0M223.25 442.25h0M171.25 477.25h0M159.75 490.25h0M313.75 373.25h0M342.75 354.75h0M353 360h0M355.25 356h0M124 499h0M210.75 441.25h0M129.75 517.5h0M371.75 335.75h0M184 473.25h0M136.25 512h0M227.25 460.25h0M340.75 404.5h0M377.25 332.5h0M320.5 372.75h0M313.5 382.75h0M284.75 427.5h0M134.5 501h0M322.5 379.75h0M317.5 379.5h0M124.25 515.75h0M164.25 487.5h0M238.75 429h0M116 516.25h0M351.5 370.5h0M213.25 455h0M140.25 482.75h0M140 516.5h0M157.75 491.75h0M208.25 459.25h0M359.5 335h0M206.75 460h0M134.25 499h0M331.75 383h0M366 328h0M92.5 511.75h0M269 401h0M380.75 319.25h0M152.75 501.5h0M154.5 503.75h0M314.25 389.5h0M344 364.75h0M320.5 377.25h0M105 524h0M343.75 355h0M212 437h0M151 502.5h0M104.75 507.5h0M355.75 351.25h0M123 518.5h0M167 477h0M139 497.75h0M230.75 440.5h0M283.25 382.5h0M236.25 433h0M189.25 443h0M175.25 482.25h0M227.75 448h0M287.75 396.5h0M119.75 516.75h0M108.5 528.25h0M273 384h0M422.25 345.75h0M208 449h0M281.5 387.75h0M379.5 329.75h0M274 416.75h0M306.5 381.75h0M225.75 435.75h0M133.5 499h0M136.5 500h0M301.5 395.25h0M186.25 480h0M176.75 484.75h0M237.5 425.25h0M332.25 359h0M119 503.75h0M304.5 374.75h0M124.75 524h0M143.5 485.25h0M303.75 381h0M172.75 494.75h0M139.25 510.5h0M278.75 403h0M97.5 518h0M172.25 470.75h0M373 324.5h0M213.75 457.5h0M124.25 523.5h0M253 417.75h0M292.5 390.25h0M93 540h0M182 459.5h0M203.5 459.25h0M363.25 317.75h0M266.25 399.25h0M308 399.25h0M87 524h0M339 370.25h0M384.5 339.75h0M366.5 351.5h0M238.75 440.25h0M146 506.25h0M274.5 394.5h0M190.5 483.75h0M301.5 381.5h0M155.75 480.25h0M254.5 415.75h0M124.5 517h0M338 351.5h0M131.25 510h0M331.75 371.25h0M300 378.5h0M119.75 501.5h0M140.25 501.25h0M355.25 341.75h0M216.5 449.25h0M128.5 498.25h0M182.5 463h0M367.75 321.5h0M301.25 373h0M198.5 460h0M292.25 383.25h0M358 366.5h0M194.75 464h0M260.5 402.75h0M191 468.75h0M87.75 526.75h0M368.5 334.75h0M401 315.25h0M336.75 341.5h0M192.5 455.75h0M235.25 445.75h0M403 317.25h0M162.75 481h0M232 430h0M355.5 320h0M202.75 439.75h0M145.25 490.25h0M292.25 410.75h0M111.25 526.75h0M156.75 475.5h0M104 535.5h0M80.5 545.5h0M116 530.5h0M148.5 490h0M181.5 466.25h0M358.5 356.25h0M266.25 416.5h0M362.5 332.25h0M189.25 479.5h0M76 543.75h0M192.5 479h0M349.25 356.5h0M365 339.5h0M90.25 531.25h0M388.5 325.5h0M120.5 499.75h0M336.75 356.5h0M148.75 491h0M261.5 414.75h0M268 416.5h0M138.75 491.5h0M142 514.75h0M345.5 344h0M388.25 334.75h0M307.75 389.5h0M239.75 423.5h0M77.75 539h0M206 441h0M215.5 394.5h0M280.5 387.5h0M202.25 448.5h0M84.5 532.5h0M272.5 440.75h0M76 523h0M115.5 523.5h0M298.75 393.5h0M250.25 425.5h0M125.5 518.75h0M90.5 533.5h0M148.5 509h0M102 540.25h0M150.5 490h0M181.25 491.5h0M178.75 471h0M332.5 342.25h0M273.25 398.5h0M272.75 405.5h0M317 397.5h0M225.5 447h0M203.25 461h0M248.25 450.25h0M132.5 498.5h0M244.75 447.5h0M327.75 370.25h0M107 523.25h0M113.75 523.25h0M95.25 533h0M355.5 361.25h0M92.75 535.75h0M114.5 506.5h0M119 513.25h0M147 497h0M137.25 504.25h0M86.75 535.75h0M231 442.75h0M182.75 476.75h0M254.75 433.25h0M359.5 333.75h0M216.25 455.25h0M108.75 516.75h0M195.5 504.5h0M218 466.75h0M113 533.75h0M269 405.5h0M144.25 512.75h0M270.75 403.5h0M117.25 496.5h0M362.25 348h0M205.5 447h0M100.5 543.75h0M301.5 385.75h0M300 367.5h0M390 312.5h0M151.25 474.5h0M405.75 321.25h0M148.75 488h0M365.75 317.25h0M108 497.25h0M415.5 303.75h0M201 469.25h0M389 342h0M192 466.25h0M366 329.5h0M150.75 497.25h0M154.75 493.75h0M320.25 384h0M401.75 342.25h0M278.75 410.5h0M82 529.25h0M169.5 492.75h0M371.5 328.25h0M371.75 334h0M184.25 494.5h0M205.75 455.75h0M268.75 409.75h0M386.5 313.75h0M143.5 507.75h0M348.25 346.75h0M175.5 482.25h0M226.75 435.25h0M211.25 436.75h0M216.25 461.5h0M88.25 537.25h0M111.25 506.5h0M187.25 444.75h0M118.5 517.5h0M304.5 405h0M393.5 315.5h0M223 430.5h0M216.5 455.75h0M164 468h0M333.5 356.75h0M331.5 373.25h0M365.5 336h0M193 471h0M322.5 350.75h0M212.75 459.25h0M275.25 390h0M183.75 462.5h0M343 358.5h0M128 517.75h0M210.25 444.25h0M238 438.5h0M271.75 426.75h0M378.5 325h0M159.75 511.25h0M146.25 488.25h0M188 481h0M293 395.75h0M199 455h0M88.75 521.75h0M308 362h0M299.25 372.75h0M208 439.5h0M187.75 461h0M341 359.25h0M167.75 474.5h0M256.25 427.25h0M373.75 332.5h0M160.75 503.5h0M364 353h0M363.25 340.25h0M354.5 343.25h0M278.75 400.5h0M88 539.25h0M223.25 450.5h0M328.25 377.5h0M358.5 335.25h0M251.25 398h0M384 318h0M137.75 493h0M298.5 385.25h0M368.5 324h0M211.5 456.5h0M234.5 439.25h0M159.5 478.25h0M130.5 511.75h0M219 420h0M127.5 515.25h0M87.25 536h0M205.25 440h0M284.25 390.5h0M90.5 534.5h0M375.5 315.5h0M128.75 496.25h0M123.25 498.75h0M253 431.5h0M151.25 474h0M110.5 539.5h0M186.5 474.5h0M304.25 367.75h0M303.25 384.5h0M248.25 424.75h0M156 489h0M369 309.75h0M242.75 421h0M123.25 525.25h0M282 403.5h0M213.75 429.75h0M361.25 332h0M325.5 376.25h0M273.25 393.25h0M385.25 331.75h0M173.75 481.5h0M327.5 357h0M344.75 347h0M257 429h0M277.25 391.75h0M367.25 357.75h0M224.25 441.25h0M267.5 406.5h0M287 387h0M158 495.5h0M366.75 350.75h0M263.5 413.5h0M278.25 399h0M379 313.75h0M357.25 353.75h0M194 472h0M293.75 395.5h0M111.25 530.25h0M322 371.5h0M85.25 547.75h0M183.25 470h0M221.75 425.75h0M117 504.75h0M289 392.5h0M242.75 431.75h0M163.75 488.25h0M208.75 437.5h0M312.25 367h0M90.5 544.75h0M224.25 447.5h0M261.25 410.5h0M161.25 532.75h0M379.25 331.5h0M154.25 482.75h0M100.5 538.75h0M330.75 375.5h0M180.25 446h0M393 317.75h0M389.5 324h0M359.5 354.75h0M283.5 392h0M217.25 457.5h0M360.75 332.5h0M136.75 479.25h0M164.75 491h0M112 523.25h0M153.5 505h0M282.5 379.5h0M271.25 410h0M230 425.5h0M253.25 414.25h0M103 510.75h0M142.25 490.75h0M123.25 529h0M153.5 473.5h0M289.5 392.25h0M229.75 432.25h0M360.5 350.25h0M271.25 423.25h0M245.75 403.25h0M344.5 338.75h0M372.75 349.25h0M81.25 540.75h0M244.75 449.5h0M162 480.25h0M318 366.75h0M247.5 431h0M164.25 469.75h0M334.75 365h0M200.25 464.75h0M265.5 421.75h0M173.5 464.25h0M125.5 515.25h0M289 397.25h0M144.25 493.75h0M320.75 367.5h0M167.5 478h0M185.25 470.25h0M313.75 381.75h0M358.75 351.75h0M224.5 452.25h0M158.75 513.75h0M209.5 451.25h0M234.5 430.75h0M124.25 532.5h0M369.5 333h0M224 446.75h0M374.75 324h0M363.75 350.75h0M277.5 397.75h0M332.75 380.75h0M247.25 423h0M188 455.25h0M218.25 439.25h0M341.5 428.75h0M397 300.5h0M241.5 408.25h0M241 433h0M323.75 362.25h0M405 323.25h0M161 489.5h0M311.75 397h0M191.5 473.25h0M306.75 385.75h0M151 493.5h0M119 524.25h0M156.25 478h0M200.25 438.75h0M230.25 456h0M382.5 331.75h0M319.5 384.5h0M294.75 390.75h0M196.75 454.5h0M391 334.5h0M286.25 370.75h0M347.25 377.25h0M268 394.75h0M236.75 432h0M296.75 412h0M217 442.25h0M352.5 328.5h0M315.5 381.75h0M298 390h0M169.75 487.5h0M314 386h0M286.25 399.25h0M275.5 406.5h0M342.75 363.25h0M325 359h0M122.75 532.75h0M251.25 417.25h0M192.5 458.25h0M168.25 483h0M258.5 414.25h0M106 535.5h0M174.25 477.5h0M151.25 479.75h0M267 394h0M115.5 545.5h0M362.25 333.25h0M258.25 380.25h0M179.75 480.5h0M361.25 334.75h0M362.5 328h0M372 335.25h0M100.5 515.25h0M188.75 453.5h0M212.5 447.25h0M376.75 322.75h0M166.5 470.75h0M290 406.25h0M358.25 374.75h0M310.25 378.25h0M349.25 365.25h0M249.5 423.75h0M311.25 357.5h0M282.5 406.25h0M198 468.5h0M368.5 340.5h0M226.25 427.5h0M228.5 430.25h0M144 489.5h0M358 348.75h0M235 418.75h0M146.5 509.25h0M332.25 367.5h0M376.5 328.25h0M98.75 538.75h0M324.75 358.5h0M274 407h0M214 441.75h0M288.25 421h0M124 518.75h0M123.25 507.5h0M111.25 526.5h0M194.25 466.25h0M120.25 513.75h0M298 400.5h0M272.25 400.25h0M137.25 509.5h0M389.25 317.75h0M314.25 378.5h0M372.75 325.5h0M351.75 341.25h0M244.75 426h0M104.25 540h0M118.25 501.25h0M208.75 475.75h0M243.75 425.25h0M116.75 536.25h0M363 339.5h0M118 522h0M96.75 529.75h0M78.5 538.75h0M206 449h0M139.5 509.75h0M280.25 413.5h0M377 322.25h0M226.75 415h0M309 370h0M256.5 423.25h0M179.5 460.25h0M255.25 430.5h0M361.5 345.5h0M319.75 381.75h0M258.75 408.5h0M178.75 484.25h0M381.75 316.25h0M143.25 497.5h0M143.75 486.25h0M318.75 413.75h0M92.75 515.5h0M353.5 359.5h0M133 500.75h0M107 521.75h0M219 457h0M330.25 363.5h0M380.75 340.25h0M233 439.5h0M258.25 413h0M253.5 435.25h0M344 344.5h0M285 392.25h0M104.75 522.5h0M399.75 341.25h0M124.75 513.75h0M351.25 349.75h0M263.75 428.75h0M97.75 530.25h0M240 453.75h0M139.25 485h0M317.75 360h0M353.5 352h0M269.25 417.25h0M191.25 460.75h0M80.75 531.5h0M162.75 494.25h0M109 518h0M205.25 454.5h0M205 439h0M318.75 327.75h0M291.75 389h0M183.5 466.25h0M323.25 367.25h0M227.5 433h0M103.75 523.5h0M189.25 476h0M111.75 513.25h0M163.25 488.75h0M195 473.25h0M285.25 389h0M294.75 396.75h0M161.5 492h0M236 428h0M152.25 505.75h0M134.25 487.25h0M129.25 515h0M260.25 398h0M94.25 544.25h0M187.25 488.75h0M329.25 349h0M229.5 436.75h0M136.75 491.5h0M191 478.75h0M376.5 342.25h0M216.5 431h0M252.5 435.75h0M302.75 397.5h0M260.5 418.5h0M386.25 322.75h0M99 547.25h0M330.75 367.75h0M302.5 400.25h0M144 503.5h0M187.5 481.5h0M219 440h0M264.25 395h0M151.25 510.5h0M88 533.5h0M313 379.75h0M107.75 517.5h0M205.25 437.75h0M248.25 419.5h0M382.25 342.5h0M116.25 526.75h0M178.25 483.75h0M363.75 329h0M308.25 375h0M194.25 476.25h0M131.75 498.75h0M331.75 354h0M209.5 469h0M320 370h0M335.5 368.75h0M95.5 514.5h0M343 342.5h0M283.5 394h0M305 366.5h0M234.5 426h0M126.25 523.5h0M268.25 395.75h0M368 339.25h0M393.25 329h0M158.5 503h0M308.25 382h0M223 450h0M165 468h0M345.5 345.5h0M209.5 454.5h0M401.5 312.25h0M223 429h0M176.75 467.5h0M114.25 526.25h0M271.25 408.75h0M108.75 531.75h0M229.5 438.5h0M299.25 386.75h0M144.75 497h0M118.75 533.25h0M203.25 450h0M299.75 390h0M154.5 487.25h0M191.5 455.5h0M227.25 417.25h0M389.75 336h0M228 443.5h0M305.5 389.5h0M329.25 361h0M249 427.5h0M221.75 438.5h0M346.5 331.25h0M115 527h0M237.25 420.5h0M351.75 352h0M217.25 450.75h0M234.25 410h0M283.5 402.5h0M177.25 487.25h0M120.25 521.25h0M130.25 517.25h0M153 482.5h0M388.5 320.5h0M179.75 475.75h0M288 380.25h0M313.75 374h0M329 370.25h0M296 404.5h0M282.5 397.25h0M223.5 430.75h0M388 306.5h0M137.25 512.75h0M176.5 478.25h0M170.75 462h0M114.75 529.75h0M393 322h0M350.25 360.75h0M76 528.75h0M328.5 377.75h0M156.25 509.75h0M192.5 470h0M185 463h0M186.75 455.75h0M382.5 323.25h0M191.75 446.75h0M289.5 413h0M212.5 448.5h0M229.75 434.75h0M353.75 340.5h0M305.5 397.25h0M361 348.5h0M262.25 404.25h0M348 349h0M299.75 396h0M251 403h0M100.75 521.5h0M173.75 471h0M385.75 335.75h0M201 455h0M234 418.5h0M366.5 337h0M189.75 488.75h0M245.75 433.75h0M360.25 338.75h0M104 536.5h0M215.75 438h0M279.75 391.75h0M380 318.5h0M344 329.25h0M349 337.5h0M168.25 460.5h0M313 385.5h0M392.5 315h0M338.5 370h0M258.25 420h0M155.5 484.5h0M137 487h0M165.75 474h0M161.25 474.25h0M178 454.5h0M336 358h0M84.5 545h0M210.5 435.5h0M130.25 520.75h0M99 515.5h0M380.75 319.5h0M97.5 528.75h0M197.25 459.75h0M351.75 362.25h0M84 526h0M211.25 431.75h0M216 445.25h0M129.5 489.25h0M411 320.75h0M169 468.5h0M352.75 336.25h0M83.25 520.75h0M296 383h0M222.75 420.75h0M90 523.75h0M322.75 366.75h0M241.5 414h0M299 379h0M303.5 389h0M358.25 327.75h0M138 494.75h0M327 355.5h0M141.25 489.25h0M379.75 337.5h0M145.25 514.25h0M134 516.75h0M265.5 409.5h0M95 517.25h0M161.75 494h0M234.75 425.5h0M281.75 394h0M210 461h0M203.25 456h0M372.75 348.25h0M218.5 444.25h0M323 372h0M202 449.5h0M316.75 369.25h0M328.75 359h0M159.25 500.75h0M188.25 463h0M193.75 448h0M186.25 473.75h0M184.25 475.25h0M201 449h0M262.75 420.5h0M209.5 445.25h0M315.5 385.5h0M353.75 360.75h0M389.25 305.25h0M147.25 503.5h0M377.75 329.25h0M336.5 360.25h0M78.25 530.75h0M271.75 441h0M204.25 454.75h0M207.75 476h0M291 389.25h0M176 464.25h0M340.25 359h0M122 497h0M189.5 469.75h0M254.75 422.75h0M245.75 421.5h0M118.75 478.5h0M202.25 507h0M158.75 467h0M259.5 430.75h0M94.75 536.75h0M313.25 376.5h0M363.25 343.75h0M372.75 331.25h0M221.75 430.25h0M360.25 329.5h0M232 442.25h0M168.25 494.5h0M201.25 443.5h0M262.5 427.75h0M179.5 490.75h0M230.5 434h0M138.75 503.75h0M322.5 384h0M171.75 494.25h0M324.75 377.25h0M97.75 522.25h0M155.75 464.75h0M140 515h0M312.25 388.75h0M205.25 453h0M142.25 496.75h0M351 359.25h0M86.5 544.5h0M189 452h0M182.5 457.5h0M194.75 462.5h0M251.75 416.25h0M111 536h0M139 502.75h0M222.75 442.75h0M188.25 468h0M106.75 510h0M378.5 322.75h0M388.75 337.5h0M230 427.25h0M285.25 435.75h0M184 478h0M336 353.5h0M211.25 446h0M384 321.75h0M104 513.75h0M225.75 438.75h0M264.75 414.25h0M351 344.75h0M271 393.5h0M344.75 361.5h0M128.25 533.75h0M359 333h0M298 392h0M318.25 379.75h0M205 466h0M170 475.25h0M282.75 413.5h0M290.75 372.75h0M111.75 534.75h0M313 392h0M166.5 471.75h0M100.25 518.75h0M190.75 455.5h0M108.5 537h0M161.5 462.5h0M338.5 353.75h0M79.5 544h0M208.5 456h0M264.25 401.75h0M222 420h0M84.75 542.25h0M248 439.25h0M295.75 380.25h0M240.75 420.75h0M108.5 513.25h0M369.5 340.75h0M373 326.25h0M275.5 410h0M355.25 377.5h0M410.75 332.75h0M259.25 409.5h0M168.75 469.75h0M384.5 345h0M148.5 506.5h0M236 421.5h0M339.25 345.25h0M126.5 525.75h0M374.75 317.5h0M100.25 544.25h0M300.25 393.75h0M291.75 415h0M198.25 444.5h0M224.75 439.5h0M84 523.5h0M280.25 404.5h0M395.25 314.5h0M326 360.75h0M96.75 522h0M120.75 523.75h0M290.25 419.5h0M365.25 332h0M335 362.25h0M177.5 477.5h0M299.25 381.75h0M372.5 343.5h0M356.75 336.25h0M297.25 398h0M310.5 386h0M95.75 524.5h0M353.75 334.25h0M272.5 396h0M329.25 381.25h0M257 421h0M347.25 361h0M212.5 439.75h0M115.5 532.25h0M250 421.25h0M241.5 421h0M379.25 317.25h0M364 311.75h0M406.25 320.5h0M231.5 433.5h0M149.5 502h0M270 428.75h0M306.75 377.75h0M369.25 353h0M109.75 504h0M141.75 511.75h0M161 500.75h0M225.75 457.25h0M251.25 429.5h0M194.5 461.75h0M291.25 398h0M282 390.5h0M226.25 442.5h0M160.25 470.75h0M368.75 346.25h0M284 399.75h0M146 475.5h0M370.75 344.5h0M124.75 527.5h0M378.5 333.5h0M176.75 454.75h0M188.5 455.25h0M157.25 469h0M318.5 363.5h0M122.5 541.25h0M313.25 368.75h0M140.75 518.75h0M102 522.25h0M193 468.25h0M222.75 454.25h0M299.75 386.5h0M171.25 490.25h0M302.5 372.5h0M315.25 391.5h0M193 483.75h0M134.25 531.5h0M221 424.25h0M132.25 522.25h0M386.5 311h0M292.25 411h0M98 526.5h0M135.25 474.25h0M399 312.75h0M360 336.5h0M337.25 363.5h0M206 463.75h0M155 507.5h0M300.75 393.5h0M136 491.25h0M227.25 425.75h0M240.75 407.25h0M123.5 491.5h0M324.5 368.25h0M193.5 475.25h0M367.25 365h0M369.75 331.75h0M188.5 478.5h0M312.5 358.5h0M156.5 476.25h0M78.25 533.5h0M272.75 397.5h0M318 363.25h0M327.75 373.25h0M291.75 398.75h0M207.75 477.5h0M377.5 330.75h0M392.75 328h0M200.75 461.5h0M105.75 524.5h0M120.5 524h0M394.25 328h0M369.5 381.5h0M362.75 340h0M218.5 437.75h0M78 548h0M301 398.5h0M329.75 375.75h0M118.25 517.5h0M274.75 404.75h0M336.5 365h0M128 488.5h0M310.75 375h0M221.75 435.75h0M382.75 302.5h0M277.75 418h0M234.75 435h0M104.75 509h0M340.25 355.5h0M164.25 466.25h0M323.5 352.75h0M370.75 326.75h0M391.5 332.5h0M388 322.75h0M342 383h0M347.25 369.25h0M335 381.5h0M208.5 470h0M320.5 358h0M85 532.5h0M336 352h0M193.5 459.5h0M219 433.75h0M120.25 525h0M203.5 454.5h0M376 318.25h0M91 546.5h0M139 513h0M262.25 393.25h0M224 441h0M302.5 375.25h0M284.75 397h0M274.5 412.75h0M238.5 442.25h0M395 319.5h0M202.75 454.75h0M260 423.25h0M364.5 333.5h0M177.5 491.5h0M350 330.75h0M110.5 517.25h0M240.25 430.75h0M121 496.5h0M294.25 410.25h0M320.25 363.75h0M216.75 446.5h0M132.5 521.25h0M256.25 413.25h0M337.25 380h0M168.5 466.75h0M225 426.25h0M100.25 542.25h0M264.5 423.75h0M131 523h0M317 389h0M238.5 424.25h0M336.75 351.25h0M276.25 403h0M375.5 337.25h0M109.25 500.25h0M341.75 346.25h0M95.75 527.25h0M127 526h0M204.25 462.5h0M370.5 343.75h0M346.25 364h0M183.5 455h0M390 319.25h0M373.5 338.5h0M394.5 324h0M157.5 466.5h0M262 419.75h0M362.5 336.5h0M297.25 374h0M199.75 462.5h0M379 317.75h0M270 406h0M189.5 456.25h0M345.25 341.5h0M340 363h0M108.75 493h0M125.5 520.75h0M315 343.5h0M208 463.5h0M381.25 335h0M225.75 443h0M134.25 485.25h0M289.25 430.25h0M180 456h0M391.75 321.5h0M157 499.5h0M155 498.75h0M336 371h0M145.5 481.75h0M247.25 401.5h0M143.75 482.75h0M392 310.75h0M178.75 472h0M112.25 526.5h0M349 353.25h0M169.5 462.25h0M316.25 393.25h0M289 394.5h0M272.75 428h0M87.25 536.75h0M299.5 370.25h0M103 537.75h0M293.75 375.25h0M244.25 427.25h0M139.75 488.25h0M177.75 477.5h0M89.25 531h0M196.25 464.75h0M139.25 521h0M242 418h0M81.25 522.5h0M197.5 452.25h0M292.75 401.5h0M191.25 462.5h0M295.5 375.5h0M205 470.75h0M275.5 422.25h0M302.75 394.75h0M113 534h0M209.75 457.25h0M309.5 366.5h0M381.25 322.25h0M136 496h0M396.75 325h0M338.5 341.25h0M290.25 378h0M321.5 370.5h0M356.75 340.25h0M135.75 515.5h0M262 424.5h0M412 296h0M293.25 406.75h0M343.5 355.25h0M375.75 335.25h0M156.5 494.5h0M203.75 465.75h0M317.25 360.5h0M168 463.75h0M78.25 544.5h0M103.75 522.75h0M343.5 338.5h0M241.5 418.5h0M118.75 534h0M392.5 319h0M148.5 504.75h0M208 440.5h0M303.25 386.5h0M203 463.25h0M148.75 499.75h0M127.25 533.5h0M87.25 527.25h0M203 454.5h0M363 341h0M239.5 429.5h0M91.75 544.5h0M158.75 495.25h0M90.75 524h0M264.75 417.25h0M349.75 354h0M311.75 365.5h0M96.5 497.25h0M357 354.25h0M211.75 447.75h0M78.75 538h0M279 412.5h0M369 350.5h0M387.5 348.75h0M367.5 348.5h0M215 423.75h0M119.5 530.5h0M187.5 472.25h0M328.5 347.25h0M216 457.5h0M323.5 368.75h0M120.5 540.5h0M210.25 446.75h0M282 413h0M163.25 496.5h0M194.75 467h0M134.5 514h0M151 498.25h0M226 444h0M323 360.25h0M318.75 380.75h0M196.25 470.75h0M333 350.5h0M301.75 391.25h0M142 482.5h0M187 469.5h0M400.25 321.5h0M97.5 510h0M120.25 499.5h0M289.75 393.25h0M176.75 477.5h0M276 408.75h0M235 434.5h0M271 411.25h0M267.75 402.25h0M217.25 435.75h0M136.25 502h0M142.75 485h0M200.25 446.25h0M345.75 357.75h0M237.75 453.75h0M373.75 338.75h0M288.75 402h0M263.75 418.25h0M319.75 398.75h0M195.75 445.75h0M109 543.75h0M185.75 479.25h0M243.5 442.75h0M231 425.75h0M174.75 492h0M311.5 360.5h0M337 361.25h0M194.25 484.75h0M218.5 457.75h0M119.75 529.25h0M105 485.75h0M341.25 346.75h0M362.75 361h0M233.5 438h0M382 342h0M291.75 384.5h0M284.25 423h0M341.25 369.5h0M231 415.5h0M191.75 474h0M324 391h0M261 395h0M85 537.5h0M311.75 372.5h0M218 455h0M293 393.5h0M210.25 459.25h0M293.5 407.5h0M146.5 480.75h0M191 454.25h0M183.5 459h0M326.75 355h0M138.25 484.25h0M274.5 399h0M254.25 418.75h0M349.75 332h0M327.75 368.75h0M286.25 401.75h0M170 492.75h0M295 385.5h0M321 355.25h0M378.75 322.25h0M375.75 303h0M283 400.75h0M306 387h0M357 331.75h0M341.25 351.5h0M242 426.5h0M372.5 350.75h0M206.25 467h0M244.5 436h0M231.5 436h0M166 497.75h0M183 478.75h0M212.75 426.75h0M77.5 530h0M83.5 532h0M372 386.25h0M401.5 310.75h0M315 357.75h0M343.5 347h0M118.5 479.75h0M338.75 346.5h0M181.75 477.5h0M321.5 387.5h0M326 350.75h0M370.5 331.5h0M284.75 394.75h0M105 542.25h0M385.75 316.25h0M208 456.25h0M306.75 391.75h0M341.5 344.5h0M151.75 516.25h0M155 471.75h0M238.5 433h0M225.5 448.75h0M91.25 523.25h0M116.25 517h0M371.5 340.75h0M375.25 322.75h0M192.25 498.75h0M231.25 425.5h0M187.75 477.25h0M344.25 360h0M331.5 360.75h0M348 367.25h0M206.5 432h0M85.25 528.75h0M166.25 459h0M188.25 509.75h0M207.75 435.5h0M293.75 405.75h0M111.5 494.25h0M419.75 299.75h0M125 513.5h0M314.75 398.75h0M361.75 352.5h0M137.75 518.75h0M189.25 482h0M271.25 412h0M193.25 454h0M114.25 488.5h0M357 359h0M302.25 376.75h0M385.25 313.5h0M164.75 471h0M121.75 529.25h0M113.25 543h0M350.75 363.25h0M101.5 516.5h0M368.75 322.75h0M82 534.75h0M334.75 355.5h0M373.5 344.25h0M171 461.75h0M408.5 304.75h0M110.5 515h0M356.25 352.25h0M346 374.5h0M384 329.25h0M215.5 441.5h0M198 446.75h0M112.75 493.75h0M266 424.5h0M124 496.25h0M390 311.75h0M232.5 426.5h0M334.5 348.25h0M177.5 461h0M268.25 407h0M297.75 394h0M293 425.25h0M335.75 359.25h0M108.25 507.5h0M310.75 382.5h0M84.25 535.75h0M316.25 386.5h0M328.75 351h0M109.25 500.75h0M255.75 423.75h0M381 333.75h0M80.75 536h0M201.75 449.5h0M96.75 543.25h0M338.25 388.5h0M124.75 543.5h0M262.25 416.5h0M402 327h0M383.25 339h0M132.25 494.5h0M174.5 470h0M76.5 544h0M188.5 514.5h0M246.5 425.5h0M93.5 548.75h0M348 336.75h0M230.25 447.25h0M283 412.5h0M371.25 329h0M209.75 447.5h0M164.5 492.75h0M264.25 410.5h0M316 377.75h0M145.5 508.25h0M276.5 416.25h0M130 525.25h0M224 455h0M93.25 538h0M264.25 406.25h0M268 398h0M358.75 337h0M230.75 440h0M314 358h0M304.25 402.25h0M210.25 439h0M126.25 481h0M143.75 518.5h0M378 340.75h0M322.5 366.25h0M286.75 416.5h0M329.25 355.75h0M257.75 425.5h0M356 336.75h0M388.5 308.75h0M240.75 444.75h0M417.75 392h0M287.75 409.5h0M215 442h0M92.5 519.25h0M286.5 408.25h0M271.75 387.75h0M324 382.75h0M288.75 396.5h0M88.75 545h0M280.75 403h0M240.5 422.25h0M265.25 430h0M293 381.25h0M346.5 339.5h0M222.25 433.25h0M157.75 528h0M323.5 379.5h0M162 504h0M77.5 541.5h0M239.5 422.5h0M268 414.75h0M222.75 441.5h0M121.75 545h0M296 376.75h0M217.75 445h0M219.5 454.25h0M310.5 360h0M339.75 335.75h0M310 362.5h0M86.5 533.25h0M256 427.75h0M364.25 353.5h0M112.5 505.5h0M112.75 528.5h0M204.75 445.5h0M363.5 327h0M297.5 403.25h0M382 386.25h0M258.5 415.25h0M246 421.75h0M298.75 372.5h0M234.75 442.75h0M151.25 466.5h0M241.25 415.25h0M153.5 481.75h0M244.25 420.75h0M331.25 376.5h0M165.5 512.25h0M252.75 403.5h0M89 529h0M240.25 444.5h0M252.75 446.5h0M284.25 407.25h0M255.5 394h0M360 381h0M166 468.5h0M161.5 469.5h0M247.75 430.25h0M385.5 316.75h0M359.25 325.5h0M145.25 515.25h0M145.5 479.75h0M345 367.75h0M246.25 428h0M245.25 431.5h0M285.75 426.75h0M188.5 459.25h0M136 494.5h0M319.25 361.25h0M282.5 413.75h0M282 426.75h0M317.25 373.25h0M356.75 363.75h0M241 422.25h0M184.75 480h0M213.25 432.75h0M138 484.25h0M174.25 464h0M368.25 326.25h0M271.25 393.5h0M131.75 535.75h0M203.25 480.25h0M135 493.75h0M388 305.5h0M245.25 410.75h0M100.75 521h0M77.25 539.5h0M288 392.25h0M255.25 409.25h0M128.5 514.5h0M153.75 530.5h0M344.5 323.25h0M127.5 513.5h0M286.75 393h0M138.75 481h0M175.5 466.5h0M271.5 414.75h0M333.5 354.75h0M131.5 491h0M186.5 482.25h0M119 500.5h0M175 463.5h0M212 469.75h0M282.75 410.75h0M366.25 323.25h0M293.5 388.25h0M337.75 370.25h0M151.25 498.5h0M281.75 380h0M245.25 417h0M142 479.75h0M226 445.5h0M326.25 420.5h0M395.75 324.75h0M134.25 545.5h0M218.75 446h0M391.5 325.5h0M361.75 340.25h0M267 410.75h0M241.25 424.5h0M310 395.5h0M175.75 495h0M217 453h0M73.75 515.5h0M88 529.25h0M368.5 357.5h0M302 374h0M368 317h0M406.25 314.25h0M238 436.25h0M184 501.5h0M364.25 360h0M86.25 514.25h0M303 371.5h0M162 466h0M263.5 409.75h0M257 412.5h0M130 530.5h0M338.75 345.5h0M142 508.75h0M102 514.75h0M239.75 417.75h0M192.75 483h0M195.25 477.25h0M316.75 363.25h0M139.75 488h0M100.75 511.75h0M222.75 426.5h0M94.25 539.5h0M151 477.5h0M351 370h0M104.5 522h0M251.5 422h0M206.25 441.75h0M282.5 409.75h0M399.25 310.75h0M147 476.75h0M159 500.25h0M356 339.25h0M267.75 402.75h0M239 435.25h0M196.5 479.75h0M118.5 542.5h0M267 405.75h0M314.25 365.75h0M87.5 519h0M253.25 424h0M251.25 429h0M200.5 469.25h0M76.5 546.75h0M254.5 439.5h0M209 491h0M215.25 460h0M181.25 459.5h0M242.5 421.75h0M280.25 406h0M189.5 449h0M178.25 479.5h0M152.25 463.75h0M248 411.5h0M379.25 353.75h0M97.5 539h0M98.5 507.75h0M230 414.75h0M134.5 518.25h0M363.25 343h0M121.75 530.25h0M389 353.75h0M274.25 418.5h0M187.5 482h0M107 537.5h0M352.75 340.75h0M144 475.5h0M378 352.25h0M303.5 371.5h0M373.75 321h0M254.25 404.5h0M131 533h0M331 364.5h0M183 447.5h0M164.5 496.5h0M223 442.75h0M194 471.25h0M328.5 354.25h0M110.75 505h0M179.5 483.5h0M236.5 442.75h0M219.75 451.5h0M350.25 358.5h0M272.75 420.75h0M209.25 462.75h0M356.25 332.25h0M123.25 492.5h0M294.75 400h0M182.25 483.25h0M201.5 476.5h0M295.5 393.75h0M167.25 464h0M168.25 459h0M92 544.75h0M280.5 387h0M250.5 414.5h0M100.5 510.25h0M224.25 427.5h0M249.5 414.5h0M191.5 449.25h0M143.5 487.5h0M178 461.25h0M76.25 530.5h0M207.5 465.5h0M173.25 449.75h0M335.75 346h0M251 444.25h0M268.25 396.5h0M345.75 365.25h0M174.75 461.5h0M190 496h0M317.25 370.5h0M85.75 546.75h0M219.5 444.75h0M293.75 403.25h0M403.75 308h0M361.5 355.5h0M278.75 412h0M180 477.75h0M339.25 364.75h0M151 476.25h0M205.5 470h0M183.75 458h0M310 400h0M288.5 405.5h0M129 467.25h0M251 451.25h0M312 354.25h0M326.75 384h0M133 490h0M395.25 304.25h0M149 503.5h0M375.75 338h0M352.25 339.25h0M254.5 429h0M365.25 320.25h0M235.5 423h0M386.5 318.5h0M261.75 389.5h0M387.75 343.5h0M234.5 446.25h0M366 354.5h0M276.25 402h0M351.75 339.5h0M159.25 509.5h0M208 464.5h0M362 322h0M115.5 494h0M193 448.75h0M391.5 317h0M246.25 417.75h0M374.5 319h0M343.25 375h0M264.75 411.75h0M107.25 508.25h0M259.5 425.25h0M322.25 357.5h0M296.5 395h0M447.5 307.25h0M354.25 352h0M342.75 368.75h0M408.25 302.25h0M315.25 362.25h0M308.75 385h0M107 519.5h0M288 399.75h0M400.75 316.75h0M270.5 413.75h0M106.5 542.75h0M197.5 450.25h0M285 385.5h0M207.25 441h0M324.25 362.5h0M202 453.75h0M104.25 509.75h0M335.5 389.75h0M304.5 377.75h0M284.25 369h0M211.5 459.5h0M402.5 320.25h0M170 456h0M316.75 369.75h0M159.5 470h0M147.25 511.5h0M267.75 422.5h0M340.25 343.75h0M330.5 377.25h0M281 414.5h0M386.75 336.5h0M250.5 418.25h0M108.75 542h0M189.5 450.5h0M223.5 429.75h0M348.5 376.5h0M336.75 373.25h0M238 417.5h0M331.25 362.25h0M176.75 494.5h0M234.5 440.75h0M400 318.5h0M247.75 417h0M176.5 456h0M348.5 376h0M293.5 377.25h0M309 387.25h0M87.75 533h0M199.25 469.5h0M93.25 519.25h0M336.5 388.5h0M188 449h0M351.75 315.75h0M217 416h0M256.5 400.5h0M236.5 452.5h0M219 446h0M241.75 428.5h0M221.75 446.5h0M190.75 479.25h0M325.25 378.5h0M224 446.25h0M219.5 441.5h0M237.5 425.5h0M248.75 450h0M259 429h0M386.5 321.25h0M181.5 478.75h0M291.5 410.75h0M333 380h0M93.75 519.75h0M398.75 321h0M339 341.25h0M345.5 337h0M210 440.75h0M94 545.5h0M329.5 381.75h0M163.75 456.5h0M260.5 406.5h0M205.75 453h0M173.25 452.75h0M301.5 388h0M136.5 485.75h0M260.5 391.25h0M374.75 336.5h0M181.5 440.5h0M101.25 493.25h0M214.25 483h0M373.75 327.5h0M308.75 389.75h0M233.25 430h0M340 343h0M267.25 402.5h0M85.75 520h0M315 358.75h0M383.25 311h0M259.25 426.25h0M209.5 453.25h0M122.5 490.25h0M371.25 356h0M208.25 467.5h0M232.5 437.75h0M222.25 420.5h0M372.25 319.75h0M298 378.5h0M390.25 338h0M255 393.5h0M391.25 314.25h0M86.75 545.25h0M384.25 329.5h0M144.25 474h0M360.75 342.75h0M386.25 340h0M181.5 484.25h0M287.5 384.25h0M207.75 474.5h0M301.5 408h0M403 306.5h0M262.75 430h0M311.25 361.5h0M196.25 467.75h0M168 504.5h0M97 521.25h0M102.75 545h0M256 438.75h0M205 442.75h0M190.25 484.5h0M229.25 404.25h0M356.25 357.25h0M339.25 371.25h0M252.5 439h0M334.25 354.25h0M301.5 371.25h0M253.25 410.75h0M274.25 401h0M168 499.25h0M220 459.25h0M133.25 483.75h0M252 440.5h0M286.75 412.75h0M88 521.25h0M374.75 340.5h0M261.25 411.5h0M347.25 353h0M135 490.5h0M365.75 360.75h0M140 473.5h0M347.5 370.75h0M181 488.5h0M141.5 522.5h0M172.5 464.75h0M354 358.75h0M218 468.5h0M175.25 450.75h0M84.5 536.5h0M130.5 530.5h0M112.75 546h0M327 345h0M183 480.25h0M280.75 407.25h0M167.25 507.5h0M157 495.5h0M346.25 358.75h0M167 501.25h0M93.25 523h0M388.75 330.5h0M317.5 390h0M332.75 354.25h0M309.5 390.5h0M290.25 407.75h0M195.75 473.25h0M214.25 435.25h0M107.5 534.75h0M317 373.25h0M285.75 417.25h0M243 429.25h0M350.25 344h0M225 449h0M305.25 393.25h0M370.25 329h0M144 535.75h0M172.25 463.25h0M340.75 357.75h0M133.5 484h0M324.75 380.75h0M86 517.5h0M397.75 323h0M237 444.5h0M209 443.25h0M195.25 475.25h0M240.75 425.75h0M280.25 387.5h0M368.75 354h0M254.5 403.75h0M308.75 391.75h0M245 444.5h0M383 320h0M183 473h0M388 326h0M221.75 449.75h0M134.75 492.5h0M400.75 314.5h0M274.5 398.25h0M84.25 547h0M126 531.75h0M135 471h0M340 353.25h0M95.75 539.75h0M380.75 327h0M195.5 468.5h0M330.5 343.75h0M425 311h0M363.5 346.5h0M230 447.5h0M96.75 506.5h0M373.5 329h0M209.5 429h0M203.5 436.5h0M243.5 442.5h0M364.75 350.75h0M253.5 426.5h0M277.75 412h0M120.5 496.75h0M165.5 467.25h0M398 325.75h0M292.25 403.75h0M298.75 375.5h0M154 478h0M267 397.75h0M237.5 427.5h0M127.75 527h0M189.75 451.5h0M371.75 319.5h0M307.75 396.75h0M370.25 329.5h0M289.75 395.5h0M330 392.5h0M281.75 381.5h0M296.25 404h0M218.5 458.75h0M126 527h0M150.25 518.25h0M200.5 454.75h0M229.25 449.5h0M278.5 387.75h0M158 495.75h0M88.25 507.75h0M150.25 523.75h0M151 478.25h0M365.5 347.25h0M134.5 483.75h0M291.25 398.75h0M86.75 530h0M281.25 411h0M304.5 397.5h0M174.25 461.75h0M245 429h0M110.25 510.5h0M382.75 305.5h0M156.75 506.5h0M298.75 422.75h0M110 541.25h0M242.25 415.75h0M387.25 329.75h0M93.5 516.75h0M79 548h0M304.25 399.5h0M415.25 354.5h0M188 460.5h0M214 442.75h0M255.75 418.25h0M370 324h0M127 494h0M385.25 334h0M173 489h0M312.5 359.5h0M370 328.5h0M411 315.5h0M222.5 424.5h0M76.75 533.5h0M241 406.75h0M339.75 364.25h0M333.75 336h0M233 443.75h0M364.25 350h0M286.75 402.25h0M247.5 443.5h0M268.5 427.75h0M392.25 331.75h0M197.75 451.25h0M381.25 333.25h0M136 529.25h0M266.25 414.75h0M257.5 400.75h0M266.75 424h0M335.5 334h0M201.25 450h0M218.25 429.75h0M146.5 478.75h0M347.5 358.75h0M185 482.5h0M106.25 543h0M165.25 457h0M267.75 426.25h0M290 399h0M278.75 409.5h0M188 501.5h0M261.5 392.25h0M177 447.25h0M396.5 332.25h0M309.75 340.75h0M151.25 503h0M389.25 325h0M415.75 309.5h0M181 447h0M328.25 390.75h0M135.5 483.75h0M235.25 435h0M147.75 480.25h0M382.75 316h0M289.75 378.75h0M392.5 334.75h0M358.5 346.75h0M203.25 450.5h0M214.25 446h0M118.5 496.75h0M289.25 374.5h0M271.75 392.25h0M291.5 377.25h0M360.25 309h0M313.25 397h0M169.25 502.5h0M410 312.5h0M369.75 322.5h0M392 308.25h0M294.25 405.5h0M381 357.5h0M279 390.75h0M82 547.25h0M183.75 490.25h0M218.75 449.25h0M199.75 448.75h0M258.75 410.25h0M353.75 353.75h0M196.75 446.75h0M254.5 408.5h0M397.75 346.5h0M130.75 487.75h0M130 526h0M357.75 362.5h0M385 318h0M242.75 435.75h0M164.5 497.75h0M351 327.25h0M375.5 351.25h0M228 414.75h0M239 412.25h0M290 375.75h0M414.25 297.75h0M227.25 427.75h0M229.5 462h0M367 325.25h0M236.25 414.5h0M139 525.5h0M284.5 410.75h0M359.5 369.25h0M361.75 327.5h0M239.75 445.5h0M403 325h0M378.25 316.5h0M337.25 384h0M177.25 464.25h0M165.5 453.25h0M342.5 373.75h0M391.25 326.5h0M349.5 344.5h0M219.75 448.25h0M260.5 412.25h0M336 382h0M385 318.75h0M201.5 453.25h0M179.25 459.75h0M77.25 505h0M328.25 351.5h0M204.5 466.75h0M307.5 395h0M210.75 465.5h0M225 427.75h0M319.5 412.5h0M276.75 398.75h0M152.5 476.75h0M273.75 433h0M385.25 335.75h0M138.75 482.25h0M199 450.5h0M190.25 480.75h0M350.75 357.25h0M397 316h0M289.25 409h0M329.5 377.5h0M218.75 435.75h0M76.5 524.75h0M332.25 343h0M334.25 362h0M101.75 509h0M393.75 314.75h0M300.25 366h0M118.75 531.5h0M258.75 408h0M273.75 395.5h0M236.75 442.25h0M208 423h0M157.75 474.25h0M343.75 378h0M134.25 485.75h0M329.75 392.25h0M426 301h0M159.25 495.75h0M178.75 495.75h0M166.25 494.25h0M374.25 330.25h0M79.5 534.25h0M383.25 347.75h0M266.5 419.75h0M86.75 518h0M165.25 507.25h0M241.75 438.75h0M178.25 490.25h0M175.5 458h0M93 517.75h0M279.75 421h0M184.75 460.25h0M372.75 346.5h0M202.5 468.5h0M389.25 308.75h0M313 364.25h0M139.5 472.75h0M388.25 304.75h0M183.5 489.75h0M153 471.25h0M245.5 413.75h0M300 399.5h0M267.5 418.25h0M158.5 508.5h0M202 438.25h0M179.25 491.25h0M326.75 381.5h0M277.5 419h0M121 531.25h0M383.25 336h0M305.5 355h0M280.5 418.25h0M205 444.25h0M312.75 392.75h0M342.5 341.5h0M118.75 539h0M366.25 311.5h0M392.25 332.25h0M218 428.25h0M276.75 384.25h0M357.75 358.5h0M295.5 424.5h0M408 324.75h0M288.75 415.25h0M197.75 453.75h0M248.5 433.75h0M277.25 395.25h0M180.25 488h0M129.5 492.75h0M309.25 392.75h0M129 543.25h0M400.75 321.25h0M364.25 327.5h0M181.25 492.5h0M338 339.5h0M333 372.25h0M333 363.25h0M129.25 534h0M164.25 504.25h0M307 405.75h0M161.25 462.25h0M302.25 361.75h0M370.25 348h0M170.75 493.75h0M329.5 379.25h0M108 533.25h0M224 430.75h0M282.25 415.25h0M256.25 440.5h0M104.25 520h0M278.25 370.25h0M172.75 460.75h0M82.75 547.75h0M341.75 377.75h0M268 418h0M368 331.75h0M348.5 344.5h0M109.25 534.75h0M267.25 427.5h0M231 453.5h0M179.75 462.5h0M209 453.25h0M349 343.75h0M219.25 433h0M187.25 461h0M112.75 537.5h0M142 510.75h0M141 486.5h0M377.25 321.75h0M233.25 424.75h0M273.75 423.5h0M283 414.5h0M387 309.5h0M323.25 364.75h0M360 362h0M373.75 321.75h0M343.5 370.5h0M184.25 459.5h0M260.75 422h0M340.25 426.25h0M86 523.75h0M340.25 370.75h0M327.25 384.75h0M392.75 359h0M145.25 480.75h0M316 355.5h0M87.75 511.75h0M184 484.25h0M370 330h0M360.5 362h0M237 436h0M81.25 530.25h0"/>
<path d="M61.5 556.1L447.5 281.5" stroke="#ff0000" stroke-width="3.7" stroke-linecap="butt" fill="none"/>
<rect x="42.5" y="268.7" width="424.1" height="301.3" fill="none" stroke="#222" stroke-width="1"/>
<path d="M43.6 570.0v3.8M42.5 565.3h-3.8M133.3 570.0v3.8M42.5 502.9h-3.8M223.1 570.0v3.8M42.5 440.6h-3.8M312.9 570.0v3.8M42.5 378.2h-3.8M402.6 570.0v3.8M42.5 315.9h-3.8" stroke="#222" stroke-width="0.9" fill="none"/>
<g font-size="11" fill="#000">
<text x="43.6" y="585.5" text-anchor="middle">0</text>
<text x="34.8" y="569.4" text-anchor="end">0</text>
<text x="133.3" y="585.5" text-anchor="middle">10</text>
<text x="34.8" y="507.0" text-anchor="end">10</text>
<text x="223.1" y="585.5" text-anchor="middle">20</text>
<text x="34.8" y="444.7" text-anchor="end">20</text>
<text x="312.9" y="585.5" text-anchor="middle">30</text>
<text x="34.8" y="382.3" text-anchor="end">30</text>
<text x="402.6" y="585.5" text-anchor="middle">40</text>
<text x="34.8" y="320.0" text-anchor="end">40</text>
<text x="255" y="601" text-anchor="middle">GNSS PWV (mm)</text>
<text transform="translate(14,419) rotate(-90)" text-anchor="middle">RDS PWV (mm)</text>
</g>
<text x="52.9" y="286.1" font-size="13" fill="#000">(b)</text>
<rect x="84.6" y="270.6" width="95.6" height="18.3" rx="1.5" fill="#fff" fill-opacity="0.8" stroke="#ccc" stroke-width="0.7"/>
<path d="M87.5 279.4h24.9" stroke="#ff0000" stroke-width="3.7" fill="none"/>
<text x="119.3" y="283.4" font-size="10.95" fill="#000">Fitted Line</text>
<g font-size="13.1" fill="#000">
<text x="52.5" y="310">Polyfit:<tspan x="106.8" font-weight="bold">y = 1.024*x-0.565</tspan></text>
<text x="52.5" y="328.8">Goodness of Fit:<tspan x="169.8" font-weight="bold">0.97</tspan></text>
</g>
</svg></body></html>
